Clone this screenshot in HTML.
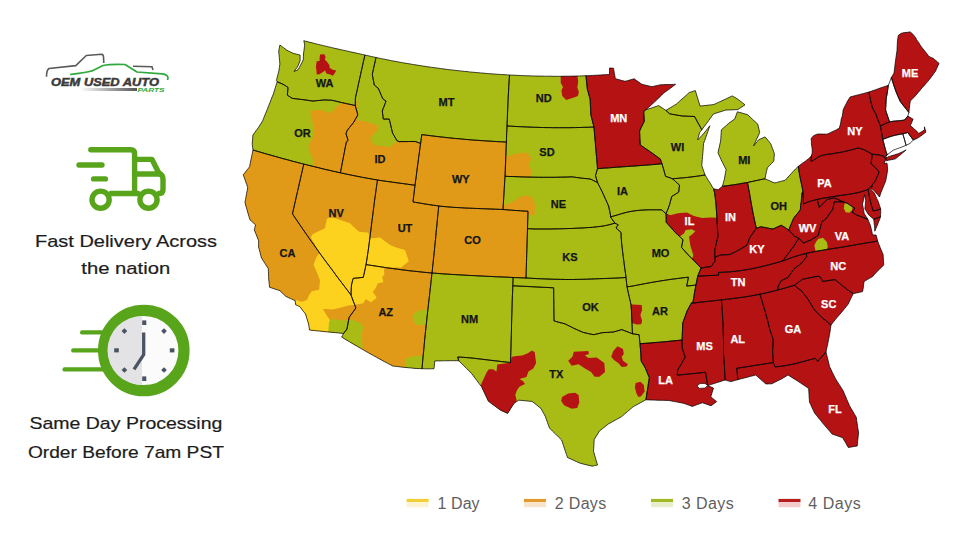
<!DOCTYPE html>
<html><head><meta charset="utf-8">
<style>
html,body{margin:0;padding:0;background:#fff;}
body{width:960px;height:540px;overflow:hidden;position:relative;font-family:"Liberation Sans",sans-serif;}
svg.map{position:absolute;left:0;top:0;}
.lbl{font-family:"Liberation Sans",sans-serif;font-weight:bold;font-size:11px;text-anchor:middle;}
</style></head><body>
<svg class="map" width="960" height="540" viewBox="0 0 960 540">
<defs><clipPath id="land"><path d="M303.8,40.7 304.3,43.0 304.7,45.3 304.3,47.8 304.0,50.4 303.6,52.9 303.4,56.3 303.3,59.8 301.9,62.5 300.5,65.2 299.3,67.5 298.0,69.8 296.0,70.6 294.0,71.4 295.7,69.2 297.4,67.1 298.8,63.9 300.1,60.7 300.1,57.9 300.1,55.1 298.2,54.6 296.3,54.1 294.5,53.6 292.6,53.1 290.6,52.1 288.6,51.1 286.7,50.1 285.0,48.8 283.3,47.5 281.6,46.2 279.9,45.0 279.3,48.1 278.7,51.3 279.0,54.5 279.3,57.6 279.6,60.8 279.9,64.0 279.4,67.4 278.9,70.8 278.3,73.2 277.6,75.7 277.0,78.2 276.4,80.6 277.2,81.7 279.1,82.6 281.1,83.4 283.0,84.3 284.7,85.3 286.4,86.4 288.0,87.4 287.8,90.0 287.6,92.6 287.4,95.2 289.0,96.2 290.5,97.3 292.1,98.3 294.2,98.6 296.4,98.8 298.5,99.1 300.7,99.4 302.8,99.6 305.0,99.9 307.0,100.2 309.0,100.5 311.1,100.8 313.1,101.1 315.3,100.8 317.6,100.6 319.8,100.4 322.0,100.2 324.2,99.9 326.1,100.0 327.9,100.1 329.8,100.2 331.6,100.2 333.8,100.7 335.9,101.2 338.0,101.7 340.2,102.2 342.3,102.7 344.5,103.2 346.6,103.7 348.8,104.1 351.0,104.6 353.1,105.1 355.3,105.5 355.3,103.1 355.4,100.6 355.4,98.2 356.1,94.8 356.9,91.5 357.6,88.1 358.3,84.8 359.0,81.5 359.8,78.1 360.5,74.8 361.2,71.5 362.0,68.2 362.7,64.9 363.4,61.6 364.2,58.3 364.9,55.0 362.7,54.5 360.6,54.0 358.4,53.6 356.3,53.1 354.1,52.6 352.0,52.2 349.8,51.7 347.7,51.2 345.6,50.7 343.5,50.3 341.4,49.8 339.2,49.3 337.1,48.8 335.0,48.4 332.9,47.9 330.8,47.4 328.7,46.9 326.7,46.4 324.6,45.9 322.5,45.4 320.4,44.9 318.3,44.4 316.2,43.9 314.2,43.4 312.1,42.8 310.0,42.3 308.0,41.8 305.9,41.3Z M277.2,81.7 276.2,84.8 275.3,87.8 274.3,90.9 273.4,93.9 272.2,96.8 271.1,99.6 270.0,102.5 268.8,105.4 267.7,108.2 266.7,110.8 265.6,113.3 264.6,115.8 263.6,118.4 262.6,120.9 260.7,123.9 258.8,126.9 256.9,129.6 254.9,132.3 252.9,135.1 252.7,138.2 252.4,141.3 252.2,144.4 252.6,147.2 253.0,150.0 255.3,150.7 257.6,151.4 259.8,152.0 262.1,152.7 264.4,153.4 266.7,154.0 269.0,154.7 271.3,155.3 273.6,156.0 275.9,156.6 278.2,157.3 280.5,157.9 282.8,158.6 285.2,159.2 287.5,159.8 289.8,160.4 292.1,161.1 294.5,161.7 296.8,162.3 299.1,162.9 301.5,163.5 303.8,164.1 306.2,164.7 308.6,165.3 311.1,165.9 313.5,166.5 315.9,167.1 318.4,167.7 320.8,168.3 323.3,168.9 325.7,169.5 328.1,170.0 330.6,170.6 333.0,171.2 335.5,171.7 337.9,172.3 340.4,172.8 341.0,169.4 341.7,166.1 342.3,162.7 343.0,159.3 343.6,156.0 344.3,152.6 344.9,149.2 345.6,145.8 346.3,142.4 348.0,140.2 347.0,136.9 346.0,133.6 346.6,131.9 347.3,130.3 349.5,127.5 351.7,124.8 353.9,122.0 355.2,119.6 356.5,117.3 357.8,114.9 357.0,111.8 356.1,108.7 355.3,105.5 353.1,105.1 351.0,104.6 348.8,104.1 346.6,103.7 344.5,103.2 342.3,102.7 340.2,102.2 338.0,101.7 335.9,101.2 333.8,100.7 331.6,100.2 329.8,100.2 327.9,100.1 326.1,100.0 324.2,99.9 322.0,100.2 319.8,100.4 317.6,100.6 315.3,100.8 313.1,101.1 311.1,100.8 309.0,100.5 307.0,100.2 305.0,99.9 302.8,99.6 300.7,99.4 298.5,99.1 296.4,98.8 294.2,98.6 292.1,98.3 290.5,97.3 289.0,96.2 287.4,95.2 287.6,92.6 287.8,90.0 288.0,87.4 286.4,86.4 284.7,85.3 283.0,84.3 281.1,83.4 279.1,82.6Z M309.5,330.0 309.1,327.1 308.6,324.2 307.6,320.8 306.5,317.3 305.5,313.9 303.5,311.5 301.6,309.0 299.7,306.5 297.7,305.7 295.7,304.8 295.4,302.7 295.1,300.6 292.8,299.6 290.5,298.6 288.2,297.5 285.9,296.4 283.9,294.5 281.9,292.6 279.9,290.7 277.3,289.8 274.7,289.0 272.1,288.1 269.5,287.2 269.3,284.6 269.0,281.9 268.7,279.2 268.6,276.5 268.5,273.9 268.4,271.2 268.3,268.6 266.6,266.0 264.9,263.3 263.2,260.7 261.5,258.1 260.7,255.3 260.0,252.4 259.3,249.6 258.5,246.8 258.6,243.7 258.6,240.7 257.2,237.1 255.7,233.4 254.3,229.8 254.9,227.4 255.6,224.9 253.7,223.2 251.8,221.5 250.0,219.8 248.9,216.3 247.9,212.9 246.9,209.4 245.9,206.0 245.0,202.5 245.5,199.5 246.1,196.5 246.6,193.4 247.2,190.4 247.7,187.4 246.6,184.2 245.5,181.1 244.4,177.9 243.3,174.8 245.4,172.1 247.5,169.4 249.6,166.7 250.2,163.4 250.9,160.0 251.6,156.7 252.3,153.3 253.0,150.0 255.3,150.7 257.6,151.4 259.8,152.0 262.1,152.7 264.4,153.4 266.7,154.0 269.0,154.7 271.3,155.3 273.6,156.0 275.9,156.6 278.2,157.3 280.5,157.9 282.8,158.6 285.2,159.2 287.5,159.8 289.8,160.4 292.1,161.1 294.5,161.7 296.8,162.3 299.1,162.9 301.5,163.5 303.8,164.1 303.0,167.4 302.3,170.7 301.5,174.1 300.7,177.4 300.0,180.7 299.2,184.0 298.5,187.3 297.7,190.6 297.0,193.9 296.2,197.2 295.5,200.5 294.7,203.8 294.0,207.1 293.2,210.4 292.5,213.8 294.5,216.9 296.6,220.0 298.7,223.1 300.8,226.2 302.9,229.2 305.0,232.3 307.2,235.4 309.3,238.5 311.5,241.6 313.7,244.6 315.9,247.7 318.0,250.7 320.2,253.8 322.4,256.8 324.6,259.8 326.8,262.8 329.1,265.8 331.3,268.8 333.5,271.7 335.6,274.7 337.8,277.6 340.0,280.5 342.2,283.4 344.4,286.3 346.6,289.2 348.8,292.1 351.0,295.0 352.2,298.2 353.4,301.5 354.7,304.7 355.9,308.0 353.7,311.1 351.4,314.2 349.2,317.2 348.6,320.2 348.0,323.2 347.5,326.2 346.9,329.1 345.3,331.3 343.6,333.4 340.9,333.2 338.3,332.9 335.7,332.7 333.1,332.4 330.4,332.2 327.8,331.9 325.2,331.7 322.6,331.4 320.0,331.1 317.4,330.9 314.7,330.6 312.1,330.3Z M303.8,164.1 306.2,164.7 308.6,165.3 311.1,165.9 313.5,166.5 315.9,167.1 318.4,167.7 320.8,168.3 323.3,168.9 325.7,169.5 328.1,170.0 330.6,170.6 333.0,171.2 335.5,171.7 337.9,172.3 340.4,172.8 342.9,173.3 345.3,173.9 347.8,174.4 350.3,174.9 352.7,175.4 355.2,175.9 357.7,176.4 360.2,176.9 362.6,177.4 365.1,177.8 367.6,178.3 370.1,178.7 372.5,179.2 375.0,179.6 377.5,180.0 377.0,183.4 376.5,186.7 376.0,190.1 375.6,193.5 375.1,196.8 374.6,200.2 374.2,203.6 373.8,207.0 373.3,210.4 372.9,213.8 372.5,217.2 372.0,220.6 371.6,224.0 371.2,227.4 370.8,230.8 370.3,234.2 369.9,237.6 369.5,241.0 369.0,244.4 368.6,247.8 368.1,251.2 367.6,254.5 367.1,257.9 366.6,261.2 366.0,264.5 365.4,267.7 364.7,270.9 364.0,274.1 363.3,277.3 360.8,277.6 358.2,277.9 355.7,278.1 353.2,278.4 352.6,280.6 352.0,282.8 351.5,285.0 351.3,287.5 351.2,290.0 351.1,292.5 351.0,295.0 348.8,292.1 346.6,289.2 344.4,286.3 342.2,283.4 340.0,280.5 337.8,277.6 335.6,274.7 333.5,271.7 331.3,268.8 329.1,265.8 326.8,262.8 324.6,259.8 322.4,256.8 320.2,253.8 318.0,250.7 315.9,247.7 313.7,244.6 311.5,241.6 309.3,238.5 307.2,235.4 305.0,232.3 302.9,229.2 300.8,226.2 298.7,223.1 296.6,220.0 294.5,216.9 292.5,213.8 293.2,210.4 294.0,207.1 294.7,203.8 295.5,200.5 296.2,197.2 297.0,193.9 297.7,190.6 298.5,187.3 299.2,184.0 300.0,180.7 300.7,177.4 301.5,174.1 302.3,170.7 303.0,167.4Z M364.9,55.0 367.1,55.5 369.3,56.0 371.5,56.5 373.8,57.0 376.0,57.5 375.4,60.3 374.8,63.1 374.1,65.9 373.5,68.7 372.9,71.6 372.3,74.4 372.9,77.9 373.6,81.4 374.2,84.9 375.6,86.1 376.9,87.2 378.3,88.3 379.8,91.8 381.3,95.3 382.8,98.8 384.4,100.0 386.0,101.1 385.1,103.6 384.2,106.0 383.2,108.5 382.3,110.9 382.6,113.6 383.0,116.3 383.3,119.0 385.3,119.1 387.3,119.1 389.3,119.2 390.1,122.6 390.9,126.0 391.7,129.4 392.5,132.8 393.9,135.4 395.4,137.9 396.8,140.5 398.0,141.1 399.1,141.7 401.6,141.6 404.1,141.6 406.3,141.6 408.6,141.5 410.8,141.5 413.0,141.5 415.3,141.5 417.0,142.1 418.8,142.8 420.6,143.4 420.1,146.6 419.7,149.9 419.3,153.1 418.8,156.3 418.4,159.6 418.0,162.8 417.5,166.0 417.1,169.2 416.7,172.5 416.3,175.7 415.9,178.9 415.4,182.1 415.0,185.3 412.5,184.9 410.0,184.6 407.5,184.2 405.0,183.9 402.5,183.5 400.0,183.2 397.5,182.9 395.0,182.5 392.5,182.2 390.0,181.8 387.5,181.5 385.0,181.1 382.5,180.8 380.0,180.4 377.5,180.0 375.0,179.6 372.5,179.2 370.1,178.7 367.6,178.3 365.1,177.8 362.6,177.4 360.2,176.9 357.7,176.4 355.2,175.9 352.7,175.4 350.3,174.9 347.8,174.4 345.3,173.9 342.9,173.3 340.4,172.8 341.0,169.4 341.7,166.1 342.3,162.7 343.0,159.3 343.6,156.0 344.3,152.6 344.9,149.2 345.6,145.8 346.3,142.4 348.0,140.2 347.0,136.9 346.0,133.6 346.6,131.9 347.3,130.3 349.5,127.5 351.7,124.8 353.9,122.0 355.2,119.6 356.5,117.3 357.8,114.9 357.0,111.8 356.1,108.7 355.3,105.5 355.3,103.1 355.4,100.6 355.4,98.2 356.1,94.8 356.9,91.5 357.6,88.1 358.3,84.8 359.0,81.5 359.8,78.1 360.5,74.8 361.2,71.5 362.0,68.2 362.7,64.9 363.4,61.6 364.2,58.3Z M376.0,57.5 378.2,58.0 380.4,58.4 382.7,58.9 384.9,59.3 387.1,59.8 389.3,60.2 391.5,60.7 393.8,61.1 396.0,61.5 398.2,61.9 400.4,62.3 402.6,62.7 404.9,63.1 407.1,63.5 409.3,63.8 411.5,64.2 413.7,64.6 416.0,64.9 418.2,65.3 420.4,65.6 422.6,66.0 424.9,66.3 427.1,66.7 429.3,67.0 431.5,67.3 433.8,67.6 436.0,67.9 438.2,68.2 440.4,68.5 442.7,68.8 444.9,69.1 447.1,69.4 449.3,69.7 451.6,69.9 453.8,70.2 456.0,70.4 458.3,70.7 460.5,70.9 462.7,71.2 464.9,71.4 467.2,71.6 469.4,71.9 471.6,72.1 473.9,72.3 476.1,72.5 478.3,72.7 480.5,72.9 482.8,73.1 485.0,73.3 487.2,73.5 489.5,73.7 491.7,73.8 493.9,74.0 496.1,74.2 498.4,74.3 500.6,74.5 502.8,74.6 505.0,74.7 507.3,74.9 509.5,75.0 509.3,78.2 509.1,81.3 508.9,84.5 508.7,87.7 508.6,90.9 508.4,94.0 508.2,97.2 508.1,100.4 507.9,103.6 507.8,106.8 507.7,109.9 507.5,113.1 507.4,116.3 507.3,119.6 507.1,122.8 507.0,126.0 506.9,129.2 506.7,132.4 506.6,135.6 506.5,138.8 506.4,142.1 504.0,141.9 501.6,141.8 499.2,141.7 496.8,141.6 494.4,141.4 492.0,141.3 489.6,141.1 487.2,141.0 484.8,140.8 482.4,140.7 480.0,140.5 477.6,140.3 475.1,140.2 472.7,140.0 470.3,139.8 467.9,139.6 465.5,139.4 463.0,139.2 460.6,138.9 458.2,138.7 455.7,138.5 453.3,138.3 450.9,138.0 448.5,137.8 446.0,137.5 443.6,137.2 441.2,137.0 438.8,136.7 436.3,136.4 433.9,136.1 431.5,135.8 429.1,135.5 426.6,135.2 424.2,134.9 421.8,134.6 421.4,137.5 421.0,140.5 420.6,143.4 418.8,142.8 417.0,142.1 415.3,141.5 413.0,141.5 410.8,141.5 408.6,141.5 406.3,141.6 404.1,141.6 401.6,141.6 399.1,141.7 398.0,141.1 396.8,140.5 395.4,137.9 393.9,135.4 392.5,132.8 391.7,129.4 390.9,126.0 390.1,122.6 389.3,119.2 387.3,119.1 385.3,119.1 383.3,119.0 383.0,116.3 382.6,113.6 382.3,110.9 383.2,108.5 384.2,106.0 385.1,103.6 386.0,101.1 384.4,100.0 382.8,98.8 381.3,95.3 379.8,91.8 378.3,88.3 376.9,87.2 375.6,86.1 374.2,84.9 373.6,81.4 372.9,77.9 372.3,74.4 372.9,71.6 373.5,68.7 374.1,65.9 374.8,63.1 375.4,60.3Z M420.6,143.4 421.0,140.5 421.4,137.5 421.8,134.6 424.2,134.9 426.6,135.2 429.1,135.5 431.5,135.8 433.9,136.1 436.3,136.4 438.8,136.7 441.2,137.0 443.6,137.2 446.0,137.5 448.5,137.8 450.9,138.0 453.3,138.3 455.7,138.5 458.2,138.7 460.6,138.9 463.0,139.2 465.5,139.4 467.9,139.6 470.3,139.8 472.7,140.0 475.1,140.2 477.6,140.3 480.0,140.5 482.4,140.7 484.8,140.8 487.2,141.0 489.6,141.1 492.0,141.3 494.4,141.4 496.8,141.6 499.2,141.7 501.6,141.8 504.0,141.9 506.4,142.1 506.2,145.5 506.1,148.9 506.0,152.4 505.8,155.8 505.7,159.2 505.6,162.7 505.4,166.1 505.3,169.5 505.2,172.9 505.0,176.2 504.8,179.6 504.6,182.9 504.4,186.2 504.2,189.5 504.0,192.9 503.8,196.2 503.6,199.5 503.4,202.8 503.2,206.1 503.0,209.5 500.5,209.4 497.9,209.3 495.4,209.2 492.9,209.1 490.3,209.0 487.8,208.9 485.2,208.8 482.6,208.7 480.1,208.6 477.5,208.5 474.9,208.4 472.3,208.3 469.8,208.2 467.2,208.1 464.6,208.0 462.0,207.8 459.4,207.7 456.9,207.5 454.3,207.4 451.7,207.2 449.1,207.0 446.5,206.8 443.9,206.5 441.3,206.3 438.8,206.0 436.2,205.6 433.6,205.3 431.0,204.9 428.4,204.5 425.8,204.1 423.3,203.7 420.7,203.2 418.1,202.8 415.6,202.4 413.0,202.0 413.4,198.6 413.8,195.3 414.2,192.0 414.6,188.6 415.0,185.3 415.4,182.1 415.9,178.9 416.3,175.7 416.7,172.5 417.1,169.2 417.5,166.0 418.0,162.8 418.4,159.6 418.8,156.3 419.3,153.1 419.7,149.9 420.1,146.6Z M377.5,180.0 380.0,180.4 382.5,180.8 385.0,181.1 387.5,181.5 390.0,181.8 392.5,182.2 395.0,182.5 397.5,182.9 400.0,183.2 402.5,183.5 405.0,183.9 407.5,184.2 410.0,184.6 412.5,184.9 415.0,185.3 414.6,188.6 414.2,192.0 413.8,195.3 413.4,198.6 413.0,202.0 415.6,202.4 418.1,202.8 420.7,203.2 423.3,203.7 425.8,204.1 428.4,204.5 431.0,204.9 433.6,205.3 436.2,205.6 438.8,206.0 438.4,209.4 438.1,212.7 437.7,216.1 437.4,219.4 437.1,222.8 436.8,226.1 436.4,229.5 436.1,232.8 435.8,236.2 435.5,239.5 435.1,242.9 434.8,246.3 434.5,249.6 434.1,253.0 433.8,256.3 433.4,259.7 433.1,263.0 432.7,266.3 432.4,269.7 432.0,273.0 429.3,272.8 426.7,272.5 424.0,272.3 421.4,272.0 418.7,271.7 416.1,271.4 413.5,271.2 410.8,270.9 408.2,270.6 405.5,270.2 402.9,269.9 400.3,269.6 397.6,269.2 395.0,268.9 392.4,268.5 389.8,268.2 387.1,267.8 384.5,267.4 381.9,267.0 379.2,266.6 376.6,266.2 374.0,265.8 371.3,265.4 368.7,265.0 366.0,264.5 366.6,261.2 367.1,257.9 367.6,254.5 368.1,251.2 368.6,247.8 369.0,244.4 369.5,241.0 369.9,237.6 370.3,234.2 370.8,230.8 371.2,227.4 371.6,224.0 372.0,220.6 372.5,217.2 372.9,213.8 373.3,210.4 373.8,207.0 374.2,203.6 374.6,200.2 375.1,196.8 375.6,193.5 376.0,190.1 376.5,186.7 377.0,183.4Z M438.8,206.0 441.3,206.3 443.9,206.5 446.5,206.8 449.1,207.0 451.7,207.2 454.3,207.4 456.9,207.5 459.4,207.7 462.0,207.8 464.6,208.0 467.2,208.1 469.8,208.2 472.3,208.3 474.9,208.4 477.5,208.5 480.1,208.6 482.6,208.7 485.2,208.8 487.8,208.9 490.3,209.0 492.9,209.1 495.4,209.2 497.9,209.3 500.5,209.4 503.0,209.5 505.5,209.7 508.0,209.9 510.5,210.1 513.0,210.3 515.5,210.5 518.0,210.6 520.5,210.8 523.0,211.0 525.5,211.1 528.0,211.3 527.9,214.8 527.8,218.3 527.7,221.8 527.6,225.3 527.5,228.7 527.4,232.1 527.3,235.5 527.2,238.8 527.1,242.1 527.0,245.4 526.9,248.6 526.8,251.9 526.7,255.1 526.6,258.4 526.5,261.6 526.4,264.9 526.3,268.2 526.2,271.4 526.1,274.7 526.0,278.0 523.4,277.9 520.8,277.8 518.2,277.7 515.7,277.6 513.1,277.5 510.5,277.4 507.8,277.2 505.2,277.1 502.6,277.0 500.0,276.9 497.3,276.8 494.7,276.7 492.1,276.5 489.5,276.4 486.9,276.3 484.2,276.2 481.6,276.0 479.0,275.9 476.4,275.8 473.8,275.6 471.1,275.5 468.5,275.4 465.9,275.2 463.3,275.1 460.7,274.9 458.1,274.8 455.4,274.6 452.8,274.5 450.2,274.3 447.6,274.1 445.0,274.0 442.4,273.8 439.8,273.6 437.2,273.4 434.6,273.2 432.0,273.0 432.4,269.7 432.7,266.3 433.1,263.0 433.4,259.7 433.8,256.3 434.1,253.0 434.5,249.6 434.8,246.3 435.1,242.9 435.5,239.5 435.8,236.2 436.1,232.8 436.4,229.5 436.8,226.1 437.1,222.8 437.4,219.4 437.7,216.1 438.1,212.7 438.4,209.4Z M366.0,264.5 368.7,265.0 371.3,265.4 374.0,265.8 376.6,266.2 379.2,266.6 381.9,267.0 384.5,267.4 387.1,267.8 389.8,268.2 392.4,268.5 395.0,268.9 397.6,269.2 400.3,269.6 402.9,269.9 405.5,270.2 408.2,270.6 410.8,270.9 413.5,271.2 416.1,271.4 418.7,271.7 421.4,272.0 424.0,272.3 426.7,272.5 429.3,272.8 432.0,273.0 431.6,276.2 431.3,279.5 430.9,282.7 430.6,285.9 430.2,289.1 429.8,292.4 429.5,295.6 429.1,298.8 428.7,302.1 428.4,305.3 428.0,308.5 427.6,311.8 427.3,315.0 426.9,318.3 426.6,321.6 426.2,324.9 425.9,328.2 425.5,331.5 425.2,334.8 424.8,338.2 424.5,341.5 424.2,344.9 423.9,348.3 423.6,351.7 423.2,355.1 422.9,358.5 422.6,361.9 422.3,365.3 422.0,368.7 419.3,368.6 416.7,368.5 414.0,368.3 411.4,368.0 408.7,367.8 406.1,367.5 403.4,367.3 400.7,367.0 398.1,366.6 395.4,366.3 392.7,366.0 390.0,364.5 387.3,363.1 384.5,361.7 381.8,360.2 379.1,358.7 376.4,357.2 373.7,355.7 371.0,354.2 368.3,352.7 365.6,351.2 362.9,349.6 360.2,348.1 357.6,346.5 354.9,345.0 352.2,343.4 349.6,341.8 347.0,340.3 344.3,338.7 341.7,337.1 342.6,335.3 343.6,333.4 345.3,331.3 346.9,329.1 347.5,326.2 348.0,323.2 348.6,320.2 349.2,317.2 351.4,314.2 353.7,311.1 355.9,308.0 354.7,304.7 353.4,301.5 352.2,298.2 351.0,295.0 351.1,292.5 351.2,290.0 351.3,287.5 351.5,285.0 352.0,282.8 352.6,280.6 353.2,278.4 355.7,278.1 358.2,277.9 360.8,277.6 363.3,277.3 364.0,274.1 364.7,270.9 365.4,267.7Z M432.0,273.0 434.6,273.2 437.2,273.4 439.8,273.6 442.4,273.8 445.0,274.0 447.6,274.1 450.2,274.3 452.8,274.5 455.4,274.6 458.1,274.8 460.7,274.9 463.3,275.1 465.9,275.2 468.5,275.4 471.1,275.5 473.8,275.6 476.4,275.8 479.0,275.9 481.6,276.0 484.2,276.2 486.9,276.3 489.5,276.4 492.1,276.5 494.7,276.7 497.3,276.8 500.0,276.9 502.6,277.0 505.2,277.1 507.8,277.2 510.5,277.4 513.1,277.5 513.0,280.2 512.9,283.0 512.8,285.8 512.7,289.1 512.6,292.4 512.4,295.7 512.3,299.0 512.2,302.3 512.1,305.6 512.0,309.0 511.9,312.3 511.8,315.6 511.7,318.9 511.6,322.3 511.5,325.6 511.5,329.0 511.4,332.3 511.3,335.7 511.2,339.0 511.1,342.4 511.0,345.7 510.9,349.1 510.8,352.4 510.7,355.8 510.6,359.2 510.5,362.5 507.6,362.2 504.6,361.9 501.7,361.6 498.8,361.2 495.8,360.9 492.9,360.5 489.9,360.2 487.0,359.8 484.0,359.5 481.1,359.1 478.1,358.8 475.2,358.4 472.3,358.1 469.3,357.8 466.4,357.6 463.5,357.3 460.6,357.2 457.7,357.0 458.2,358.9 458.8,360.8 456.1,360.7 453.4,360.7 450.7,360.7 448.0,360.7 445.3,360.8 442.7,360.8 440.0,360.9 437.4,360.9 434.7,361.0 434.5,363.6 434.3,366.2 434.0,368.7 431.6,368.8 429.2,368.8 426.8,368.8 424.4,368.8 422.0,368.7 422.3,365.3 422.6,361.9 422.9,358.5 423.2,355.1 423.6,351.7 423.9,348.3 424.2,344.9 424.5,341.5 424.8,338.2 425.2,334.8 425.5,331.5 425.9,328.2 426.2,324.9 426.6,321.6 426.9,318.3 427.3,315.0 427.6,311.8 428.0,308.5 428.4,305.3 428.7,302.1 429.1,298.8 429.5,295.6 429.8,292.4 430.2,289.1 430.6,285.9 430.9,282.7 431.3,279.5 431.6,276.2Z M458.8,360.8 458.2,358.9 457.7,357.0 460.6,357.2 463.5,357.3 466.4,357.6 469.3,357.8 472.3,358.1 475.2,358.4 478.1,358.8 481.1,359.1 484.0,359.5 487.0,359.8 489.9,360.2 492.9,360.5 495.8,360.9 498.8,361.2 501.7,361.6 504.6,361.9 507.6,362.2 510.5,362.5 510.6,359.2 510.7,355.8 510.8,352.4 510.9,349.1 511.0,345.7 511.1,342.4 511.2,339.0 511.3,335.7 511.4,332.3 511.5,329.0 511.5,325.6 511.6,322.3 511.7,318.9 511.8,315.6 511.9,312.3 512.0,309.0 512.1,305.6 512.2,302.3 512.3,299.0 512.4,295.7 512.6,292.4 512.7,289.1 512.8,285.8 515.5,285.9 518.2,286.1 520.9,286.2 523.7,286.3 526.4,286.4 529.1,286.6 531.8,286.7 534.6,286.9 537.3,287.0 540.0,287.2 542.7,287.3 545.5,287.4 548.2,287.5 550.9,287.7 553.6,287.8 553.7,291.1 553.7,294.4 553.7,297.7 553.8,301.0 553.8,304.3 553.8,307.7 553.9,311.0 553.9,314.3 554.0,317.6 554.0,320.9 556.8,321.7 559.7,322.5 562.5,323.2 565.3,324.0 567.4,325.1 569.5,326.1 571.7,327.2 573.8,328.3 576.1,329.3 578.4,330.4 580.8,331.4 583.1,332.4 585.7,333.0 588.4,333.6 591.1,334.2 593.8,334.7 595.9,334.2 598.0,333.7 600.1,333.2 602.2,332.7 605.0,332.5 607.8,332.4 610.6,332.2 613.5,332.0 616.3,331.2 619.0,330.4 621.8,329.6 624.5,330.7 627.1,331.7 629.8,332.7 632.5,333.8 634.7,334.1 636.9,334.4 639.1,334.8 639.4,337.7 639.7,340.7 640.0,343.7 640.2,346.6 640.5,349.5 640.7,352.4 640.9,355.3 641.0,358.2 641.2,361.1 643.2,364.4 645.1,367.6 646.2,370.1 647.2,372.6 648.2,375.1 649.3,377.5 648.9,380.6 648.4,383.6 648.0,386.6 647.5,389.6 647.1,392.1 646.7,394.7 646.3,397.3 645.8,399.8 643.3,401.2 640.8,402.6 638.3,403.9 635.8,405.3 633.3,406.6 630.4,409.1 627.5,411.6 624.5,414.1 621.6,416.6 619.0,418.1 616.3,419.6 613.6,421.1 611.0,422.5 608.3,424.0 605.3,426.4 602.4,428.7 599.4,431.0 597.7,433.9 595.9,436.7 594.2,439.6 594.0,442.5 593.9,445.4 593.7,448.3 593.5,451.2 594.3,454.0 595.1,456.7 595.9,459.5 596.7,462.3 597.5,465.0 594.8,465.6 592.1,466.2 589.1,465.4 586.0,464.7 582.9,463.9 579.8,463.1 576.7,461.7 573.7,460.3 570.6,458.9 567.5,457.5 566.5,454.6 565.5,451.7 564.5,448.8 563.6,445.8 562.6,442.9 561.6,440.0 558.6,437.1 555.6,434.1 552.6,431.2 549.6,428.2 548.5,425.3 547.4,422.3 546.4,419.4 545.3,416.4 543.8,413.7 542.4,411.1 540.9,408.4 538.0,406.1 535.1,403.7 532.1,401.4 529.4,401.2 526.8,400.9 524.1,400.7 521.4,400.4 518.7,400.2 516.4,401.7 514.1,403.3 512.5,405.8 510.8,408.4 509.2,411.0 507.6,413.5 505.1,412.3 502.6,411.2 500.2,410.0 497.8,408.2 495.5,406.5 493.1,404.8 490.8,403.1 488.4,401.3 486.7,397.7 485.0,394.1 483.3,390.5 481.6,386.8 479.1,383.6 476.7,380.3 474.2,377.0 471.8,373.7 469.1,371.0 466.5,368.4 463.9,365.8 461.3,363.3Z M513.1,277.5 515.7,277.6 518.2,277.7 520.8,277.8 523.4,277.9 526.0,278.0 528.6,278.1 531.3,278.3 533.9,278.4 536.6,278.6 539.2,278.7 541.9,278.8 544.5,278.9 547.1,279.0 549.8,279.1 552.4,279.2 555.1,279.3 557.7,279.3 560.3,279.4 563.0,279.4 565.6,279.5 568.2,279.5 570.8,279.5 573.5,279.5 576.1,279.4 578.7,279.4 581.3,279.3 583.9,279.3 586.5,279.2 589.1,279.1 591.7,279.0 594.3,278.9 596.9,278.8 599.6,278.7 602.2,278.6 604.8,278.5 607.4,278.4 610.1,278.3 612.7,278.2 615.4,278.1 618.0,278.0 620.7,277.8 623.3,277.7 626.0,277.4 626.3,280.7 626.7,283.8 627.0,286.8 627.7,290.0 628.4,293.2 629.1,296.3 629.8,299.3 630.5,302.3 631.1,305.3 631.3,308.5 631.5,311.7 631.6,314.8 631.7,317.9 631.9,321.1 632.0,324.2 632.2,327.4 632.3,330.6 632.5,333.8 629.8,332.7 627.1,331.7 624.5,330.7 621.8,329.6 619.0,330.4 616.3,331.2 613.5,332.0 610.6,332.2 607.8,332.4 605.0,332.5 602.2,332.7 600.1,333.2 598.0,333.7 595.9,334.2 593.8,334.7 591.1,334.2 588.4,333.6 585.7,333.0 583.1,332.4 580.8,331.4 578.4,330.4 576.1,329.3 573.8,328.3 571.7,327.2 569.5,326.1 567.4,325.1 565.3,324.0 562.5,323.2 559.7,322.5 556.8,321.7 554.0,320.9 554.0,317.6 553.9,314.3 553.9,311.0 553.8,307.7 553.8,304.3 553.8,301.0 553.7,297.7 553.7,294.4 553.7,291.1 553.6,287.8 550.9,287.7 548.2,287.5 545.5,287.4 542.7,287.3 540.0,287.2 537.3,287.0 534.6,286.9 531.8,286.7 529.1,286.6 526.4,286.4 523.7,286.3 520.9,286.2 518.2,286.1 515.5,285.9 512.8,285.8 512.9,283.0 513.0,280.2Z M526.0,278.0 526.1,274.7 526.2,271.4 526.3,268.2 526.4,264.9 526.5,261.6 526.6,258.4 526.7,255.1 526.8,251.9 526.9,248.6 527.0,245.4 527.1,242.1 527.2,238.8 527.3,235.5 527.4,232.1 527.5,228.7 530.1,228.8 532.6,228.9 535.2,229.0 537.7,229.0 540.3,229.0 542.9,229.0 545.5,229.0 548.1,229.0 550.7,229.0 553.3,228.9 555.9,228.9 558.5,228.8 561.1,228.8 563.7,228.7 566.3,228.6 568.9,228.5 571.5,228.5 574.2,228.3 576.8,228.2 579.4,228.1 582.1,228.0 584.7,227.8 587.3,227.6 589.9,227.5 592.5,227.3 595.1,227.0 597.7,226.7 600.3,226.4 602.8,226.1 605.3,225.6 607.7,225.1 610.1,224.5 612.5,223.8 614.8,223.1 616.5,223.9 618.2,224.8 617.1,226.3 616.0,227.9 617.5,229.3 619.2,230.8 621.1,232.6 621.1,236.1 621.4,239.9 621.7,243.9 622.2,248.0 622.7,252.2 623.2,256.5 623.8,260.8 624.3,265.0 624.9,269.3 625.5,273.4 626.0,277.4 623.3,277.7 620.7,277.8 618.0,278.0 615.4,278.1 612.7,278.2 610.1,278.3 607.4,278.4 604.8,278.5 602.2,278.6 599.6,278.7 596.9,278.8 594.3,278.9 591.7,279.0 589.1,279.1 586.5,279.2 583.9,279.3 581.3,279.3 578.7,279.4 576.1,279.4 573.5,279.5 570.8,279.5 568.2,279.5 565.6,279.5 563.0,279.4 560.3,279.4 557.7,279.3 555.1,279.3 552.4,279.2 549.8,279.1 547.1,279.0 544.5,278.9 541.9,278.8 539.2,278.7 536.6,278.6 533.9,278.4 531.3,278.3 528.6,278.1Z M505.0,176.2 504.8,179.6 504.6,182.9 504.4,186.2 504.2,189.5 504.0,192.9 503.8,196.2 503.6,199.5 503.4,202.8 503.2,206.1 503.0,209.5 505.5,209.7 508.0,209.9 510.5,210.1 513.0,210.3 515.5,210.5 518.0,210.6 520.5,210.8 523.0,211.0 525.5,211.1 528.0,211.3 527.9,214.8 527.8,218.3 527.7,221.8 527.6,225.3 527.5,228.7 530.1,228.8 532.6,228.9 535.2,229.0 537.7,229.0 540.3,229.0 542.9,229.0 545.5,229.0 548.1,229.0 550.7,229.0 553.3,228.9 555.9,228.9 558.5,228.8 561.1,228.8 563.7,228.7 566.3,228.6 568.9,228.5 571.5,228.5 574.2,228.3 576.8,228.2 579.4,228.1 582.1,228.0 584.7,227.8 587.3,227.6 589.9,227.5 592.5,227.3 595.1,227.0 597.7,226.7 600.3,226.4 602.8,226.1 605.3,225.6 607.7,225.1 610.1,224.5 612.5,223.8 614.8,223.1 613.5,221.2 612.1,219.2 610.4,216.9 610.7,216.5 610.3,214.1 609.8,211.5 609.2,208.9 608.6,206.1 607.0,202.4 605.3,198.7 603.6,194.9 601.9,191.2 600.4,188.2 598.9,185.3 597.6,182.6 595.2,181.4 592.8,180.2 590.6,179.1 588.3,178.8 586.0,178.6 583.7,178.4 581.4,178.1 579.1,177.8 576.8,177.5 574.5,177.2 572.2,176.8 569.8,176.9 567.4,177.0 565.0,177.1 562.6,177.1 560.1,177.2 557.7,177.2 555.3,177.3 552.9,177.3 550.5,177.3 548.1,177.3 545.7,177.3 543.3,177.3 540.9,177.3 538.5,177.3 536.1,177.2 533.7,177.2 531.4,177.1 529.0,177.1 526.6,177.0 524.2,177.0 521.8,176.9 519.4,176.8 517.0,176.7 514.6,176.6 512.2,176.5 509.8,176.5 507.4,176.4Z M507.0,126.0 509.3,126.1 511.6,126.2 513.9,126.4 516.2,126.5 518.5,126.6 520.8,126.7 523.1,126.8 525.3,126.9 527.6,127.0 529.9,127.1 532.2,127.2 534.5,127.3 536.8,127.3 539.0,127.4 541.3,127.5 543.6,127.5 545.9,127.6 548.2,127.6 550.4,127.6 552.7,127.7 555.0,127.7 557.3,127.7 559.6,127.7 561.9,127.7 564.2,127.7 566.4,127.7 568.7,127.7 571.0,127.7 573.3,127.6 575.6,127.6 577.9,127.5 580.2,127.5 582.5,127.4 584.8,127.3 587.1,127.3 589.4,127.2 591.7,127.1 594.0,127.0 594.2,130.3 594.5,133.6 594.8,136.9 595.1,140.3 595.4,143.6 595.6,146.9 595.9,150.1 596.2,153.4 596.5,156.6 596.8,159.7 597.0,162.8 597.3,165.8 597.5,168.7 596.8,171.0 596.2,173.3 595.5,175.5 596.1,177.8 596.8,180.1 597.6,182.6 595.2,181.4 592.8,180.2 590.6,179.1 588.3,178.8 586.0,178.6 583.7,178.4 581.4,178.1 579.1,177.8 576.8,177.5 574.5,177.2 572.2,176.8 569.8,176.9 567.4,177.0 565.0,177.1 562.6,177.1 560.1,177.2 557.7,177.2 555.3,177.3 552.9,177.3 550.5,177.3 548.1,177.3 545.7,177.3 543.3,177.3 540.9,177.3 538.5,177.3 536.1,177.2 533.7,177.2 531.4,177.1 529.0,177.1 526.6,177.0 524.2,177.0 521.8,176.9 519.4,176.8 517.0,176.7 514.6,176.6 512.2,176.5 509.8,176.5 507.4,176.4 505.0,176.2 505.2,172.9 505.3,169.5 505.4,166.1 505.6,162.7 505.7,159.2 505.8,155.8 506.0,152.4 506.1,148.9 506.2,145.5 506.4,142.1 506.5,138.8 506.6,135.6 506.7,132.4 506.9,129.2Z M509.5,75.0 511.7,75.1 513.9,75.2 516.0,75.3 518.2,75.4 520.4,75.5 522.6,75.6 524.8,75.7 526.9,75.8 529.1,75.8 531.3,75.9 533.5,76.0 535.7,76.0 537.9,76.1 540.0,76.1 542.2,76.1 544.4,76.2 546.6,76.2 548.8,76.2 551.0,76.2 553.1,76.3 555.3,76.3 557.5,76.3 559.7,76.3 561.9,76.3 564.1,76.2 566.3,76.2 568.5,76.2 570.6,76.2 572.8,76.1 575.0,76.1 577.2,76.0 579.4,76.0 581.6,75.9 583.8,75.8 586.0,75.7 586.3,79.1 586.6,82.4 587.0,85.7 587.3,89.0 588.0,91.5 588.7,94.0 589.4,96.5 590.1,99.0 590.3,102.1 590.4,105.3 590.6,108.5 590.7,111.7 590.9,114.9 591.6,117.9 592.4,120.9 593.2,124.0 594.0,127.0 591.7,127.1 589.4,127.2 587.1,127.3 584.8,127.3 582.5,127.4 580.2,127.5 577.9,127.5 575.6,127.6 573.3,127.6 571.0,127.7 568.7,127.7 566.4,127.7 564.2,127.7 561.9,127.7 559.6,127.7 557.3,127.7 555.0,127.7 552.7,127.7 550.4,127.6 548.2,127.6 545.9,127.6 543.6,127.5 541.3,127.5 539.0,127.4 536.8,127.3 534.5,127.3 532.2,127.2 529.9,127.1 527.6,127.0 525.3,126.9 523.1,126.8 520.8,126.7 518.5,126.6 516.2,126.5 513.9,126.4 511.6,126.2 509.3,126.1 507.0,126.0 507.1,122.8 507.3,119.6 507.4,116.3 507.5,113.1 507.7,109.9 507.8,106.8 507.9,103.6 508.1,100.4 508.2,97.2 508.4,94.0 508.6,90.9 508.7,87.7 508.9,84.5 509.1,81.3 509.3,78.2Z M586.0,75.7 588.1,75.7 590.3,75.6 592.4,75.4 594.5,75.3 596.7,75.2 598.8,75.1 600.9,75.0 603.1,74.8 605.2,74.7 607.4,74.5 609.5,74.4 609.5,71.2 609.5,68.0 611.5,68.1 613.5,68.2 613.9,70.8 614.4,73.4 614.9,76.1 615.3,78.7 617.3,79.2 619.2,79.7 621.1,80.3 623.1,80.8 625.0,81.3 627.3,80.7 629.6,80.1 631.9,79.4 634.2,78.8 636.1,80.2 638.1,81.6 640.0,83.0 641.9,84.3 643.9,84.8 645.9,85.3 647.9,85.7 649.9,86.2 652.0,86.7 654.1,86.2 656.3,85.7 658.5,85.2 660.7,84.7 662.8,84.7 665.0,84.6 667.1,84.6 669.2,84.5 671.3,84.5 673.4,84.4 675.6,84.3 673.3,86.1 671.0,87.8 668.7,89.5 666.3,91.2 664.0,92.8 661.8,95.0 659.5,97.2 657.2,99.4 654.9,101.6 652.7,103.8 650.4,105.8 648.1,107.7 645.9,109.7 643.7,111.5 643.9,114.7 644.1,117.9 644.3,121.2 642.7,124.5 641.1,127.7 639.6,131.0 639.7,133.8 639.8,136.6 639.9,139.4 640.1,142.1 640.3,144.9 642.4,146.4 644.6,147.9 646.8,149.4 649.4,151.2 652.1,153.1 654.1,154.5 656.1,156.0 658.1,157.5 660.2,158.9 661.1,161.3 662.0,163.7 659.7,164.0 657.4,164.2 655.0,164.4 652.7,164.6 650.3,164.8 648.0,165.0 645.6,165.2 643.2,165.4 640.8,165.5 638.5,165.7 636.1,165.9 633.6,166.1 631.2,166.2 628.8,166.4 626.4,166.6 624.0,166.7 621.6,166.9 619.1,167.1 616.7,167.2 614.3,167.4 611.9,167.6 609.5,167.8 607.0,168.0 604.6,168.1 602.3,168.3 599.9,168.5 597.5,168.7 597.3,165.8 597.0,162.8 596.8,159.7 596.5,156.6 596.2,153.4 595.9,150.1 595.6,146.9 595.4,143.6 595.1,140.3 594.8,136.9 594.5,133.6 594.2,130.3 594.0,127.0 593.2,124.0 592.4,120.9 591.6,117.9 590.9,114.9 590.7,111.7 590.6,108.5 590.4,105.3 590.3,102.1 590.1,99.0 589.4,96.5 588.7,94.0 588.0,91.5 587.3,89.0 587.0,85.7 586.6,82.4 586.3,79.1Z M597.5,168.7 599.9,168.5 602.3,168.3 604.6,168.1 607.0,168.0 609.5,167.8 611.9,167.6 614.3,167.4 616.7,167.2 619.1,167.1 621.6,166.9 624.0,166.7 626.4,166.6 628.8,166.4 631.2,166.2 633.6,166.1 636.1,165.9 638.5,165.7 640.8,165.5 643.2,165.4 645.6,165.2 648.0,165.0 650.3,164.8 652.7,164.6 655.0,164.4 657.4,164.2 659.7,164.0 662.0,163.7 662.9,166.9 663.8,170.0 664.7,173.2 665.6,176.3 667.9,177.1 670.2,177.9 672.5,178.8 674.8,180.8 677.1,183.0 679.5,185.1 679.1,188.6 678.7,192.1 677.0,193.2 675.3,194.3 673.5,195.4 671.7,196.5 671.1,199.0 670.4,201.4 669.8,203.9 668.9,206.4 668.0,208.9 667.0,211.3 666.0,213.8 663.9,211.8 661.7,209.9 659.1,209.8 656.5,209.8 653.9,209.8 651.3,209.8 648.6,209.8 646.1,209.9 643.5,210.0 640.9,210.2 638.4,210.4 635.9,210.7 633.4,211.0 631.0,211.4 628.6,211.9 626.3,212.4 624.0,213.0 621.7,213.6 619.5,214.3 617.2,215.0 615.0,215.7 612.7,216.3 610.4,216.9 610.7,216.5 610.3,214.1 609.8,211.5 609.2,208.9 608.6,206.1 607.0,202.4 605.3,198.7 603.6,194.9 601.9,191.2 600.4,188.2 598.9,185.3 597.6,182.6 596.8,180.1 596.1,177.8 595.5,175.5 596.2,173.3 596.8,171.0Z M610.4,216.9 612.7,216.3 615.0,215.7 617.2,215.0 619.5,214.3 621.7,213.6 624.0,213.0 626.3,212.4 628.6,211.9 631.0,211.4 633.4,211.0 635.9,210.7 638.4,210.4 640.9,210.2 643.5,210.0 646.1,209.9 648.6,209.8 651.3,209.8 653.9,209.8 656.5,209.8 659.1,209.8 661.7,209.9 663.9,211.8 666.0,213.8 666.1,216.6 666.2,219.5 666.2,222.3 668.5,224.8 670.7,227.3 672.9,229.8 675.2,232.4 677.8,234.8 680.4,237.3 683.0,239.7 682.5,242.2 682.0,244.8 681.5,247.3 684.0,250.2 686.5,253.0 689.1,255.8 691.7,258.4 694.3,261.0 696.5,263.3 698.7,265.7 701.0,268.0 699.9,270.7 698.8,273.4 697.7,276.3 697.1,279.2 696.5,282.1 695.9,285.0 693.6,285.3 691.3,285.6 689.0,285.8 686.7,286.1 687.3,283.1 687.9,280.1 688.4,277.2 685.7,277.5 682.9,277.8 680.2,278.2 677.5,278.5 674.7,278.9 672.0,279.2 669.3,279.6 666.6,280.0 663.9,280.4 661.2,280.8 658.5,281.3 655.9,281.7 653.2,282.2 650.5,282.6 647.9,283.1 645.3,283.6 642.6,284.1 640.0,284.6 637.4,285.1 634.8,285.6 632.2,286.1 629.6,286.5 627.0,286.8 626.7,283.8 626.3,280.7 626.0,277.4 625.5,273.4 624.9,269.3 624.3,265.0 623.8,260.8 623.2,256.5 622.7,252.2 622.2,248.0 621.7,243.9 621.4,239.9 621.1,236.1 621.1,232.6 619.2,230.8 617.5,229.3 616.0,227.9 617.1,226.3 618.2,224.8 616.5,223.9 614.8,223.1 613.5,221.2 612.1,219.2Z M627.0,286.8 629.6,286.5 632.2,286.1 634.8,285.6 637.4,285.1 640.0,284.6 642.6,284.1 645.3,283.6 647.9,283.1 650.5,282.6 653.2,282.2 655.9,281.7 658.5,281.3 661.2,280.8 663.9,280.4 666.6,280.0 669.3,279.6 672.0,279.2 674.7,278.9 677.5,278.5 680.2,278.2 682.9,277.8 685.7,277.5 688.4,277.2 687.9,280.1 687.3,283.1 686.7,286.1 689.0,285.8 691.3,285.6 693.6,285.3 695.9,285.0 695.3,288.6 694.6,292.2 694.1,295.2 693.6,298.3 693.1,301.3 691.2,303.4 689.1,307.2 687.1,311.0 686.0,314.1 684.9,317.1 683.8,320.2 682.7,323.2 682.6,326.5 682.5,329.9 682.3,333.3 682.2,336.6 682.0,340.0 679.2,340.3 676.4,340.6 673.6,340.8 670.8,341.1 668.0,341.4 665.2,341.7 662.4,341.9 659.6,342.2 656.8,342.4 654.0,342.6 651.2,342.9 648.4,343.1 645.6,343.3 642.8,343.5 640.0,343.7 639.7,340.7 639.4,337.7 639.1,334.8 636.9,334.4 634.7,334.1 632.5,333.8 632.3,330.6 632.2,327.4 632.0,324.2 631.9,321.1 631.7,317.9 631.6,314.8 631.5,311.7 631.3,308.5 631.1,305.3 630.5,302.3 629.8,299.3 629.1,296.3 628.4,293.2 627.7,290.0Z M640.0,343.7 642.8,343.5 645.6,343.3 648.4,343.1 651.2,342.9 654.0,342.6 656.8,342.4 659.6,342.2 662.4,341.9 665.2,341.7 668.0,341.4 670.8,341.1 673.6,340.8 676.4,340.6 679.2,340.3 682.0,340.0 682.1,342.9 682.2,345.8 682.3,348.7 683.3,351.5 684.2,354.3 685.2,357.1 683.3,360.3 681.5,363.6 679.6,366.8 677.7,369.9 677.5,372.5 677.2,375.1 680.1,374.9 682.9,374.6 685.7,374.3 688.5,374.0 691.4,373.7 694.2,373.5 697.0,373.2 699.8,372.9 702.6,372.6 705.5,372.3 705.9,374.9 706.4,377.6 706.8,380.2 707.2,382.9 707.7,385.5 710.6,386.8 713.5,388.1 712.6,391.0 711.7,393.9 710.8,396.7 712.7,398.4 714.7,400.0 716.6,401.7 714.7,403.0 712.9,404.4 711.0,405.7 708.1,404.7 705.2,403.7 702.3,402.7 699.8,403.7 697.3,404.6 694.8,405.5 692.2,406.4 689.3,405.3 686.3,404.3 683.4,403.2 680.4,402.7 677.5,402.1 674.5,401.6 671.6,401.0 668.6,400.5 665.8,400.4 662.9,400.3 660.1,400.3 657.2,400.2 654.4,400.1 651.5,400.0 648.7,399.9 645.8,399.8 646.3,397.3 646.7,394.7 647.1,392.1 647.5,389.6 648.0,386.6 648.4,383.6 648.9,380.6 649.3,377.5 648.2,375.1 647.2,372.6 646.2,370.1 645.1,367.6 643.2,364.4 641.2,361.1 641.0,358.2 640.9,355.3 640.7,352.4 640.5,349.5 640.2,346.6Z M691.2,303.4 693.9,303.0 696.6,302.7 699.3,302.3 702.1,302.0 704.8,301.7 707.6,301.4 710.3,301.1 713.1,300.8 715.8,300.5 718.6,300.2 721.4,299.9 721.7,303.3 721.9,306.6 722.2,310.0 722.4,313.5 722.6,316.9 722.8,320.3 723.0,323.8 723.1,327.2 723.2,330.6 723.3,334.1 723.4,337.5 723.5,341.0 723.5,344.4 723.5,347.8 723.5,351.2 723.5,354.6 723.8,357.8 724.0,361.1 724.3,364.3 724.5,367.4 724.6,370.6 724.8,373.8 724.9,376.9 725.0,380.0 722.1,380.9 719.2,381.9 716.3,382.8 713.5,383.7 710.6,384.6 707.7,385.5 707.2,382.9 706.8,380.2 706.4,377.6 705.9,374.9 705.5,372.3 702.6,372.6 699.8,372.9 697.0,373.2 694.2,373.5 691.4,373.7 688.5,374.0 685.7,374.3 682.9,374.6 680.1,374.9 677.2,375.1 677.5,372.5 677.7,369.9 679.6,366.8 681.5,363.6 683.3,360.3 685.2,357.1 684.2,354.3 683.3,351.5 682.3,348.7 682.2,345.8 682.1,342.9 682.0,340.0 682.2,336.6 682.3,333.3 682.5,329.9 682.6,326.5 682.7,323.2 683.8,320.2 684.9,317.1 686.0,314.1 687.1,311.0 689.1,307.2Z M721.4,299.9 724.4,299.6 727.3,299.2 730.3,298.9 733.3,298.5 736.3,298.1 739.2,297.7 742.2,297.3 745.2,296.9 748.1,296.4 751.1,295.9 754.0,295.4 756.9,294.8 759.8,294.2 760.9,297.4 761.9,300.5 762.8,303.7 763.8,307.0 764.8,310.2 765.7,313.5 766.6,316.7 767.5,320.0 768.3,323.3 769.1,326.7 770.0,330.0 771.0,333.1 772.1,336.2 773.1,339.3 773.0,342.5 772.9,345.7 772.7,348.9 772.6,352.1 772.8,354.7 773.0,357.4 773.2,359.9 773.3,362.5 770.4,363.0 767.5,363.5 764.7,363.9 761.8,364.4 759.0,364.8 756.2,365.2 753.5,365.7 750.7,366.1 747.9,366.6 745.1,367.0 742.3,367.4 739.5,367.9 736.7,368.3 737.0,371.2 737.3,374.0 737.6,376.9 737.8,379.7 735.5,380.3 733.1,381.0 730.7,381.6 728.8,381.1 726.9,380.5 725.0,380.0 724.9,376.9 724.8,373.8 724.6,370.6 724.5,367.4 724.3,364.3 724.0,361.1 723.8,357.8 723.5,354.6 723.5,351.2 723.5,347.8 723.5,344.4 723.5,341.0 723.4,337.5 723.3,334.1 723.2,330.6 723.1,327.2 723.0,323.8 722.8,320.3 722.6,316.9 722.4,313.5 722.2,310.0 721.9,306.6 721.7,303.3Z M759.8,294.2 762.5,293.7 765.2,293.1 767.8,292.5 770.4,291.9 773.0,291.2 775.6,290.6 778.1,289.9 780.5,289.3 782.8,288.6 785.2,288.0 787.5,287.3 789.7,286.6 792.0,286.0 794.2,285.3 796.6,287.2 799.1,289.1 801.5,290.9 803.7,293.7 805.9,296.5 808.1,299.3 809.7,302.0 811.3,304.7 812.9,307.4 814.6,310.0 816.5,312.0 818.4,313.9 820.3,315.8 822.3,317.8 825.2,320.1 828.1,322.5 831.0,325.1 830.5,328.4 830.0,331.9 829.4,335.5 828.6,339.5 827.8,343.6 826.9,347.7 826.0,351.8 823.3,355.0 820.5,358.2 817.7,361.4 816.5,359.8 815.2,358.3 812.4,359.0 809.5,359.8 806.7,360.6 803.8,361.4 801.0,362.2 798.1,362.9 795.2,363.7 792.3,364.3 789.4,364.9 786.5,365.4 783.6,365.9 780.8,366.3 777.9,366.6 775.1,367.0 774.2,364.7 773.3,362.5 773.2,359.9 773.0,357.4 772.8,354.7 772.6,352.1 772.7,348.9 772.9,345.7 773.0,342.5 773.1,339.3 772.1,336.2 771.0,333.1 770.0,330.0 769.1,326.7 768.3,323.3 767.5,320.0 766.6,316.7 765.7,313.5 764.8,310.2 763.8,307.0 762.8,303.7 761.9,300.5 760.9,297.4Z M773.3,362.5 774.2,364.7 775.1,367.0 777.9,366.6 780.8,366.3 783.6,365.9 786.5,365.4 789.4,364.9 792.3,364.3 795.2,363.7 798.1,362.9 801.0,362.2 803.8,361.4 806.7,360.6 809.5,359.8 812.4,359.0 815.2,358.3 816.5,359.8 817.7,361.4 820.5,358.2 823.3,355.0 826.0,351.8 826.7,354.8 827.4,357.8 828.2,360.8 828.9,363.8 829.6,366.7 831.1,369.7 832.5,372.7 834.0,375.7 835.5,378.7 837.4,381.8 839.4,384.9 841.4,388.0 843.3,391.1 844.5,394.1 845.8,397.0 847.0,399.9 848.3,402.8 849.5,405.7 851.2,408.6 852.9,411.5 854.6,414.4 856.3,417.3 856.7,420.5 857.2,423.6 857.6,426.7 858.1,429.8 858.6,432.8 858.3,435.6 858.0,438.2 857.7,440.8 857.5,443.4 857.2,446.0 854.2,446.5 851.3,447.0 848.3,447.5 846.9,445.1 845.5,442.6 844.1,440.2 842.7,437.7 839.2,436.5 835.7,435.3 832.1,434.1 829.6,431.1 827.0,428.1 824.4,425.1 822.4,422.7 820.5,420.3 818.5,417.9 816.6,415.5 814.6,413.1 813.3,410.3 812.0,407.6 810.8,404.8 809.5,402.0 809.3,399.3 809.1,396.7 809.0,394.0 808.8,391.3 808.7,388.5 805.9,386.6 803.1,384.7 800.3,382.8 797.6,381.0 794.3,379.0 791.1,377.0 788.0,374.9 785.8,376.4 783.6,377.7 781.4,379.0 778.1,380.6 774.9,382.2 771.8,383.8 769.8,383.8 767.9,383.9 766.0,384.0 763.4,381.8 760.8,379.5 758.3,377.3 755.8,375.0 753.2,375.7 750.7,376.3 748.1,377.0 745.6,377.7 743.0,378.3 740.4,379.0 737.8,379.7 737.6,376.9 737.3,374.0 737.0,371.2 736.7,368.3 739.5,367.9 742.3,367.4 745.1,367.0 747.9,366.6 750.7,366.1 753.5,365.7 756.2,365.2 759.0,364.8 761.8,364.4 764.7,363.9 767.5,363.5 770.4,363.0Z M831.0,325.1 828.1,322.5 825.2,320.1 822.3,317.8 820.3,315.8 818.4,313.9 816.5,312.0 814.6,310.0 812.9,307.4 811.3,304.7 809.7,302.0 808.1,299.3 805.9,296.5 803.7,293.7 801.5,290.9 799.1,289.1 796.6,287.2 794.2,285.3 796.3,283.8 798.3,282.3 800.3,280.9 802.3,279.4 804.6,278.9 806.9,278.4 809.2,277.9 811.5,277.5 813.8,277.0 816.0,276.6 818.3,276.3 820.2,276.8 821.5,279.1 822.8,281.5 824.9,281.1 826.9,280.8 828.9,280.5 831.0,280.2 833.0,279.9 835.1,279.6 837.9,282.0 840.8,284.4 843.7,286.7 846.7,289.1 849.9,291.4 853.3,293.6 851.8,296.5 850.5,299.2 849.2,301.9 847.9,304.5 846.2,306.6 844.6,308.6 842.9,310.7 841.2,312.7 839.2,315.0 837.2,317.3 835.1,319.8 833.1,322.3Z M794.2,285.3 792.0,286.0 789.7,286.6 787.5,287.3 785.2,288.0 782.8,288.6 780.5,289.3 778.1,289.9 778.1,288.2 778.1,286.5 779.7,283.5 781.3,280.5 783.5,279.6 785.6,278.6 787.8,277.7 790.0,274.7 792.1,271.7 794.2,268.6 795.9,267.4 797.6,266.2 799.2,265.0 800.9,263.8 802.9,261.4 804.8,259.0 806.7,256.7 806.3,253.4 808.5,252.9 810.7,252.4 812.9,252.0 815.1,251.5 817.3,251.1 819.5,250.7 821.8,250.4 824.1,250.0 826.3,249.6 828.7,249.3 831.0,248.9 833.3,248.5 835.7,248.1 838.1,247.8 840.5,247.4 843.0,247.0 845.4,246.6 847.9,246.2 850.3,245.7 852.8,245.3 855.3,244.9 857.8,244.4 860.3,244.0 862.8,243.6 865.4,243.1 867.9,242.7 870.4,242.3 872.8,241.9 875.2,241.5 877.6,241.1 878.9,244.3 880.2,247.6 881.6,251.0 883.1,254.4 883.3,258.0 883.5,261.5 883.7,264.9 881.3,267.4 878.9,269.8 876.6,272.1 874.4,274.4 872.5,276.7 870.7,277.6 869.0,278.6 867.3,279.6 865.7,280.6 864.0,281.6 863.6,284.9 863.2,288.2 862.6,291.6 859.6,292.3 856.4,293.0 853.3,293.6 849.9,291.4 846.7,289.1 843.7,286.7 840.8,284.4 837.9,282.0 835.1,279.6 833.0,279.9 831.0,280.2 828.9,280.5 826.9,280.8 824.9,281.1 822.8,281.5 821.5,279.1 820.2,276.8 818.3,276.3 816.0,276.6 813.8,277.0 811.5,277.5 809.2,277.9 806.9,278.4 804.6,278.9 802.3,279.4 800.3,280.9 798.3,282.3 796.3,283.8Z M691.2,303.4 693.1,301.3 693.6,298.3 694.1,295.2 694.6,292.2 695.3,288.6 695.9,285.0 696.5,282.1 697.1,279.2 697.7,276.3 700.3,276.1 702.9,275.9 705.5,275.8 708.1,275.6 710.8,275.5 713.4,275.4 716.0,275.3 718.7,275.2 718.4,272.4 721.4,272.3 724.4,272.2 727.4,272.0 730.3,271.8 733.3,271.5 736.3,271.2 739.3,270.8 742.3,270.4 745.3,269.9 748.3,269.4 751.2,268.9 754.2,268.3 757.2,267.6 760.1,267.0 763.0,266.3 765.9,265.6 768.7,264.8 771.6,264.1 774.4,263.3 777.1,262.6 779.8,261.8 782.5,261.0 785.0,260.1 787.5,259.2 790.0,258.3 792.4,257.4 794.7,256.6 797.1,255.9 799.4,255.2 801.7,254.5 804.0,253.9 806.3,253.4 806.7,256.7 804.8,259.0 802.9,261.4 800.9,263.8 799.2,265.0 797.6,266.2 795.9,267.4 794.2,268.6 792.1,271.7 790.0,274.7 787.8,277.7 785.6,278.6 783.5,279.6 781.3,280.5 779.7,283.5 778.1,286.5 778.1,288.2 778.1,289.9 775.6,290.6 773.0,291.2 770.4,291.9 767.8,292.5 765.2,293.1 762.5,293.7 759.8,294.2 756.9,294.8 754.0,295.4 751.1,295.9 748.1,296.4 745.2,296.9 742.2,297.3 739.2,297.7 736.3,298.1 733.3,298.5 730.3,298.9 727.3,299.2 724.4,299.6 721.4,299.9 718.6,300.2 715.8,300.5 713.1,300.8 710.3,301.1 707.6,301.4 704.8,301.7 702.1,302.0 699.3,302.3 696.6,302.7 693.9,303.0Z M806.3,253.4 804.0,253.9 801.7,254.5 799.4,255.2 797.1,255.9 794.7,256.6 792.4,257.4 790.0,258.3 787.5,259.2 785.0,260.1 782.5,261.0 784.4,258.6 786.3,256.2 788.2,253.7 790.0,251.3 791.7,248.9 793.5,246.6 794.9,244.4 796.2,242.2 797.6,240.1 798.9,238.1 801.2,240.6 803.5,243.1 805.4,242.3 807.2,241.5 809.1,240.7 811.0,240.0 812.7,238.8 814.5,237.7 816.3,236.6 818.1,235.5 819.0,232.1 820.0,228.7 820.9,225.3 821.9,221.8 823.3,220.7 824.8,219.6 826.3,218.5 827.9,216.2 829.4,213.9 831.1,211.6 832.8,209.3 833.3,206.8 833.8,204.3 834.3,201.7 836.6,201.8 838.9,201.8 841.2,201.9 843.5,201.9 845.3,202.5 847.0,203.1 849.6,204.8 852.1,206.5 854.7,208.2 853.5,210.3 852.3,212.4 854.4,213.7 856.5,215.0 859.4,216.1 862.3,217.2 865.1,218.3 867.9,219.3 868.8,221.6 869.7,223.8 870.6,226.1 871.2,228.8 871.9,231.6 872.4,234.8 874.3,234.9 876.1,235.1 876.9,238.1 877.6,241.1 875.2,241.5 872.8,241.9 870.4,242.3 867.9,242.7 865.4,243.1 862.8,243.6 860.3,244.0 857.8,244.4 855.3,244.9 852.8,245.3 850.3,245.7 847.9,246.2 845.4,246.6 843.0,247.0 840.5,247.4 838.1,247.8 835.7,248.1 833.3,248.5 831.0,248.9 828.7,249.3 826.3,249.6 824.1,250.0 821.8,250.4 819.5,250.7 817.3,251.1 815.1,251.5 812.9,252.0 810.7,252.4 808.5,252.9Z M880.5,216.8 878.3,217.6 876.0,218.4 873.7,219.2 874.0,221.5 874.2,223.8 874.5,226.1 874.7,228.5 874.8,231.2 876.1,228.1 877.3,225.3 878.4,222.5 879.5,219.7Z M843.5,201.9 841.2,201.9 838.9,201.8 836.6,201.8 834.3,201.7 833.8,204.3 833.3,206.8 832.8,209.3 831.1,211.6 829.4,213.9 827.9,216.2 826.3,218.5 824.8,219.6 823.3,220.7 821.9,221.8 820.9,225.3 820.0,228.7 819.0,232.1 818.1,235.5 816.3,236.6 814.5,237.7 812.7,238.8 811.0,240.0 809.1,240.7 807.2,241.5 805.4,242.3 803.5,243.1 801.2,240.6 798.9,238.1 796.7,237.2 794.4,236.4 792.6,234.2 790.7,232.1 788.7,230.1 789.6,228.0 790.3,226.1 791.1,224.3 791.8,222.5 792.6,220.7 793.3,218.9 794.3,217.4 795.4,215.7 797.1,214.0 798.7,212.0 800.4,209.5 800.6,205.4 801.3,201.7 801.4,199.5 801.6,197.4 801.8,195.2 802.0,192.9 802.9,191.9 803.1,194.5 803.2,197.0 803.3,199.3 803.4,201.6 803.7,204.0 805.8,202.9 808.0,202.0 810.3,201.2 812.6,200.6 815.0,200.0 817.4,199.4 817.9,202.1 818.6,204.8 819.4,207.5 821.3,205.4 823.2,203.4 825.2,201.4 827.2,199.5 829.5,198.9 831.8,198.4 834.1,197.9 837.2,199.2 840.4,200.6Z M697.7,276.3 698.8,273.4 699.9,270.7 701.0,268.0 703.5,267.6 706.1,267.2 708.6,266.9 711.2,266.5 713.1,263.7 715.1,261.0 715.0,259.0 714.9,257.1 716.9,256.4 718.9,255.7 720.9,254.9 723.9,254.8 726.9,254.7 729.9,254.5 732.2,253.4 734.6,252.2 737.0,251.0 739.4,249.7 741.9,248.3 744.3,246.8 746.8,245.2 747.9,242.6 748.9,239.9 750.0,237.1 752.2,234.2 754.3,231.2 756.4,228.3 758.6,227.5 760.7,226.7 763.8,227.3 766.9,227.9 769.9,228.5 773.0,229.0 775.2,228.0 777.3,227.0 779.3,226.1 781.4,225.3 783.8,226.8 786.3,228.4 788.7,230.1 790.7,232.1 792.6,234.2 794.4,236.4 796.7,237.2 798.9,238.1 797.6,240.1 796.2,242.2 794.9,244.4 793.5,246.6 791.7,248.9 790.0,251.3 788.2,253.7 786.3,256.2 784.4,258.6 782.5,261.0 779.8,261.8 777.1,262.6 774.4,263.3 771.6,264.1 768.7,264.8 765.9,265.6 763.0,266.3 760.1,267.0 757.2,267.6 754.2,268.3 751.2,268.9 748.3,269.4 745.3,269.9 742.3,270.4 739.3,270.8 736.3,271.2 733.3,271.5 730.3,271.8 727.4,272.0 724.4,272.2 721.4,272.3 718.4,272.4 718.7,275.2 716.0,275.3 713.4,275.4 710.8,275.5 708.1,275.6 705.5,275.8 702.9,275.9 700.3,276.1Z M747.5,182.5 750.0,181.9 752.6,181.4 755.1,180.8 757.6,180.3 760.1,179.7 762.6,179.2 765.0,178.8 767.4,179.8 769.7,180.8 772.0,181.9 774.3,182.9 776.5,182.5 778.7,181.9 780.8,181.4 783.0,180.8 785.2,180.2 787.1,178.1 789.1,175.9 791.2,173.6 793.3,171.3 795.7,168.8 798.4,166.3 798.8,170.1 799.4,173.9 800.1,177.7 800.9,181.4 801.7,185.1 802.4,188.6 802.9,191.9 802.0,192.9 801.8,195.2 801.6,197.4 801.4,199.5 801.3,201.7 800.6,205.4 800.4,209.5 798.7,212.0 797.1,214.0 795.4,215.7 794.3,217.4 793.3,218.9 792.6,220.7 791.8,222.5 791.1,224.3 790.3,226.1 789.6,228.0 788.7,230.1 786.3,228.4 783.8,226.8 781.4,225.3 779.3,226.1 777.3,227.0 775.2,228.0 773.0,229.0 769.9,228.5 766.9,227.9 763.8,227.3 760.7,226.7 758.6,227.5 756.4,228.3 755.7,225.5 755.1,222.6 754.4,219.7 753.8,216.7 753.1,213.5 752.5,210.3 751.9,207.0 751.3,203.6 750.7,200.2 750.1,196.7 749.5,193.1 748.8,189.6 748.2,186.0Z M747.5,182.5 745.0,182.9 742.4,183.3 739.9,183.8 737.4,184.2 734.8,184.6 732.3,185.0 729.8,185.3 727.3,185.7 724.9,186.0 722.4,186.3 721.0,187.4 719.6,188.6 718.1,189.8 715.9,189.3 713.6,188.8 714.5,192.6 715.1,196.6 715.6,200.6 716.0,204.7 716.3,208.8 716.6,212.9 716.8,216.9 717.0,221.0 717.3,224.9 717.5,228.8 717.7,232.4 718.0,235.9 717.3,239.1 716.6,242.0 716.0,244.8 715.4,247.5 714.7,250.1 714.8,252.4 714.8,254.7 714.9,257.1 716.9,256.4 718.9,255.7 720.9,254.9 723.9,254.8 726.9,254.7 729.9,254.5 732.2,253.4 734.6,252.2 737.0,251.0 739.4,249.7 741.9,248.3 744.3,246.8 746.8,245.2 747.9,242.6 748.9,239.9 750.0,237.1 752.2,234.2 754.3,231.2 756.4,228.3 755.7,225.5 755.1,222.6 754.4,219.7 753.8,216.7 753.1,213.5 752.5,210.3 751.9,207.0 751.3,203.6 750.7,200.2 750.1,196.7 749.5,193.1 748.8,189.6 748.2,186.0Z M714.9,257.1 714.8,254.7 714.8,252.4 714.7,250.1 715.4,247.5 716.0,244.8 716.6,242.0 717.3,239.1 718.0,235.9 717.7,232.4 717.5,228.8 717.3,224.9 717.0,221.0 716.8,216.9 716.6,212.9 716.3,208.8 716.0,204.7 715.6,200.6 715.1,196.6 714.5,192.6 713.6,188.8 711.9,186.1 710.2,183.2 708.4,180.5 706.7,177.7 705.1,175.0 702.8,175.3 700.6,175.7 698.4,176.0 696.2,176.3 694.0,176.6 691.9,176.9 689.8,177.1 687.6,177.4 685.5,177.6 683.4,177.8 681.2,178.0 679.1,178.2 676.9,178.4 674.7,178.6 672.5,178.8 674.8,180.8 677.1,183.0 679.5,185.1 679.1,188.6 678.7,192.1 677.0,193.2 675.3,194.3 673.5,195.4 671.7,196.5 671.1,199.0 670.4,201.4 669.8,203.9 668.9,206.4 668.0,208.9 667.0,211.3 666.0,213.8 666.1,216.6 666.2,219.5 666.2,222.3 668.5,224.8 670.7,227.3 672.9,229.8 675.2,232.4 677.8,234.8 680.4,237.3 683.0,239.7 682.5,242.2 682.0,244.8 681.5,247.3 684.0,250.2 686.5,253.0 689.1,255.8 691.7,258.4 694.3,261.0 696.5,263.3 698.7,265.7 701.0,268.0 703.5,267.6 706.1,267.2 708.6,266.9 711.2,266.5 713.1,263.7 715.1,261.0 715.0,259.0Z M705.1,175.0 703.9,171.8 702.8,168.6 701.8,165.4 702.0,162.5 702.3,159.6 702.5,156.7 702.8,153.8 703.1,150.3 703.3,146.8 703.6,143.3 704.7,140.5 705.7,137.7 706.7,134.8 707.8,131.8 708.8,128.8 709.9,125.8 707.7,128.5 705.6,131.2 703.4,133.8 701.5,135.9 699.6,138.0 697.6,140.0 698.3,137.6 698.9,135.2 699.5,132.8 700.7,131.3 701.8,129.8 700.4,127.2 698.9,124.5 697.4,121.8 696.0,119.2 694.6,116.5 692.1,116.4 689.6,116.3 687.1,116.2 684.7,116.1 682.2,116.0 680.1,115.6 678.0,115.3 675.9,114.9 673.9,114.6 671.8,114.2 669.7,113.8 667.8,112.1 665.9,110.4 663.5,108.8 661.1,107.2 658.7,105.6 656.6,106.3 654.4,107.0 652.3,107.7 650.2,108.4 648.0,109.1 645.9,109.7 643.7,111.5 643.9,114.7 644.1,117.9 644.3,121.2 642.7,124.5 641.1,127.7 639.6,131.0 639.7,133.8 639.8,136.6 639.9,139.4 640.1,142.1 640.3,144.9 642.4,146.4 644.6,147.9 646.8,149.4 649.4,151.2 652.1,153.1 654.1,154.5 656.1,156.0 658.1,157.5 660.2,158.9 661.1,161.3 662.0,163.7 662.9,166.9 663.8,170.0 664.7,173.2 665.6,176.3 667.9,177.1 670.2,177.9 672.5,178.8 674.7,178.6 676.9,178.4 679.1,178.2 681.2,178.0 683.4,177.8 685.5,177.6 687.6,177.4 689.8,177.1 691.9,176.9 694.0,176.6 696.2,176.3 698.4,176.0 700.6,175.7 702.8,175.3Z M665.9,110.4 668.0,109.1 670.2,107.8 672.3,106.5 674.5,105.2 676.6,103.9 678.7,102.0 680.8,100.1 683.0,98.2 685.1,96.3 687.2,94.4 689.3,92.5 691.3,91.9 693.3,91.2 695.3,90.6 696.3,93.7 697.2,96.8 698.2,99.9 699.1,103.0 700.1,106.1 702.4,105.8 704.7,105.6 707.0,105.3 709.3,105.0 711.6,104.8 713.9,104.5 716.2,103.4 718.5,102.4 720.8,101.3 723.1,100.2 725.4,99.2 727.7,98.1 730.0,97.0 732.3,95.9 734.1,97.0 736.0,98.1 737.8,99.2 740.2,101.1 742.6,102.9 745.0,104.8 743.2,106.0 741.4,107.2 739.6,108.4 737.8,109.6 735.4,109.7 733.1,109.8 730.7,109.9 728.4,110.0 726.0,110.0 723.5,110.8 721.0,111.6 718.4,112.4 715.9,113.2 713.4,114.0 711.1,117.2 708.8,120.4 706.5,123.5 704.1,126.7 701.8,129.8 700.4,127.2 698.9,124.5 697.4,121.8 696.0,119.2 694.6,116.5 692.1,116.4 689.6,116.3 687.1,116.2 684.7,116.1 682.2,116.0 680.1,115.6 678.0,115.3 675.9,114.9 673.9,114.6 671.8,114.2 669.7,113.8 667.8,112.1Z M722.4,186.3 723.4,182.7 724.4,179.2 724.9,176.0 725.5,172.7 726.1,169.5 724.3,166.1 722.6,162.8 721.0,159.5 719.5,156.2 718.0,152.9 718.6,149.9 719.3,147.0 719.9,144.1 720.6,141.1 720.8,138.3 721.0,135.4 721.2,132.6 721.4,129.8 723.9,127.6 726.3,125.5 728.7,123.3 730.8,121.8 732.9,120.3 734.9,118.8 736.1,115.3 737.4,111.8 740.0,112.5 742.5,113.2 745.1,114.0 747.7,114.7 750.2,117.1 752.7,119.5 755.3,121.8 757.8,124.2 758.4,127.0 759.1,129.8 759.7,132.6 758.2,135.9 756.6,139.2 755.1,142.5 753.6,145.9 755.3,143.8 757.0,141.8 758.7,139.7 760.9,138.8 763.0,137.8 765.1,136.9 767.0,139.1 768.8,141.4 770.7,143.7 771.6,146.2 772.6,148.7 773.5,151.2 774.4,153.7 774.1,157.4 773.8,161.1 771.6,163.4 769.5,165.6 767.4,167.8 766.5,171.4 765.7,175.1 765.0,178.8 762.6,179.2 760.1,179.7 757.6,180.3 755.1,180.8 752.6,181.4 750.0,181.9 747.5,182.5 745.0,182.9 742.4,183.3 739.9,183.8 737.4,184.2 734.8,184.6 732.3,185.0 729.8,185.3 727.3,185.7 724.9,186.0Z M798.4,166.3 801.8,163.7 805.4,161.2 808.7,158.6 811.4,156.0 811.3,158.7 811.1,161.4 813.2,160.3 814.9,159.3 816.3,158.4 817.5,157.6 818.7,156.8 819.9,156.2 821.2,155.7 822.7,155.3 824.3,154.9 826.0,154.6 827.8,154.3 829.8,154.1 831.9,153.8 834.2,153.4 836.5,153.0 839.0,152.6 841.6,152.1 844.2,151.6 846.9,151.0 849.6,150.3 852.4,149.6 855.2,148.8 857.9,148.0 860.4,148.6 862.8,149.1 866.0,150.8 869.2,152.5 872.2,154.1 871.9,157.1 871.5,160.2 871.0,163.6 873.3,165.6 875.5,167.7 877.4,169.8 879.1,172.1 877.8,175.1 876.5,178.2 875.1,181.3 873.6,183.2 872.1,185.0 870.0,187.3 867.9,189.3 865.5,190.4 862.9,191.3 860.3,192.0 857.7,192.7 855.1,193.2 852.4,193.7 849.7,194.2 847.0,194.6 844.3,195.0 841.6,195.3 838.9,195.7 836.2,196.1 833.5,196.5 830.8,196.9 828.1,197.4 825.4,197.8 822.7,198.3 820.0,198.9 817.4,199.4 815.0,200.0 812.6,200.6 810.3,201.2 808.0,202.0 805.8,202.9 803.7,204.0 803.4,201.6 803.3,199.3 803.2,197.0 803.1,194.5 802.9,191.9 802.4,188.6 801.7,185.1 800.9,181.4 800.1,177.7 799.4,173.9 798.8,170.1Z M872.2,154.1 869.2,152.5 866.0,150.8 862.8,149.1 860.4,148.6 857.9,148.0 855.2,148.8 852.4,149.6 849.6,150.3 846.9,151.0 844.2,151.6 841.6,152.1 839.0,152.6 836.5,153.0 834.2,153.4 831.9,153.8 829.8,154.1 827.8,154.3 826.0,154.6 824.3,154.9 822.7,155.3 821.2,155.7 819.9,156.2 818.7,156.8 817.5,157.6 816.3,158.4 814.9,159.3 813.2,160.3 811.1,161.4 811.3,158.7 811.4,156.0 812.2,152.7 812.2,149.5 811.8,146.5 811.4,143.7 811.4,141.1 811.2,139.5 811.3,138.0 812.2,137.2 813.0,136.3 814.0,135.6 815.1,135.0 816.3,134.5 817.6,134.1 819.2,134.0 820.9,134.0 822.7,134.1 824.7,134.1 827.0,134.2 829.8,132.9 833.0,131.4 836.2,129.9 839.3,128.1 840.1,125.3 840.8,122.3 841.2,119.3 842.3,116.1 842.8,113.1 843.1,110.1 844.1,107.8 845.2,105.6 846.3,103.5 847.4,101.3 848.7,99.2 850.2,96.9 852.6,96.3 855.3,95.6 858.0,94.9 860.8,94.2 863.6,93.5 866.3,92.7 868.9,92.0 869.5,95.0 870.0,97.8 870.6,100.5 871.2,103.1 871.9,105.6 872.5,108.1 873.6,110.0 874.7,111.9 875.8,113.7 876.6,116.0 877.4,118.4 878.4,120.8 879.4,123.3 880.4,126.0 881.0,129.3 881.6,132.7 882.2,136.0 882.7,139.4 883.7,142.7 884.5,146.0 885.3,149.1 886.2,152.1 887.3,154.9 885.9,155.8 886.2,156.9 886.5,158.0 886.1,158.6 885.7,159.4 884.8,157.7 883.8,156.1 881.2,155.5 878.4,154.9 875.4,154.5Z M886.3,160.8 888.1,160.3 889.7,160.0 891.5,159.7 893.4,159.3 895.5,158.8 897.1,157.5 898.8,156.1 900.6,154.7 902.4,153.1 904.2,151.6 906.1,150.0 904.1,150.9 902.2,151.9 900.2,152.8 898.3,153.7 896.2,154.3 894.2,155.0 892.1,155.6 890.2,156.2 888.3,156.7 887.3,157.4 886.5,158.0 885.7,158.7Z M872.2,154.1 875.4,154.5 878.4,154.9 881.2,155.5 883.8,156.1 884.8,157.7 885.7,159.4 885.0,161.3 884.1,163.5 885.6,163.3 887.0,163.2 887.4,166.3 887.6,169.6 887.1,173.5 886.4,177.4 885.6,181.3 884.0,185.1 882.4,189.0 880.8,192.9 879.5,197.0 877.4,194.4 875.5,192.2 873.6,190.3 871.5,188.4 872.1,185.0 873.6,183.2 875.1,181.3 876.5,178.2 877.8,175.1 879.1,172.1 877.4,169.8 875.5,167.7 873.3,165.6 871.0,163.6 871.5,160.2 871.9,157.1Z M867.9,189.3 870.0,187.3 872.1,185.0 871.1,189.7 872.8,191.3 874.4,193.0 875.5,195.5 876.7,198.4 878.3,201.7 879.5,205.4 880.7,209.0 878.8,209.6 877.0,210.1 875.1,210.6 873.2,211.0 872.2,207.9 871.2,204.6 870.4,201.4 869.7,198.3 869.1,195.3 868.6,192.4Z M817.4,199.4 820.0,198.9 822.7,198.3 825.4,197.8 828.1,197.4 830.8,196.9 833.5,196.5 836.2,196.1 838.9,195.7 841.6,195.3 844.3,195.0 847.0,194.6 849.7,194.2 852.4,193.7 855.1,193.2 857.7,192.7 860.3,192.0 862.9,191.3 865.5,190.4 867.9,189.3 868.6,192.4 869.1,195.3 869.7,198.3 870.4,201.4 871.2,204.6 872.2,207.9 873.2,211.0 875.1,210.6 877.0,210.1 878.8,209.6 880.7,209.0 880.7,211.9 880.6,214.4 880.5,216.8 878.3,217.6 876.0,218.4 873.7,219.2 871.1,217.0 868.5,214.7 867.3,212.7 866.1,210.8 864.9,208.8 865.2,206.1 865.4,203.4 865.7,200.6 865.2,197.7 864.7,194.8 863.9,198.0 863.2,201.2 862.5,204.2 863.0,206.7 863.4,209.1 863.8,211.5 864.3,213.8 866.1,216.6 867.9,219.3 865.1,218.3 862.3,217.2 859.4,216.1 856.5,215.0 854.4,213.7 852.3,212.4 853.5,210.3 854.7,208.2 852.1,206.5 849.6,204.8 847.0,203.1 845.3,202.5 843.5,201.9 840.4,200.6 837.2,199.2 834.1,197.9 831.8,198.4 829.5,198.9 827.2,199.5 825.2,201.4 823.2,203.4 821.3,205.4 819.4,207.5 818.6,204.8 817.9,202.1Z M882.7,139.4 884.9,138.6 887.0,137.8 889.1,137.0 891.3,136.3 893.5,135.7 895.8,135.1 898.1,134.7 900.4,134.2 902.8,133.8 903.7,136.9 904.6,139.8 905.3,142.6 906.1,145.3 903.9,146.2 901.8,147.0 899.7,147.8 897.5,148.6 895.4,149.4 893.2,150.2 891.2,151.8 889.3,153.2 887.5,154.6 885.9,155.8 887.3,154.9 886.2,152.1 885.3,149.1 884.5,146.0 883.7,142.7Z M913.3,140.1 911.6,137.7 909.7,135.2 907.8,132.5 906.1,133.0 904.4,133.4 902.8,133.8 903.7,136.9 904.6,139.8 905.3,142.6 906.1,145.3 908.1,144.4 910.0,143.4 911.7,141.8Z M880.4,126.0 882.3,125.1 884.1,124.2 885.9,123.3 887.7,122.6 889.6,121.9 892.0,121.4 894.4,121.1 896.9,120.9 899.4,120.7 901.9,120.4 904.3,120.1 906.1,118.1 907.8,116.1 910.4,117.6 913.1,119.2 912.2,121.3 911.3,123.5 910.3,125.6 913.7,128.5 916.8,131.2 918.7,133.5 920.7,132.3 922.6,131.1 924.6,129.9 924.4,126.8 925.2,129.5 925.9,132.1 924.1,133.5 922.3,134.9 920.4,136.3 918.5,137.6 916.8,138.5 915.1,139.3 913.3,140.1 911.6,137.7 909.7,135.2 907.8,132.5 906.1,133.0 904.4,133.4 902.8,133.8 900.4,134.2 898.1,134.7 895.8,135.1 893.5,135.7 891.3,136.3 889.1,137.0 887.0,137.8 884.9,138.6 882.7,139.4 882.2,136.0 881.6,132.7 881.0,129.3Z M868.9,92.0 871.1,91.3 873.1,90.6 875.1,89.9 877.1,89.2 879.0,88.5 880.9,87.8 882.8,87.2 884.6,86.5 886.5,85.9 888.4,85.2 887.9,88.6 887.4,91.9 886.9,94.9 886.3,97.8 886.1,100.4 886.0,102.8 885.9,105.3 885.7,107.7 885.6,110.1 886.3,112.3 887.1,114.5 887.8,116.8 888.7,119.2 889.6,121.9 887.7,122.6 885.9,123.3 884.1,124.2 882.3,125.1 880.4,126.0 879.4,123.3 878.4,120.8 877.4,118.4 876.6,116.0 875.8,113.7 874.7,111.9 873.6,110.0 872.5,108.1 871.9,105.6 871.2,103.1 870.6,100.5 870.0,97.8 869.5,95.0Z M888.4,85.2 889.4,82.8 890.4,80.2 891.4,77.4 892.5,81.3 893.6,84.8 894.7,87.9 895.7,90.8 896.8,93.6 897.9,96.2 899.1,98.9 900.3,101.5 902.2,104.0 904.3,106.7 906.6,109.6 908.9,112.6 908.3,114.3 907.8,116.1 906.1,118.1 904.3,120.1 901.9,120.4 899.4,120.7 896.9,120.9 894.4,121.1 892.0,121.4 889.6,121.9 888.7,119.2 887.8,116.8 887.1,114.5 886.3,112.3 885.6,110.1 885.7,107.7 885.9,105.3 886.0,102.8 886.1,100.4 886.3,97.8 886.9,94.9 887.4,91.9 887.9,88.6Z M891.4,77.4 892.7,75.3 894.0,73.1 894.7,67.6 895.4,61.8 896.2,56.0 897.0,50.4 897.2,46.1 897.4,42.0 897.8,38.3 898.4,35.2 901.3,33.3 904.5,32.6 907.6,32.3 910.2,31.9 911.6,33.1 912.8,34.2 913.8,35.3 914.7,36.5 915.6,37.5 916.5,39.4 917.5,41.1 918.9,42.8 920.0,44.9 921.5,47.0 923.3,49.2 925.1,51.4 926.9,53.7 928.4,56.0 930.9,57.4 933.1,58.3 934.6,59.5 936.0,60.7 937.5,62.0 939.1,63.5 937.9,65.8 936.7,68.4 935.5,71.2 934.0,73.2 932.6,75.2 931.1,77.2 929.6,79.3 927.7,81.5 925.8,83.7 923.9,85.9 921.9,87.9 920.0,90.4 918.0,92.7 916.1,95.0 914.1,97.2 912.8,98.5 911.5,99.8 910.3,101.1 909.7,104.9 909.3,108.7 908.9,112.6 906.6,109.6 904.3,106.7 902.2,104.0 900.3,101.5 899.1,98.9 897.9,96.2 896.8,93.6 895.7,90.8 894.7,87.9 893.6,84.8 892.5,81.3Z"/></clipPath><clipPath id="c0"><path d="M627.0,286.8 629.6,286.5 632.2,286.1 634.8,285.6 637.4,285.1 640.0,284.6 642.6,284.1 645.3,283.6 647.9,283.1 650.5,282.6 653.2,282.2 655.9,281.7 658.5,281.3 661.2,280.8 663.9,280.4 666.6,280.0 669.3,279.6 672.0,279.2 674.7,278.9 677.5,278.5 680.2,278.2 682.9,277.8 685.7,277.5 688.4,277.2 687.9,280.1 687.3,283.1 686.7,286.1 689.0,285.8 691.3,285.6 693.6,285.3 695.9,285.0 695.3,288.6 694.6,292.2 694.1,295.2 693.6,298.3 693.1,301.3 691.2,303.4 689.1,307.2 687.1,311.0 686.0,314.1 684.9,317.1 683.8,320.2 682.7,323.2 682.6,326.5 682.5,329.9 682.3,333.3 682.2,336.6 682.0,340.0 679.2,340.3 676.4,340.6 673.6,340.8 670.8,341.1 668.0,341.4 665.2,341.7 662.4,341.9 659.6,342.2 656.8,342.4 654.0,342.6 651.2,342.9 648.4,343.1 645.6,343.3 642.8,343.5 640.0,343.7 639.7,340.7 639.4,337.7 639.1,334.8 636.9,334.4 634.7,334.1 632.5,333.8 632.3,330.6 632.2,327.4 632.0,324.2 631.9,321.1 631.7,317.9 631.6,314.8 631.5,311.7 631.3,308.5 631.1,305.3 630.5,302.3 629.8,299.3 629.1,296.3 628.4,293.2 627.7,290.0Z"/></clipPath><clipPath id="c1"><path d="M366.0,264.5 368.7,265.0 371.3,265.4 374.0,265.8 376.6,266.2 379.2,266.6 381.9,267.0 384.5,267.4 387.1,267.8 389.8,268.2 392.4,268.5 395.0,268.9 397.6,269.2 400.3,269.6 402.9,269.9 405.5,270.2 408.2,270.6 410.8,270.9 413.5,271.2 416.1,271.4 418.7,271.7 421.4,272.0 424.0,272.3 426.7,272.5 429.3,272.8 432.0,273.0 431.6,276.2 431.3,279.5 430.9,282.7 430.6,285.9 430.2,289.1 429.8,292.4 429.5,295.6 429.1,298.8 428.7,302.1 428.4,305.3 428.0,308.5 427.6,311.8 427.3,315.0 426.9,318.3 426.6,321.6 426.2,324.9 425.9,328.2 425.5,331.5 425.2,334.8 424.8,338.2 424.5,341.5 424.2,344.9 423.9,348.3 423.6,351.7 423.2,355.1 422.9,358.5 422.6,361.9 422.3,365.3 422.0,368.7 419.3,368.6 416.7,368.5 414.0,368.3 411.4,368.0 408.7,367.8 406.1,367.5 403.4,367.3 400.7,367.0 398.1,366.6 395.4,366.3 392.7,366.0 390.0,364.5 387.3,363.1 384.5,361.7 381.8,360.2 379.1,358.7 376.4,357.2 373.7,355.7 371.0,354.2 368.3,352.7 365.6,351.2 362.9,349.6 360.2,348.1 357.6,346.5 354.9,345.0 352.2,343.4 349.6,341.8 347.0,340.3 344.3,338.7 341.7,337.1 342.6,335.3 343.6,333.4 345.3,331.3 346.9,329.1 347.5,326.2 348.0,323.2 348.6,320.2 349.2,317.2 351.4,314.2 353.7,311.1 355.9,308.0 354.7,304.7 353.4,301.5 352.2,298.2 351.0,295.0 351.1,292.5 351.2,290.0 351.3,287.5 351.5,285.0 352.0,282.8 352.6,280.6 353.2,278.4 355.7,278.1 358.2,277.9 360.8,277.6 363.3,277.3 364.0,274.1 364.7,270.9 365.4,267.7Z"/></clipPath><clipPath id="c2"><path d="M714.9,257.1 714.8,254.7 714.8,252.4 714.7,250.1 715.4,247.5 716.0,244.8 716.6,242.0 717.3,239.1 718.0,235.9 717.7,232.4 717.5,228.8 717.3,224.9 717.0,221.0 716.8,216.9 716.6,212.9 716.3,208.8 716.0,204.7 715.6,200.6 715.1,196.6 714.5,192.6 713.6,188.8 711.9,186.1 710.2,183.2 708.4,180.5 706.7,177.7 705.1,175.0 702.8,175.3 700.6,175.7 698.4,176.0 696.2,176.3 694.0,176.6 691.9,176.9 689.8,177.1 687.6,177.4 685.5,177.6 683.4,177.8 681.2,178.0 679.1,178.2 676.9,178.4 674.7,178.6 672.5,178.8 674.8,180.8 677.1,183.0 679.5,185.1 679.1,188.6 678.7,192.1 677.0,193.2 675.3,194.3 673.5,195.4 671.7,196.5 671.1,199.0 670.4,201.4 669.8,203.9 668.9,206.4 668.0,208.9 667.0,211.3 666.0,213.8 666.1,216.6 666.2,219.5 666.2,222.3 668.5,224.8 670.7,227.3 672.9,229.8 675.2,232.4 677.8,234.8 680.4,237.3 683.0,239.7 682.5,242.2 682.0,244.8 681.5,247.3 684.0,250.2 686.5,253.0 689.1,255.8 691.7,258.4 694.3,261.0 696.5,263.3 698.7,265.7 701.0,268.0 703.5,267.6 706.1,267.2 708.6,266.9 711.2,266.5 713.1,263.7 715.1,261.0 715.0,259.0Z"/></clipPath><clipPath id="c3"><path d="M505.0,176.2 504.8,179.6 504.6,182.9 504.4,186.2 504.2,189.5 504.0,192.9 503.8,196.2 503.6,199.5 503.4,202.8 503.2,206.1 503.0,209.5 505.5,209.7 508.0,209.9 510.5,210.1 513.0,210.3 515.5,210.5 518.0,210.6 520.5,210.8 523.0,211.0 525.5,211.1 528.0,211.3 527.9,214.8 527.8,218.3 527.7,221.8 527.6,225.3 527.5,228.7 530.1,228.8 532.6,228.9 535.2,229.0 537.7,229.0 540.3,229.0 542.9,229.0 545.5,229.0 548.1,229.0 550.7,229.0 553.3,228.9 555.9,228.9 558.5,228.8 561.1,228.8 563.7,228.7 566.3,228.6 568.9,228.5 571.5,228.5 574.2,228.3 576.8,228.2 579.4,228.1 582.1,228.0 584.7,227.8 587.3,227.6 589.9,227.5 592.5,227.3 595.1,227.0 597.7,226.7 600.3,226.4 602.8,226.1 605.3,225.6 607.7,225.1 610.1,224.5 612.5,223.8 614.8,223.1 613.5,221.2 612.1,219.2 610.4,216.9 610.7,216.5 610.3,214.1 609.8,211.5 609.2,208.9 608.6,206.1 607.0,202.4 605.3,198.7 603.6,194.9 601.9,191.2 600.4,188.2 598.9,185.3 597.6,182.6 595.2,181.4 592.8,180.2 590.6,179.1 588.3,178.8 586.0,178.6 583.7,178.4 581.4,178.1 579.1,177.8 576.8,177.5 574.5,177.2 572.2,176.8 569.8,176.9 567.4,177.0 565.0,177.1 562.6,177.1 560.1,177.2 557.7,177.2 555.3,177.3 552.9,177.3 550.5,177.3 548.1,177.3 545.7,177.3 543.3,177.3 540.9,177.3 538.5,177.3 536.1,177.2 533.7,177.2 531.4,177.1 529.0,177.1 526.6,177.0 524.2,177.0 521.8,176.9 519.4,176.8 517.0,176.7 514.6,176.6 512.2,176.5 509.8,176.5 507.4,176.4Z"/></clipPath><clipPath id="c4"><path d="M277.2,81.7 276.2,84.8 275.3,87.8 274.3,90.9 273.4,93.9 272.2,96.8 271.1,99.6 270.0,102.5 268.8,105.4 267.7,108.2 266.7,110.8 265.6,113.3 264.6,115.8 263.6,118.4 262.6,120.9 260.7,123.9 258.8,126.9 256.9,129.6 254.9,132.3 252.9,135.1 252.7,138.2 252.4,141.3 252.2,144.4 252.6,147.2 253.0,150.0 255.3,150.7 257.6,151.4 259.8,152.0 262.1,152.7 264.4,153.4 266.7,154.0 269.0,154.7 271.3,155.3 273.6,156.0 275.9,156.6 278.2,157.3 280.5,157.9 282.8,158.6 285.2,159.2 287.5,159.8 289.8,160.4 292.1,161.1 294.5,161.7 296.8,162.3 299.1,162.9 301.5,163.5 303.8,164.1 306.2,164.7 308.6,165.3 311.1,165.9 313.5,166.5 315.9,167.1 318.4,167.7 320.8,168.3 323.3,168.9 325.7,169.5 328.1,170.0 330.6,170.6 333.0,171.2 335.5,171.7 337.9,172.3 340.4,172.8 341.0,169.4 341.7,166.1 342.3,162.7 343.0,159.3 343.6,156.0 344.3,152.6 344.9,149.2 345.6,145.8 346.3,142.4 348.0,140.2 347.0,136.9 346.0,133.6 346.6,131.9 347.3,130.3 349.5,127.5 351.7,124.8 353.9,122.0 355.2,119.6 356.5,117.3 357.8,114.9 357.0,111.8 356.1,108.7 355.3,105.5 353.1,105.1 351.0,104.6 348.8,104.1 346.6,103.7 344.5,103.2 342.3,102.7 340.2,102.2 338.0,101.7 335.9,101.2 333.8,100.7 331.6,100.2 329.8,100.2 327.9,100.1 326.1,100.0 324.2,99.9 322.0,100.2 319.8,100.4 317.6,100.6 315.3,100.8 313.1,101.1 311.1,100.8 309.0,100.5 307.0,100.2 305.0,99.9 302.8,99.6 300.7,99.4 298.5,99.1 296.4,98.8 294.2,98.6 292.1,98.3 290.5,97.3 289.0,96.2 287.4,95.2 287.6,92.6 287.8,90.0 288.0,87.4 286.4,86.4 284.7,85.3 283.0,84.3 281.1,83.4 279.1,82.6Z M364.9,55.0 367.1,55.5 369.3,56.0 371.5,56.5 373.8,57.0 376.0,57.5 375.4,60.3 374.8,63.1 374.1,65.9 373.5,68.7 372.9,71.6 372.3,74.4 372.9,77.9 373.6,81.4 374.2,84.9 375.6,86.1 376.9,87.2 378.3,88.3 379.8,91.8 381.3,95.3 382.8,98.8 384.4,100.0 386.0,101.1 385.1,103.6 384.2,106.0 383.2,108.5 382.3,110.9 382.6,113.6 383.0,116.3 383.3,119.0 385.3,119.1 387.3,119.1 389.3,119.2 390.1,122.6 390.9,126.0 391.7,129.4 392.5,132.8 393.9,135.4 395.4,137.9 396.8,140.5 398.0,141.1 399.1,141.7 401.6,141.6 404.1,141.6 406.3,141.6 408.6,141.5 410.8,141.5 413.0,141.5 415.3,141.5 417.0,142.1 418.8,142.8 420.6,143.4 420.1,146.6 419.7,149.9 419.3,153.1 418.8,156.3 418.4,159.6 418.0,162.8 417.5,166.0 417.1,169.2 416.7,172.5 416.3,175.7 415.9,178.9 415.4,182.1 415.0,185.3 412.5,184.9 410.0,184.6 407.5,184.2 405.0,183.9 402.5,183.5 400.0,183.2 397.5,182.9 395.0,182.5 392.5,182.2 390.0,181.8 387.5,181.5 385.0,181.1 382.5,180.8 380.0,180.4 377.5,180.0 375.0,179.6 372.5,179.2 370.1,178.7 367.6,178.3 365.1,177.8 362.6,177.4 360.2,176.9 357.7,176.4 355.2,175.9 352.7,175.4 350.3,174.9 347.8,174.4 345.3,173.9 342.9,173.3 340.4,172.8 341.0,169.4 341.7,166.1 342.3,162.7 343.0,159.3 343.6,156.0 344.3,152.6 344.9,149.2 345.6,145.8 346.3,142.4 348.0,140.2 347.0,136.9 346.0,133.6 346.6,131.9 347.3,130.3 349.5,127.5 351.7,124.8 353.9,122.0 355.2,119.6 356.5,117.3 357.8,114.9 357.0,111.8 356.1,108.7 355.3,105.5 355.3,103.1 355.4,100.6 355.4,98.2 356.1,94.8 356.9,91.5 357.6,88.1 358.3,84.8 359.0,81.5 359.8,78.1 360.5,74.8 361.2,71.5 362.0,68.2 362.7,64.9 363.4,61.6 364.2,58.3Z"/></clipPath><clipPath id="c5"><path d="M507.0,126.0 509.3,126.1 511.6,126.2 513.9,126.4 516.2,126.5 518.5,126.6 520.8,126.7 523.1,126.8 525.3,126.9 527.6,127.0 529.9,127.1 532.2,127.2 534.5,127.3 536.8,127.3 539.0,127.4 541.3,127.5 543.6,127.5 545.9,127.6 548.2,127.6 550.4,127.6 552.7,127.7 555.0,127.7 557.3,127.7 559.6,127.7 561.9,127.7 564.2,127.7 566.4,127.7 568.7,127.7 571.0,127.7 573.3,127.6 575.6,127.6 577.9,127.5 580.2,127.5 582.5,127.4 584.8,127.3 587.1,127.3 589.4,127.2 591.7,127.1 594.0,127.0 594.2,130.3 594.5,133.6 594.8,136.9 595.1,140.3 595.4,143.6 595.6,146.9 595.9,150.1 596.2,153.4 596.5,156.6 596.8,159.7 597.0,162.8 597.3,165.8 597.5,168.7 596.8,171.0 596.2,173.3 595.5,175.5 596.1,177.8 596.8,180.1 597.6,182.6 595.2,181.4 592.8,180.2 590.6,179.1 588.3,178.8 586.0,178.6 583.7,178.4 581.4,178.1 579.1,177.8 576.8,177.5 574.5,177.2 572.2,176.8 569.8,176.9 567.4,177.0 565.0,177.1 562.6,177.1 560.1,177.2 557.7,177.2 555.3,177.3 552.9,177.3 550.5,177.3 548.1,177.3 545.7,177.3 543.3,177.3 540.9,177.3 538.5,177.3 536.1,177.2 533.7,177.2 531.4,177.1 529.0,177.1 526.6,177.0 524.2,177.0 521.8,176.9 519.4,176.8 517.0,176.7 514.6,176.6 512.2,176.5 509.8,176.5 507.4,176.4 505.0,176.2 505.2,172.9 505.3,169.5 505.4,166.1 505.6,162.7 505.7,159.2 505.8,155.8 506.0,152.4 506.1,148.9 506.2,145.5 506.4,142.1 506.5,138.8 506.6,135.6 506.7,132.4 506.9,129.2Z"/></clipPath><clipPath id="c6"><path d="M458.8,360.8 458.2,358.9 457.7,357.0 460.6,357.2 463.5,357.3 466.4,357.6 469.3,357.8 472.3,358.1 475.2,358.4 478.1,358.8 481.1,359.1 484.0,359.5 487.0,359.8 489.9,360.2 492.9,360.5 495.8,360.9 498.8,361.2 501.7,361.6 504.6,361.9 507.6,362.2 510.5,362.5 510.6,359.2 510.7,355.8 510.8,352.4 510.9,349.1 511.0,345.7 511.1,342.4 511.2,339.0 511.3,335.7 511.4,332.3 511.5,329.0 511.5,325.6 511.6,322.3 511.7,318.9 511.8,315.6 511.9,312.3 512.0,309.0 512.1,305.6 512.2,302.3 512.3,299.0 512.4,295.7 512.6,292.4 512.7,289.1 512.8,285.8 515.5,285.9 518.2,286.1 520.9,286.2 523.7,286.3 526.4,286.4 529.1,286.6 531.8,286.7 534.6,286.9 537.3,287.0 540.0,287.2 542.7,287.3 545.5,287.4 548.2,287.5 550.9,287.7 553.6,287.8 553.7,291.1 553.7,294.4 553.7,297.7 553.8,301.0 553.8,304.3 553.8,307.7 553.9,311.0 553.9,314.3 554.0,317.6 554.0,320.9 556.8,321.7 559.7,322.5 562.5,323.2 565.3,324.0 567.4,325.1 569.5,326.1 571.7,327.2 573.8,328.3 576.1,329.3 578.4,330.4 580.8,331.4 583.1,332.4 585.7,333.0 588.4,333.6 591.1,334.2 593.8,334.7 595.9,334.2 598.0,333.7 600.1,333.2 602.2,332.7 605.0,332.5 607.8,332.4 610.6,332.2 613.5,332.0 616.3,331.2 619.0,330.4 621.8,329.6 624.5,330.7 627.1,331.7 629.8,332.7 632.5,333.8 634.7,334.1 636.9,334.4 639.1,334.8 639.4,337.7 639.7,340.7 640.0,343.7 640.2,346.6 640.5,349.5 640.7,352.4 640.9,355.3 641.0,358.2 641.2,361.1 643.2,364.4 645.1,367.6 646.2,370.1 647.2,372.6 648.2,375.1 649.3,377.5 648.9,380.6 648.4,383.6 648.0,386.6 647.5,389.6 647.1,392.1 646.7,394.7 646.3,397.3 645.8,399.8 643.3,401.2 640.8,402.6 638.3,403.9 635.8,405.3 633.3,406.6 630.4,409.1 627.5,411.6 624.5,414.1 621.6,416.6 619.0,418.1 616.3,419.6 613.6,421.1 611.0,422.5 608.3,424.0 605.3,426.4 602.4,428.7 599.4,431.0 597.7,433.9 595.9,436.7 594.2,439.6 594.0,442.5 593.9,445.4 593.7,448.3 593.5,451.2 594.3,454.0 595.1,456.7 595.9,459.5 596.7,462.3 597.5,465.0 594.8,465.6 592.1,466.2 589.1,465.4 586.0,464.7 582.9,463.9 579.8,463.1 576.7,461.7 573.7,460.3 570.6,458.9 567.5,457.5 566.5,454.6 565.5,451.7 564.5,448.8 563.6,445.8 562.6,442.9 561.6,440.0 558.6,437.1 555.6,434.1 552.6,431.2 549.6,428.2 548.5,425.3 547.4,422.3 546.4,419.4 545.3,416.4 543.8,413.7 542.4,411.1 540.9,408.4 538.0,406.1 535.1,403.7 532.1,401.4 529.4,401.2 526.8,400.9 524.1,400.7 521.4,400.4 518.7,400.2 516.4,401.7 514.1,403.3 512.5,405.8 510.8,408.4 509.2,411.0 507.6,413.5 505.1,412.3 502.6,411.2 500.2,410.0 497.8,408.2 495.5,406.5 493.1,404.8 490.8,403.1 488.4,401.3 486.7,397.7 485.0,394.1 483.3,390.5 481.6,386.8 479.1,383.6 476.7,380.3 474.2,377.0 471.8,373.7 469.1,371.0 466.5,368.4 463.9,365.8 461.3,363.3Z"/></clipPath><clipPath id="c7"><path d="M806.3,253.4 804.0,253.9 801.7,254.5 799.4,255.2 797.1,255.9 794.7,256.6 792.4,257.4 790.0,258.3 787.5,259.2 785.0,260.1 782.5,261.0 784.4,258.6 786.3,256.2 788.2,253.7 790.0,251.3 791.7,248.9 793.5,246.6 794.9,244.4 796.2,242.2 797.6,240.1 798.9,238.1 801.2,240.6 803.5,243.1 805.4,242.3 807.2,241.5 809.1,240.7 811.0,240.0 812.7,238.8 814.5,237.7 816.3,236.6 818.1,235.5 819.0,232.1 820.0,228.7 820.9,225.3 821.9,221.8 823.3,220.7 824.8,219.6 826.3,218.5 827.9,216.2 829.4,213.9 831.1,211.6 832.8,209.3 833.3,206.8 833.8,204.3 834.3,201.7 836.6,201.8 838.9,201.8 841.2,201.9 843.5,201.9 845.3,202.5 847.0,203.1 849.6,204.8 852.1,206.5 854.7,208.2 853.5,210.3 852.3,212.4 854.4,213.7 856.5,215.0 859.4,216.1 862.3,217.2 865.1,218.3 867.9,219.3 868.8,221.6 869.7,223.8 870.6,226.1 871.2,228.8 871.9,231.6 872.4,234.8 874.3,234.9 876.1,235.1 876.9,238.1 877.6,241.1 875.2,241.5 872.8,241.9 870.4,242.3 867.9,242.7 865.4,243.1 862.8,243.6 860.3,244.0 857.8,244.4 855.3,244.9 852.8,245.3 850.3,245.7 847.9,246.2 845.4,246.6 843.0,247.0 840.5,247.4 838.1,247.8 835.7,248.1 833.3,248.5 831.0,248.9 828.7,249.3 826.3,249.6 824.1,250.0 821.8,250.4 819.5,250.7 817.3,251.1 815.1,251.5 812.9,252.0 810.7,252.4 808.5,252.9Z"/></clipPath><clipPath id="c8"><path d="M806.3,253.4 804.0,253.9 801.7,254.5 799.4,255.2 797.1,255.9 794.7,256.6 792.4,257.4 790.0,258.3 787.5,259.2 785.0,260.1 782.5,261.0 784.4,258.6 786.3,256.2 788.2,253.7 790.0,251.3 791.7,248.9 793.5,246.6 794.9,244.4 796.2,242.2 797.6,240.1 798.9,238.1 801.2,240.6 803.5,243.1 805.4,242.3 807.2,241.5 809.1,240.7 811.0,240.0 812.7,238.8 814.5,237.7 816.3,236.6 818.1,235.5 819.0,232.1 820.0,228.7 820.9,225.3 821.9,221.8 823.3,220.7 824.8,219.6 826.3,218.5 827.9,216.2 829.4,213.9 831.1,211.6 832.8,209.3 833.3,206.8 833.8,204.3 834.3,201.7 836.6,201.8 838.9,201.8 841.2,201.9 843.5,201.9 845.3,202.5 847.0,203.1 849.6,204.8 852.1,206.5 854.7,208.2 853.5,210.3 852.3,212.4 854.4,213.7 856.5,215.0 859.4,216.1 862.3,217.2 865.1,218.3 867.9,219.3 868.8,221.6 869.7,223.8 870.6,226.1 871.2,228.8 871.9,231.6 872.4,234.8 874.3,234.9 876.1,235.1 876.9,238.1 877.6,241.1 875.2,241.5 872.8,241.9 870.4,242.3 867.9,242.7 865.4,243.1 862.8,243.6 860.3,244.0 857.8,244.4 855.3,244.9 852.8,245.3 850.3,245.7 847.9,246.2 845.4,246.6 843.0,247.0 840.5,247.4 838.1,247.8 835.7,248.1 833.3,248.5 831.0,248.9 828.7,249.3 826.3,249.6 824.1,250.0 821.8,250.4 819.5,250.7 817.3,251.1 815.1,251.5 812.9,252.0 810.7,252.4 808.5,252.9Z M843.5,201.9 841.2,201.9 838.9,201.8 836.6,201.8 834.3,201.7 833.8,204.3 833.3,206.8 832.8,209.3 831.1,211.6 829.4,213.9 827.9,216.2 826.3,218.5 824.8,219.6 823.3,220.7 821.9,221.8 820.9,225.3 820.0,228.7 819.0,232.1 818.1,235.5 816.3,236.6 814.5,237.7 812.7,238.8 811.0,240.0 809.1,240.7 807.2,241.5 805.4,242.3 803.5,243.1 801.2,240.6 798.9,238.1 796.7,237.2 794.4,236.4 792.6,234.2 790.7,232.1 788.7,230.1 789.6,228.0 790.3,226.1 791.1,224.3 791.8,222.5 792.6,220.7 793.3,218.9 794.3,217.4 795.4,215.7 797.1,214.0 798.7,212.0 800.4,209.5 800.6,205.4 801.3,201.7 801.4,199.5 801.6,197.4 801.8,195.2 802.0,192.9 802.9,191.9 803.1,194.5 803.2,197.0 803.3,199.3 803.4,201.6 803.7,204.0 805.8,202.9 808.0,202.0 810.3,201.2 812.6,200.6 815.0,200.0 817.4,199.4 817.9,202.1 818.6,204.8 819.4,207.5 821.3,205.4 823.2,203.4 825.2,201.4 827.2,199.5 829.5,198.9 831.8,198.4 834.1,197.9 837.2,199.2 840.4,200.6Z"/></clipPath></defs>
<g><path fill="#a9bc15" d="M303.8,40.7 304.3,43.0 304.7,45.3 304.3,47.8 304.0,50.4 303.6,52.9 303.4,56.3 303.3,59.8 301.9,62.5 300.5,65.2 299.3,67.5 298.0,69.8 296.0,70.6 294.0,71.4 295.7,69.2 297.4,67.1 298.8,63.9 300.1,60.7 300.1,57.9 300.1,55.1 298.2,54.6 296.3,54.1 294.5,53.6 292.6,53.1 290.6,52.1 288.6,51.1 286.7,50.1 285.0,48.8 283.3,47.5 281.6,46.2 279.9,45.0 279.3,48.1 278.7,51.3 279.0,54.5 279.3,57.6 279.6,60.8 279.9,64.0 279.4,67.4 278.9,70.8 278.3,73.2 277.6,75.7 277.0,78.2 276.4,80.6 277.2,81.7 279.1,82.6 281.1,83.4 283.0,84.3 284.7,85.3 286.4,86.4 288.0,87.4 287.8,90.0 287.6,92.6 287.4,95.2 289.0,96.2 290.5,97.3 292.1,98.3 294.2,98.6 296.4,98.8 298.5,99.1 300.7,99.4 302.8,99.6 305.0,99.9 307.0,100.2 309.0,100.5 311.1,100.8 313.1,101.1 315.3,100.8 317.6,100.6 319.8,100.4 322.0,100.2 324.2,99.9 326.1,100.0 327.9,100.1 329.8,100.2 331.6,100.2 333.8,100.7 335.9,101.2 338.0,101.7 340.2,102.2 342.3,102.7 344.5,103.2 346.6,103.7 348.8,104.1 351.0,104.6 353.1,105.1 355.3,105.5 355.3,103.1 355.4,100.6 355.4,98.2 356.1,94.8 356.9,91.5 357.6,88.1 358.3,84.8 359.0,81.5 359.8,78.1 360.5,74.8 361.2,71.5 362.0,68.2 362.7,64.9 363.4,61.6 364.2,58.3 364.9,55.0 362.7,54.5 360.6,54.0 358.4,53.6 356.3,53.1 354.1,52.6 352.0,52.2 349.8,51.7 347.7,51.2 345.6,50.7 343.5,50.3 341.4,49.8 339.2,49.3 337.1,48.8 335.0,48.4 332.9,47.9 330.8,47.4 328.7,46.9 326.7,46.4 324.6,45.9 322.5,45.4 320.4,44.9 318.3,44.4 316.2,43.9 314.2,43.4 312.1,42.8 310.0,42.3 308.0,41.8 305.9,41.3Z"/>
<path fill="#a9bc15" d="M277.2,81.7 276.2,84.8 275.3,87.8 274.3,90.9 273.4,93.9 272.2,96.8 271.1,99.6 270.0,102.5 268.8,105.4 267.7,108.2 266.7,110.8 265.6,113.3 264.6,115.8 263.6,118.4 262.6,120.9 260.7,123.9 258.8,126.9 256.9,129.6 254.9,132.3 252.9,135.1 252.7,138.2 252.4,141.3 252.2,144.4 252.6,147.2 253.0,150.0 255.3,150.7 257.6,151.4 259.8,152.0 262.1,152.7 264.4,153.4 266.7,154.0 269.0,154.7 271.3,155.3 273.6,156.0 275.9,156.6 278.2,157.3 280.5,157.9 282.8,158.6 285.2,159.2 287.5,159.8 289.8,160.4 292.1,161.1 294.5,161.7 296.8,162.3 299.1,162.9 301.5,163.5 303.8,164.1 306.2,164.7 308.6,165.3 311.1,165.9 313.5,166.5 315.9,167.1 318.4,167.7 320.8,168.3 323.3,168.9 325.7,169.5 328.1,170.0 330.6,170.6 333.0,171.2 335.5,171.7 337.9,172.3 340.4,172.8 341.0,169.4 341.7,166.1 342.3,162.7 343.0,159.3 343.6,156.0 344.3,152.6 344.9,149.2 345.6,145.8 346.3,142.4 348.0,140.2 347.0,136.9 346.0,133.6 346.6,131.9 347.3,130.3 349.5,127.5 351.7,124.8 353.9,122.0 355.2,119.6 356.5,117.3 357.8,114.9 357.0,111.8 356.1,108.7 355.3,105.5 353.1,105.1 351.0,104.6 348.8,104.1 346.6,103.7 344.5,103.2 342.3,102.7 340.2,102.2 338.0,101.7 335.9,101.2 333.8,100.7 331.6,100.2 329.8,100.2 327.9,100.1 326.1,100.0 324.2,99.9 322.0,100.2 319.8,100.4 317.6,100.6 315.3,100.8 313.1,101.1 311.1,100.8 309.0,100.5 307.0,100.2 305.0,99.9 302.8,99.6 300.7,99.4 298.5,99.1 296.4,98.8 294.2,98.6 292.1,98.3 290.5,97.3 289.0,96.2 287.4,95.2 287.6,92.6 287.8,90.0 288.0,87.4 286.4,86.4 284.7,85.3 283.0,84.3 281.1,83.4 279.1,82.6Z"/>
<path fill="#e19a17" d="M309.5,330.0 309.1,327.1 308.6,324.2 307.6,320.8 306.5,317.3 305.5,313.9 303.5,311.5 301.6,309.0 299.7,306.5 297.7,305.7 295.7,304.8 295.4,302.7 295.1,300.6 292.8,299.6 290.5,298.6 288.2,297.5 285.9,296.4 283.9,294.5 281.9,292.6 279.9,290.7 277.3,289.8 274.7,289.0 272.1,288.1 269.5,287.2 269.3,284.6 269.0,281.9 268.7,279.2 268.6,276.5 268.5,273.9 268.4,271.2 268.3,268.6 266.6,266.0 264.9,263.3 263.2,260.7 261.5,258.1 260.7,255.3 260.0,252.4 259.3,249.6 258.5,246.8 258.6,243.7 258.6,240.7 257.2,237.1 255.7,233.4 254.3,229.8 254.9,227.4 255.6,224.9 253.7,223.2 251.8,221.5 250.0,219.8 248.9,216.3 247.9,212.9 246.9,209.4 245.9,206.0 245.0,202.5 245.5,199.5 246.1,196.5 246.6,193.4 247.2,190.4 247.7,187.4 246.6,184.2 245.5,181.1 244.4,177.9 243.3,174.8 245.4,172.1 247.5,169.4 249.6,166.7 250.2,163.4 250.9,160.0 251.6,156.7 252.3,153.3 253.0,150.0 255.3,150.7 257.6,151.4 259.8,152.0 262.1,152.7 264.4,153.4 266.7,154.0 269.0,154.7 271.3,155.3 273.6,156.0 275.9,156.6 278.2,157.3 280.5,157.9 282.8,158.6 285.2,159.2 287.5,159.8 289.8,160.4 292.1,161.1 294.5,161.7 296.8,162.3 299.1,162.9 301.5,163.5 303.8,164.1 303.0,167.4 302.3,170.7 301.5,174.1 300.7,177.4 300.0,180.7 299.2,184.0 298.5,187.3 297.7,190.6 297.0,193.9 296.2,197.2 295.5,200.5 294.7,203.8 294.0,207.1 293.2,210.4 292.5,213.8 294.5,216.9 296.6,220.0 298.7,223.1 300.8,226.2 302.9,229.2 305.0,232.3 307.2,235.4 309.3,238.5 311.5,241.6 313.7,244.6 315.9,247.7 318.0,250.7 320.2,253.8 322.4,256.8 324.6,259.8 326.8,262.8 329.1,265.8 331.3,268.8 333.5,271.7 335.6,274.7 337.8,277.6 340.0,280.5 342.2,283.4 344.4,286.3 346.6,289.2 348.8,292.1 351.0,295.0 352.2,298.2 353.4,301.5 354.7,304.7 355.9,308.0 353.7,311.1 351.4,314.2 349.2,317.2 348.6,320.2 348.0,323.2 347.5,326.2 346.9,329.1 345.3,331.3 343.6,333.4 340.9,333.2 338.3,332.9 335.7,332.7 333.1,332.4 330.4,332.2 327.8,331.9 325.2,331.7 322.6,331.4 320.0,331.1 317.4,330.9 314.7,330.6 312.1,330.3Z"/>
<path fill="#e19a17" d="M303.8,164.1 306.2,164.7 308.6,165.3 311.1,165.9 313.5,166.5 315.9,167.1 318.4,167.7 320.8,168.3 323.3,168.9 325.7,169.5 328.1,170.0 330.6,170.6 333.0,171.2 335.5,171.7 337.9,172.3 340.4,172.8 342.9,173.3 345.3,173.9 347.8,174.4 350.3,174.9 352.7,175.4 355.2,175.9 357.7,176.4 360.2,176.9 362.6,177.4 365.1,177.8 367.6,178.3 370.1,178.7 372.5,179.2 375.0,179.6 377.5,180.0 377.0,183.4 376.5,186.7 376.0,190.1 375.6,193.5 375.1,196.8 374.6,200.2 374.2,203.6 373.8,207.0 373.3,210.4 372.9,213.8 372.5,217.2 372.0,220.6 371.6,224.0 371.2,227.4 370.8,230.8 370.3,234.2 369.9,237.6 369.5,241.0 369.0,244.4 368.6,247.8 368.1,251.2 367.6,254.5 367.1,257.9 366.6,261.2 366.0,264.5 365.4,267.7 364.7,270.9 364.0,274.1 363.3,277.3 360.8,277.6 358.2,277.9 355.7,278.1 353.2,278.4 352.6,280.6 352.0,282.8 351.5,285.0 351.3,287.5 351.2,290.0 351.1,292.5 351.0,295.0 348.8,292.1 346.6,289.2 344.4,286.3 342.2,283.4 340.0,280.5 337.8,277.6 335.6,274.7 333.5,271.7 331.3,268.8 329.1,265.8 326.8,262.8 324.6,259.8 322.4,256.8 320.2,253.8 318.0,250.7 315.9,247.7 313.7,244.6 311.5,241.6 309.3,238.5 307.2,235.4 305.0,232.3 302.9,229.2 300.8,226.2 298.7,223.1 296.6,220.0 294.5,216.9 292.5,213.8 293.2,210.4 294.0,207.1 294.7,203.8 295.5,200.5 296.2,197.2 297.0,193.9 297.7,190.6 298.5,187.3 299.2,184.0 300.0,180.7 300.7,177.4 301.5,174.1 302.3,170.7 303.0,167.4Z"/>
<path fill="#a9bc15" d="M364.9,55.0 367.1,55.5 369.3,56.0 371.5,56.5 373.8,57.0 376.0,57.5 375.4,60.3 374.8,63.1 374.1,65.9 373.5,68.7 372.9,71.6 372.3,74.4 372.9,77.9 373.6,81.4 374.2,84.9 375.6,86.1 376.9,87.2 378.3,88.3 379.8,91.8 381.3,95.3 382.8,98.8 384.4,100.0 386.0,101.1 385.1,103.6 384.2,106.0 383.2,108.5 382.3,110.9 382.6,113.6 383.0,116.3 383.3,119.0 385.3,119.1 387.3,119.1 389.3,119.2 390.1,122.6 390.9,126.0 391.7,129.4 392.5,132.8 393.9,135.4 395.4,137.9 396.8,140.5 398.0,141.1 399.1,141.7 401.6,141.6 404.1,141.6 406.3,141.6 408.6,141.5 410.8,141.5 413.0,141.5 415.3,141.5 417.0,142.1 418.8,142.8 420.6,143.4 420.1,146.6 419.7,149.9 419.3,153.1 418.8,156.3 418.4,159.6 418.0,162.8 417.5,166.0 417.1,169.2 416.7,172.5 416.3,175.7 415.9,178.9 415.4,182.1 415.0,185.3 412.5,184.9 410.0,184.6 407.5,184.2 405.0,183.9 402.5,183.5 400.0,183.2 397.5,182.9 395.0,182.5 392.5,182.2 390.0,181.8 387.5,181.5 385.0,181.1 382.5,180.8 380.0,180.4 377.5,180.0 375.0,179.6 372.5,179.2 370.1,178.7 367.6,178.3 365.1,177.8 362.6,177.4 360.2,176.9 357.7,176.4 355.2,175.9 352.7,175.4 350.3,174.9 347.8,174.4 345.3,173.9 342.9,173.3 340.4,172.8 341.0,169.4 341.7,166.1 342.3,162.7 343.0,159.3 343.6,156.0 344.3,152.6 344.9,149.2 345.6,145.8 346.3,142.4 348.0,140.2 347.0,136.9 346.0,133.6 346.6,131.9 347.3,130.3 349.5,127.5 351.7,124.8 353.9,122.0 355.2,119.6 356.5,117.3 357.8,114.9 357.0,111.8 356.1,108.7 355.3,105.5 355.3,103.1 355.4,100.6 355.4,98.2 356.1,94.8 356.9,91.5 357.6,88.1 358.3,84.8 359.0,81.5 359.8,78.1 360.5,74.8 361.2,71.5 362.0,68.2 362.7,64.9 363.4,61.6 364.2,58.3Z"/>
<path fill="#a9bc15" d="M376.0,57.5 378.2,58.0 380.4,58.4 382.7,58.9 384.9,59.3 387.1,59.8 389.3,60.2 391.5,60.7 393.8,61.1 396.0,61.5 398.2,61.9 400.4,62.3 402.6,62.7 404.9,63.1 407.1,63.5 409.3,63.8 411.5,64.2 413.7,64.6 416.0,64.9 418.2,65.3 420.4,65.6 422.6,66.0 424.9,66.3 427.1,66.7 429.3,67.0 431.5,67.3 433.8,67.6 436.0,67.9 438.2,68.2 440.4,68.5 442.7,68.8 444.9,69.1 447.1,69.4 449.3,69.7 451.6,69.9 453.8,70.2 456.0,70.4 458.3,70.7 460.5,70.9 462.7,71.2 464.9,71.4 467.2,71.6 469.4,71.9 471.6,72.1 473.9,72.3 476.1,72.5 478.3,72.7 480.5,72.9 482.8,73.1 485.0,73.3 487.2,73.5 489.5,73.7 491.7,73.8 493.9,74.0 496.1,74.2 498.4,74.3 500.6,74.5 502.8,74.6 505.0,74.7 507.3,74.9 509.5,75.0 509.3,78.2 509.1,81.3 508.9,84.5 508.7,87.7 508.6,90.9 508.4,94.0 508.2,97.2 508.1,100.4 507.9,103.6 507.8,106.8 507.7,109.9 507.5,113.1 507.4,116.3 507.3,119.6 507.1,122.8 507.0,126.0 506.9,129.2 506.7,132.4 506.6,135.6 506.5,138.8 506.4,142.1 504.0,141.9 501.6,141.8 499.2,141.7 496.8,141.6 494.4,141.4 492.0,141.3 489.6,141.1 487.2,141.0 484.8,140.8 482.4,140.7 480.0,140.5 477.6,140.3 475.1,140.2 472.7,140.0 470.3,139.8 467.9,139.6 465.5,139.4 463.0,139.2 460.6,138.9 458.2,138.7 455.7,138.5 453.3,138.3 450.9,138.0 448.5,137.8 446.0,137.5 443.6,137.2 441.2,137.0 438.8,136.7 436.3,136.4 433.9,136.1 431.5,135.8 429.1,135.5 426.6,135.2 424.2,134.9 421.8,134.6 421.4,137.5 421.0,140.5 420.6,143.4 418.8,142.8 417.0,142.1 415.3,141.5 413.0,141.5 410.8,141.5 408.6,141.5 406.3,141.6 404.1,141.6 401.6,141.6 399.1,141.7 398.0,141.1 396.8,140.5 395.4,137.9 393.9,135.4 392.5,132.8 391.7,129.4 390.9,126.0 390.1,122.6 389.3,119.2 387.3,119.1 385.3,119.1 383.3,119.0 383.0,116.3 382.6,113.6 382.3,110.9 383.2,108.5 384.2,106.0 385.1,103.6 386.0,101.1 384.4,100.0 382.8,98.8 381.3,95.3 379.8,91.8 378.3,88.3 376.9,87.2 375.6,86.1 374.2,84.9 373.6,81.4 372.9,77.9 372.3,74.4 372.9,71.6 373.5,68.7 374.1,65.9 374.8,63.1 375.4,60.3Z"/>
<path fill="#e19a17" d="M420.6,143.4 421.0,140.5 421.4,137.5 421.8,134.6 424.2,134.9 426.6,135.2 429.1,135.5 431.5,135.8 433.9,136.1 436.3,136.4 438.8,136.7 441.2,137.0 443.6,137.2 446.0,137.5 448.5,137.8 450.9,138.0 453.3,138.3 455.7,138.5 458.2,138.7 460.6,138.9 463.0,139.2 465.5,139.4 467.9,139.6 470.3,139.8 472.7,140.0 475.1,140.2 477.6,140.3 480.0,140.5 482.4,140.7 484.8,140.8 487.2,141.0 489.6,141.1 492.0,141.3 494.4,141.4 496.8,141.6 499.2,141.7 501.6,141.8 504.0,141.9 506.4,142.1 506.2,145.5 506.1,148.9 506.0,152.4 505.8,155.8 505.7,159.2 505.6,162.7 505.4,166.1 505.3,169.5 505.2,172.9 505.0,176.2 504.8,179.6 504.6,182.9 504.4,186.2 504.2,189.5 504.0,192.9 503.8,196.2 503.6,199.5 503.4,202.8 503.2,206.1 503.0,209.5 500.5,209.4 497.9,209.3 495.4,209.2 492.9,209.1 490.3,209.0 487.8,208.9 485.2,208.8 482.6,208.7 480.1,208.6 477.5,208.5 474.9,208.4 472.3,208.3 469.8,208.2 467.2,208.1 464.6,208.0 462.0,207.8 459.4,207.7 456.9,207.5 454.3,207.4 451.7,207.2 449.1,207.0 446.5,206.8 443.9,206.5 441.3,206.3 438.8,206.0 436.2,205.6 433.6,205.3 431.0,204.9 428.4,204.5 425.8,204.1 423.3,203.7 420.7,203.2 418.1,202.8 415.6,202.4 413.0,202.0 413.4,198.6 413.8,195.3 414.2,192.0 414.6,188.6 415.0,185.3 415.4,182.1 415.9,178.9 416.3,175.7 416.7,172.5 417.1,169.2 417.5,166.0 418.0,162.8 418.4,159.6 418.8,156.3 419.3,153.1 419.7,149.9 420.1,146.6Z"/>
<path fill="#e19a17" d="M377.5,180.0 380.0,180.4 382.5,180.8 385.0,181.1 387.5,181.5 390.0,181.8 392.5,182.2 395.0,182.5 397.5,182.9 400.0,183.2 402.5,183.5 405.0,183.9 407.5,184.2 410.0,184.6 412.5,184.9 415.0,185.3 414.6,188.6 414.2,192.0 413.8,195.3 413.4,198.6 413.0,202.0 415.6,202.4 418.1,202.8 420.7,203.2 423.3,203.7 425.8,204.1 428.4,204.5 431.0,204.9 433.6,205.3 436.2,205.6 438.8,206.0 438.4,209.4 438.1,212.7 437.7,216.1 437.4,219.4 437.1,222.8 436.8,226.1 436.4,229.5 436.1,232.8 435.8,236.2 435.5,239.5 435.1,242.9 434.8,246.3 434.5,249.6 434.1,253.0 433.8,256.3 433.4,259.7 433.1,263.0 432.7,266.3 432.4,269.7 432.0,273.0 429.3,272.8 426.7,272.5 424.0,272.3 421.4,272.0 418.7,271.7 416.1,271.4 413.5,271.2 410.8,270.9 408.2,270.6 405.5,270.2 402.9,269.9 400.3,269.6 397.6,269.2 395.0,268.9 392.4,268.5 389.8,268.2 387.1,267.8 384.5,267.4 381.9,267.0 379.2,266.6 376.6,266.2 374.0,265.8 371.3,265.4 368.7,265.0 366.0,264.5 366.6,261.2 367.1,257.9 367.6,254.5 368.1,251.2 368.6,247.8 369.0,244.4 369.5,241.0 369.9,237.6 370.3,234.2 370.8,230.8 371.2,227.4 371.6,224.0 372.0,220.6 372.5,217.2 372.9,213.8 373.3,210.4 373.8,207.0 374.2,203.6 374.6,200.2 375.1,196.8 375.6,193.5 376.0,190.1 376.5,186.7 377.0,183.4Z"/>
<path fill="#e19a17" d="M438.8,206.0 441.3,206.3 443.9,206.5 446.5,206.8 449.1,207.0 451.7,207.2 454.3,207.4 456.9,207.5 459.4,207.7 462.0,207.8 464.6,208.0 467.2,208.1 469.8,208.2 472.3,208.3 474.9,208.4 477.5,208.5 480.1,208.6 482.6,208.7 485.2,208.8 487.8,208.9 490.3,209.0 492.9,209.1 495.4,209.2 497.9,209.3 500.5,209.4 503.0,209.5 505.5,209.7 508.0,209.9 510.5,210.1 513.0,210.3 515.5,210.5 518.0,210.6 520.5,210.8 523.0,211.0 525.5,211.1 528.0,211.3 527.9,214.8 527.8,218.3 527.7,221.8 527.6,225.3 527.5,228.7 527.4,232.1 527.3,235.5 527.2,238.8 527.1,242.1 527.0,245.4 526.9,248.6 526.8,251.9 526.7,255.1 526.6,258.4 526.5,261.6 526.4,264.9 526.3,268.2 526.2,271.4 526.1,274.7 526.0,278.0 523.4,277.9 520.8,277.8 518.2,277.7 515.7,277.6 513.1,277.5 510.5,277.4 507.8,277.2 505.2,277.1 502.6,277.0 500.0,276.9 497.3,276.8 494.7,276.7 492.1,276.5 489.5,276.4 486.9,276.3 484.2,276.2 481.6,276.0 479.0,275.9 476.4,275.8 473.8,275.6 471.1,275.5 468.5,275.4 465.9,275.2 463.3,275.1 460.7,274.9 458.1,274.8 455.4,274.6 452.8,274.5 450.2,274.3 447.6,274.1 445.0,274.0 442.4,273.8 439.8,273.6 437.2,273.4 434.6,273.2 432.0,273.0 432.4,269.7 432.7,266.3 433.1,263.0 433.4,259.7 433.8,256.3 434.1,253.0 434.5,249.6 434.8,246.3 435.1,242.9 435.5,239.5 435.8,236.2 436.1,232.8 436.4,229.5 436.8,226.1 437.1,222.8 437.4,219.4 437.7,216.1 438.1,212.7 438.4,209.4Z"/>
<path fill="#e19a17" d="M366.0,264.5 368.7,265.0 371.3,265.4 374.0,265.8 376.6,266.2 379.2,266.6 381.9,267.0 384.5,267.4 387.1,267.8 389.8,268.2 392.4,268.5 395.0,268.9 397.6,269.2 400.3,269.6 402.9,269.9 405.5,270.2 408.2,270.6 410.8,270.9 413.5,271.2 416.1,271.4 418.7,271.7 421.4,272.0 424.0,272.3 426.7,272.5 429.3,272.8 432.0,273.0 431.6,276.2 431.3,279.5 430.9,282.7 430.6,285.9 430.2,289.1 429.8,292.4 429.5,295.6 429.1,298.8 428.7,302.1 428.4,305.3 428.0,308.5 427.6,311.8 427.3,315.0 426.9,318.3 426.6,321.6 426.2,324.9 425.9,328.2 425.5,331.5 425.2,334.8 424.8,338.2 424.5,341.5 424.2,344.9 423.9,348.3 423.6,351.7 423.2,355.1 422.9,358.5 422.6,361.9 422.3,365.3 422.0,368.7 419.3,368.6 416.7,368.5 414.0,368.3 411.4,368.0 408.7,367.8 406.1,367.5 403.4,367.3 400.7,367.0 398.1,366.6 395.4,366.3 392.7,366.0 390.0,364.5 387.3,363.1 384.5,361.7 381.8,360.2 379.1,358.7 376.4,357.2 373.7,355.7 371.0,354.2 368.3,352.7 365.6,351.2 362.9,349.6 360.2,348.1 357.6,346.5 354.9,345.0 352.2,343.4 349.6,341.8 347.0,340.3 344.3,338.7 341.7,337.1 342.6,335.3 343.6,333.4 345.3,331.3 346.9,329.1 347.5,326.2 348.0,323.2 348.6,320.2 349.2,317.2 351.4,314.2 353.7,311.1 355.9,308.0 354.7,304.7 353.4,301.5 352.2,298.2 351.0,295.0 351.1,292.5 351.2,290.0 351.3,287.5 351.5,285.0 352.0,282.8 352.6,280.6 353.2,278.4 355.7,278.1 358.2,277.9 360.8,277.6 363.3,277.3 364.0,274.1 364.7,270.9 365.4,267.7Z"/>
<path fill="#a9bc15" d="M432.0,273.0 434.6,273.2 437.2,273.4 439.8,273.6 442.4,273.8 445.0,274.0 447.6,274.1 450.2,274.3 452.8,274.5 455.4,274.6 458.1,274.8 460.7,274.9 463.3,275.1 465.9,275.2 468.5,275.4 471.1,275.5 473.8,275.6 476.4,275.8 479.0,275.9 481.6,276.0 484.2,276.2 486.9,276.3 489.5,276.4 492.1,276.5 494.7,276.7 497.3,276.8 500.0,276.9 502.6,277.0 505.2,277.1 507.8,277.2 510.5,277.4 513.1,277.5 513.0,280.2 512.9,283.0 512.8,285.8 512.7,289.1 512.6,292.4 512.4,295.7 512.3,299.0 512.2,302.3 512.1,305.6 512.0,309.0 511.9,312.3 511.8,315.6 511.7,318.9 511.6,322.3 511.5,325.6 511.5,329.0 511.4,332.3 511.3,335.7 511.2,339.0 511.1,342.4 511.0,345.7 510.9,349.1 510.8,352.4 510.7,355.8 510.6,359.2 510.5,362.5 507.6,362.2 504.6,361.9 501.7,361.6 498.8,361.2 495.8,360.9 492.9,360.5 489.9,360.2 487.0,359.8 484.0,359.5 481.1,359.1 478.1,358.8 475.2,358.4 472.3,358.1 469.3,357.8 466.4,357.6 463.5,357.3 460.6,357.2 457.7,357.0 458.2,358.9 458.8,360.8 456.1,360.7 453.4,360.7 450.7,360.7 448.0,360.7 445.3,360.8 442.7,360.8 440.0,360.9 437.4,360.9 434.7,361.0 434.5,363.6 434.3,366.2 434.0,368.7 431.6,368.8 429.2,368.8 426.8,368.8 424.4,368.8 422.0,368.7 422.3,365.3 422.6,361.9 422.9,358.5 423.2,355.1 423.6,351.7 423.9,348.3 424.2,344.9 424.5,341.5 424.8,338.2 425.2,334.8 425.5,331.5 425.9,328.2 426.2,324.9 426.6,321.6 426.9,318.3 427.3,315.0 427.6,311.8 428.0,308.5 428.4,305.3 428.7,302.1 429.1,298.8 429.5,295.6 429.8,292.4 430.2,289.1 430.6,285.9 430.9,282.7 431.3,279.5 431.6,276.2Z"/>
<path fill="#a9bc15" d="M458.8,360.8 458.2,358.9 457.7,357.0 460.6,357.2 463.5,357.3 466.4,357.6 469.3,357.8 472.3,358.1 475.2,358.4 478.1,358.8 481.1,359.1 484.0,359.5 487.0,359.8 489.9,360.2 492.9,360.5 495.8,360.9 498.8,361.2 501.7,361.6 504.6,361.9 507.6,362.2 510.5,362.5 510.6,359.2 510.7,355.8 510.8,352.4 510.9,349.1 511.0,345.7 511.1,342.4 511.2,339.0 511.3,335.7 511.4,332.3 511.5,329.0 511.5,325.6 511.6,322.3 511.7,318.9 511.8,315.6 511.9,312.3 512.0,309.0 512.1,305.6 512.2,302.3 512.3,299.0 512.4,295.7 512.6,292.4 512.7,289.1 512.8,285.8 515.5,285.9 518.2,286.1 520.9,286.2 523.7,286.3 526.4,286.4 529.1,286.6 531.8,286.7 534.6,286.9 537.3,287.0 540.0,287.2 542.7,287.3 545.5,287.4 548.2,287.5 550.9,287.7 553.6,287.8 553.7,291.1 553.7,294.4 553.7,297.7 553.8,301.0 553.8,304.3 553.8,307.7 553.9,311.0 553.9,314.3 554.0,317.6 554.0,320.9 556.8,321.7 559.7,322.5 562.5,323.2 565.3,324.0 567.4,325.1 569.5,326.1 571.7,327.2 573.8,328.3 576.1,329.3 578.4,330.4 580.8,331.4 583.1,332.4 585.7,333.0 588.4,333.6 591.1,334.2 593.8,334.7 595.9,334.2 598.0,333.7 600.1,333.2 602.2,332.7 605.0,332.5 607.8,332.4 610.6,332.2 613.5,332.0 616.3,331.2 619.0,330.4 621.8,329.6 624.5,330.7 627.1,331.7 629.8,332.7 632.5,333.8 634.7,334.1 636.9,334.4 639.1,334.8 639.4,337.7 639.7,340.7 640.0,343.7 640.2,346.6 640.5,349.5 640.7,352.4 640.9,355.3 641.0,358.2 641.2,361.1 643.2,364.4 645.1,367.6 646.2,370.1 647.2,372.6 648.2,375.1 649.3,377.5 648.9,380.6 648.4,383.6 648.0,386.6 647.5,389.6 647.1,392.1 646.7,394.7 646.3,397.3 645.8,399.8 643.3,401.2 640.8,402.6 638.3,403.9 635.8,405.3 633.3,406.6 630.4,409.1 627.5,411.6 624.5,414.1 621.6,416.6 619.0,418.1 616.3,419.6 613.6,421.1 611.0,422.5 608.3,424.0 605.3,426.4 602.4,428.7 599.4,431.0 597.7,433.9 595.9,436.7 594.2,439.6 594.0,442.5 593.9,445.4 593.7,448.3 593.5,451.2 594.3,454.0 595.1,456.7 595.9,459.5 596.7,462.3 597.5,465.0 594.8,465.6 592.1,466.2 589.1,465.4 586.0,464.7 582.9,463.9 579.8,463.1 576.7,461.7 573.7,460.3 570.6,458.9 567.5,457.5 566.5,454.6 565.5,451.7 564.5,448.8 563.6,445.8 562.6,442.9 561.6,440.0 558.6,437.1 555.6,434.1 552.6,431.2 549.6,428.2 548.5,425.3 547.4,422.3 546.4,419.4 545.3,416.4 543.8,413.7 542.4,411.1 540.9,408.4 538.0,406.1 535.1,403.7 532.1,401.4 529.4,401.2 526.8,400.9 524.1,400.7 521.4,400.4 518.7,400.2 516.4,401.7 514.1,403.3 512.5,405.8 510.8,408.4 509.2,411.0 507.6,413.5 505.1,412.3 502.6,411.2 500.2,410.0 497.8,408.2 495.5,406.5 493.1,404.8 490.8,403.1 488.4,401.3 486.7,397.7 485.0,394.1 483.3,390.5 481.6,386.8 479.1,383.6 476.7,380.3 474.2,377.0 471.8,373.7 469.1,371.0 466.5,368.4 463.9,365.8 461.3,363.3Z"/>
<path fill="#a9bc15" d="M513.1,277.5 515.7,277.6 518.2,277.7 520.8,277.8 523.4,277.9 526.0,278.0 528.6,278.1 531.3,278.3 533.9,278.4 536.6,278.6 539.2,278.7 541.9,278.8 544.5,278.9 547.1,279.0 549.8,279.1 552.4,279.2 555.1,279.3 557.7,279.3 560.3,279.4 563.0,279.4 565.6,279.5 568.2,279.5 570.8,279.5 573.5,279.5 576.1,279.4 578.7,279.4 581.3,279.3 583.9,279.3 586.5,279.2 589.1,279.1 591.7,279.0 594.3,278.9 596.9,278.8 599.6,278.7 602.2,278.6 604.8,278.5 607.4,278.4 610.1,278.3 612.7,278.2 615.4,278.1 618.0,278.0 620.7,277.8 623.3,277.7 626.0,277.4 626.3,280.7 626.7,283.8 627.0,286.8 627.7,290.0 628.4,293.2 629.1,296.3 629.8,299.3 630.5,302.3 631.1,305.3 631.3,308.5 631.5,311.7 631.6,314.8 631.7,317.9 631.9,321.1 632.0,324.2 632.2,327.4 632.3,330.6 632.5,333.8 629.8,332.7 627.1,331.7 624.5,330.7 621.8,329.6 619.0,330.4 616.3,331.2 613.5,332.0 610.6,332.2 607.8,332.4 605.0,332.5 602.2,332.7 600.1,333.2 598.0,333.7 595.9,334.2 593.8,334.7 591.1,334.2 588.4,333.6 585.7,333.0 583.1,332.4 580.8,331.4 578.4,330.4 576.1,329.3 573.8,328.3 571.7,327.2 569.5,326.1 567.4,325.1 565.3,324.0 562.5,323.2 559.7,322.5 556.8,321.7 554.0,320.9 554.0,317.6 553.9,314.3 553.9,311.0 553.8,307.7 553.8,304.3 553.8,301.0 553.7,297.7 553.7,294.4 553.7,291.1 553.6,287.8 550.9,287.7 548.2,287.5 545.5,287.4 542.7,287.3 540.0,287.2 537.3,287.0 534.6,286.9 531.8,286.7 529.1,286.6 526.4,286.4 523.7,286.3 520.9,286.2 518.2,286.1 515.5,285.9 512.8,285.8 512.9,283.0 513.0,280.2Z"/>
<path fill="#a9bc15" d="M526.0,278.0 526.1,274.7 526.2,271.4 526.3,268.2 526.4,264.9 526.5,261.6 526.6,258.4 526.7,255.1 526.8,251.9 526.9,248.6 527.0,245.4 527.1,242.1 527.2,238.8 527.3,235.5 527.4,232.1 527.5,228.7 530.1,228.8 532.6,228.9 535.2,229.0 537.7,229.0 540.3,229.0 542.9,229.0 545.5,229.0 548.1,229.0 550.7,229.0 553.3,228.9 555.9,228.9 558.5,228.8 561.1,228.8 563.7,228.7 566.3,228.6 568.9,228.5 571.5,228.5 574.2,228.3 576.8,228.2 579.4,228.1 582.1,228.0 584.7,227.8 587.3,227.6 589.9,227.5 592.5,227.3 595.1,227.0 597.7,226.7 600.3,226.4 602.8,226.1 605.3,225.6 607.7,225.1 610.1,224.5 612.5,223.8 614.8,223.1 616.5,223.9 618.2,224.8 617.1,226.3 616.0,227.9 617.5,229.3 619.2,230.8 621.1,232.6 621.1,236.1 621.4,239.9 621.7,243.9 622.2,248.0 622.7,252.2 623.2,256.5 623.8,260.8 624.3,265.0 624.9,269.3 625.5,273.4 626.0,277.4 623.3,277.7 620.7,277.8 618.0,278.0 615.4,278.1 612.7,278.2 610.1,278.3 607.4,278.4 604.8,278.5 602.2,278.6 599.6,278.7 596.9,278.8 594.3,278.9 591.7,279.0 589.1,279.1 586.5,279.2 583.9,279.3 581.3,279.3 578.7,279.4 576.1,279.4 573.5,279.5 570.8,279.5 568.2,279.5 565.6,279.5 563.0,279.4 560.3,279.4 557.7,279.3 555.1,279.3 552.4,279.2 549.8,279.1 547.1,279.0 544.5,278.9 541.9,278.8 539.2,278.7 536.6,278.6 533.9,278.4 531.3,278.3 528.6,278.1Z"/>
<path fill="#a9bc15" d="M505.0,176.2 504.8,179.6 504.6,182.9 504.4,186.2 504.2,189.5 504.0,192.9 503.8,196.2 503.6,199.5 503.4,202.8 503.2,206.1 503.0,209.5 505.5,209.7 508.0,209.9 510.5,210.1 513.0,210.3 515.5,210.5 518.0,210.6 520.5,210.8 523.0,211.0 525.5,211.1 528.0,211.3 527.9,214.8 527.8,218.3 527.7,221.8 527.6,225.3 527.5,228.7 530.1,228.8 532.6,228.9 535.2,229.0 537.7,229.0 540.3,229.0 542.9,229.0 545.5,229.0 548.1,229.0 550.7,229.0 553.3,228.9 555.9,228.9 558.5,228.8 561.1,228.8 563.7,228.7 566.3,228.6 568.9,228.5 571.5,228.5 574.2,228.3 576.8,228.2 579.4,228.1 582.1,228.0 584.7,227.8 587.3,227.6 589.9,227.5 592.5,227.3 595.1,227.0 597.7,226.7 600.3,226.4 602.8,226.1 605.3,225.6 607.7,225.1 610.1,224.5 612.5,223.8 614.8,223.1 613.5,221.2 612.1,219.2 610.4,216.9 610.7,216.5 610.3,214.1 609.8,211.5 609.2,208.9 608.6,206.1 607.0,202.4 605.3,198.7 603.6,194.9 601.9,191.2 600.4,188.2 598.9,185.3 597.6,182.6 595.2,181.4 592.8,180.2 590.6,179.1 588.3,178.8 586.0,178.6 583.7,178.4 581.4,178.1 579.1,177.8 576.8,177.5 574.5,177.2 572.2,176.8 569.8,176.9 567.4,177.0 565.0,177.1 562.6,177.1 560.1,177.2 557.7,177.2 555.3,177.3 552.9,177.3 550.5,177.3 548.1,177.3 545.7,177.3 543.3,177.3 540.9,177.3 538.5,177.3 536.1,177.2 533.7,177.2 531.4,177.1 529.0,177.1 526.6,177.0 524.2,177.0 521.8,176.9 519.4,176.8 517.0,176.7 514.6,176.6 512.2,176.5 509.8,176.5 507.4,176.4Z"/>
<path fill="#a9bc15" d="M507.0,126.0 509.3,126.1 511.6,126.2 513.9,126.4 516.2,126.5 518.5,126.6 520.8,126.7 523.1,126.8 525.3,126.9 527.6,127.0 529.9,127.1 532.2,127.2 534.5,127.3 536.8,127.3 539.0,127.4 541.3,127.5 543.6,127.5 545.9,127.6 548.2,127.6 550.4,127.6 552.7,127.7 555.0,127.7 557.3,127.7 559.6,127.7 561.9,127.7 564.2,127.7 566.4,127.7 568.7,127.7 571.0,127.7 573.3,127.6 575.6,127.6 577.9,127.5 580.2,127.5 582.5,127.4 584.8,127.3 587.1,127.3 589.4,127.2 591.7,127.1 594.0,127.0 594.2,130.3 594.5,133.6 594.8,136.9 595.1,140.3 595.4,143.6 595.6,146.9 595.9,150.1 596.2,153.4 596.5,156.6 596.8,159.7 597.0,162.8 597.3,165.8 597.5,168.7 596.8,171.0 596.2,173.3 595.5,175.5 596.1,177.8 596.8,180.1 597.6,182.6 595.2,181.4 592.8,180.2 590.6,179.1 588.3,178.8 586.0,178.6 583.7,178.4 581.4,178.1 579.1,177.8 576.8,177.5 574.5,177.2 572.2,176.8 569.8,176.9 567.4,177.0 565.0,177.1 562.6,177.1 560.1,177.2 557.7,177.2 555.3,177.3 552.9,177.3 550.5,177.3 548.1,177.3 545.7,177.3 543.3,177.3 540.9,177.3 538.5,177.3 536.1,177.2 533.7,177.2 531.4,177.1 529.0,177.1 526.6,177.0 524.2,177.0 521.8,176.9 519.4,176.8 517.0,176.7 514.6,176.6 512.2,176.5 509.8,176.5 507.4,176.4 505.0,176.2 505.2,172.9 505.3,169.5 505.4,166.1 505.6,162.7 505.7,159.2 505.8,155.8 506.0,152.4 506.1,148.9 506.2,145.5 506.4,142.1 506.5,138.8 506.6,135.6 506.7,132.4 506.9,129.2Z"/>
<path fill="#a9bc15" d="M509.5,75.0 511.7,75.1 513.9,75.2 516.0,75.3 518.2,75.4 520.4,75.5 522.6,75.6 524.8,75.7 526.9,75.8 529.1,75.8 531.3,75.9 533.5,76.0 535.7,76.0 537.9,76.1 540.0,76.1 542.2,76.1 544.4,76.2 546.6,76.2 548.8,76.2 551.0,76.2 553.1,76.3 555.3,76.3 557.5,76.3 559.7,76.3 561.9,76.3 564.1,76.2 566.3,76.2 568.5,76.2 570.6,76.2 572.8,76.1 575.0,76.1 577.2,76.0 579.4,76.0 581.6,75.9 583.8,75.8 586.0,75.7 586.3,79.1 586.6,82.4 587.0,85.7 587.3,89.0 588.0,91.5 588.7,94.0 589.4,96.5 590.1,99.0 590.3,102.1 590.4,105.3 590.6,108.5 590.7,111.7 590.9,114.9 591.6,117.9 592.4,120.9 593.2,124.0 594.0,127.0 591.7,127.1 589.4,127.2 587.1,127.3 584.8,127.3 582.5,127.4 580.2,127.5 577.9,127.5 575.6,127.6 573.3,127.6 571.0,127.7 568.7,127.7 566.4,127.7 564.2,127.7 561.9,127.7 559.6,127.7 557.3,127.7 555.0,127.7 552.7,127.7 550.4,127.6 548.2,127.6 545.9,127.6 543.6,127.5 541.3,127.5 539.0,127.4 536.8,127.3 534.5,127.3 532.2,127.2 529.9,127.1 527.6,127.0 525.3,126.9 523.1,126.8 520.8,126.7 518.5,126.6 516.2,126.5 513.9,126.4 511.6,126.2 509.3,126.1 507.0,126.0 507.1,122.8 507.3,119.6 507.4,116.3 507.5,113.1 507.7,109.9 507.8,106.8 507.9,103.6 508.1,100.4 508.2,97.2 508.4,94.0 508.6,90.9 508.7,87.7 508.9,84.5 509.1,81.3 509.3,78.2Z"/>
<path fill="#b51214" d="M586.0,75.7 588.1,75.7 590.3,75.6 592.4,75.4 594.5,75.3 596.7,75.2 598.8,75.1 600.9,75.0 603.1,74.8 605.2,74.7 607.4,74.5 609.5,74.4 609.5,71.2 609.5,68.0 611.5,68.1 613.5,68.2 613.9,70.8 614.4,73.4 614.9,76.1 615.3,78.7 617.3,79.2 619.2,79.7 621.1,80.3 623.1,80.8 625.0,81.3 627.3,80.7 629.6,80.1 631.9,79.4 634.2,78.8 636.1,80.2 638.1,81.6 640.0,83.0 641.9,84.3 643.9,84.8 645.9,85.3 647.9,85.7 649.9,86.2 652.0,86.7 654.1,86.2 656.3,85.7 658.5,85.2 660.7,84.7 662.8,84.7 665.0,84.6 667.1,84.6 669.2,84.5 671.3,84.5 673.4,84.4 675.6,84.3 673.3,86.1 671.0,87.8 668.7,89.5 666.3,91.2 664.0,92.8 661.8,95.0 659.5,97.2 657.2,99.4 654.9,101.6 652.7,103.8 650.4,105.8 648.1,107.7 645.9,109.7 643.7,111.5 643.9,114.7 644.1,117.9 644.3,121.2 642.7,124.5 641.1,127.7 639.6,131.0 639.7,133.8 639.8,136.6 639.9,139.4 640.1,142.1 640.3,144.9 642.4,146.4 644.6,147.9 646.8,149.4 649.4,151.2 652.1,153.1 654.1,154.5 656.1,156.0 658.1,157.5 660.2,158.9 661.1,161.3 662.0,163.7 659.7,164.0 657.4,164.2 655.0,164.4 652.7,164.6 650.3,164.8 648.0,165.0 645.6,165.2 643.2,165.4 640.8,165.5 638.5,165.7 636.1,165.9 633.6,166.1 631.2,166.2 628.8,166.4 626.4,166.6 624.0,166.7 621.6,166.9 619.1,167.1 616.7,167.2 614.3,167.4 611.9,167.6 609.5,167.8 607.0,168.0 604.6,168.1 602.3,168.3 599.9,168.5 597.5,168.7 597.3,165.8 597.0,162.8 596.8,159.7 596.5,156.6 596.2,153.4 595.9,150.1 595.6,146.9 595.4,143.6 595.1,140.3 594.8,136.9 594.5,133.6 594.2,130.3 594.0,127.0 593.2,124.0 592.4,120.9 591.6,117.9 590.9,114.9 590.7,111.7 590.6,108.5 590.4,105.3 590.3,102.1 590.1,99.0 589.4,96.5 588.7,94.0 588.0,91.5 587.3,89.0 587.0,85.7 586.6,82.4 586.3,79.1Z"/>
<path fill="#a9bc15" d="M597.5,168.7 599.9,168.5 602.3,168.3 604.6,168.1 607.0,168.0 609.5,167.8 611.9,167.6 614.3,167.4 616.7,167.2 619.1,167.1 621.6,166.9 624.0,166.7 626.4,166.6 628.8,166.4 631.2,166.2 633.6,166.1 636.1,165.9 638.5,165.7 640.8,165.5 643.2,165.4 645.6,165.2 648.0,165.0 650.3,164.8 652.7,164.6 655.0,164.4 657.4,164.2 659.7,164.0 662.0,163.7 662.9,166.9 663.8,170.0 664.7,173.2 665.6,176.3 667.9,177.1 670.2,177.9 672.5,178.8 674.8,180.8 677.1,183.0 679.5,185.1 679.1,188.6 678.7,192.1 677.0,193.2 675.3,194.3 673.5,195.4 671.7,196.5 671.1,199.0 670.4,201.4 669.8,203.9 668.9,206.4 668.0,208.9 667.0,211.3 666.0,213.8 663.9,211.8 661.7,209.9 659.1,209.8 656.5,209.8 653.9,209.8 651.3,209.8 648.6,209.8 646.1,209.9 643.5,210.0 640.9,210.2 638.4,210.4 635.9,210.7 633.4,211.0 631.0,211.4 628.6,211.9 626.3,212.4 624.0,213.0 621.7,213.6 619.5,214.3 617.2,215.0 615.0,215.7 612.7,216.3 610.4,216.9 610.7,216.5 610.3,214.1 609.8,211.5 609.2,208.9 608.6,206.1 607.0,202.4 605.3,198.7 603.6,194.9 601.9,191.2 600.4,188.2 598.9,185.3 597.6,182.6 596.8,180.1 596.1,177.8 595.5,175.5 596.2,173.3 596.8,171.0Z"/>
<path fill="#a9bc15" d="M610.4,216.9 612.7,216.3 615.0,215.7 617.2,215.0 619.5,214.3 621.7,213.6 624.0,213.0 626.3,212.4 628.6,211.9 631.0,211.4 633.4,211.0 635.9,210.7 638.4,210.4 640.9,210.2 643.5,210.0 646.1,209.9 648.6,209.8 651.3,209.8 653.9,209.8 656.5,209.8 659.1,209.8 661.7,209.9 663.9,211.8 666.0,213.8 666.1,216.6 666.2,219.5 666.2,222.3 668.5,224.8 670.7,227.3 672.9,229.8 675.2,232.4 677.8,234.8 680.4,237.3 683.0,239.7 682.5,242.2 682.0,244.8 681.5,247.3 684.0,250.2 686.5,253.0 689.1,255.8 691.7,258.4 694.3,261.0 696.5,263.3 698.7,265.7 701.0,268.0 699.9,270.7 698.8,273.4 697.7,276.3 697.1,279.2 696.5,282.1 695.9,285.0 693.6,285.3 691.3,285.6 689.0,285.8 686.7,286.1 687.3,283.1 687.9,280.1 688.4,277.2 685.7,277.5 682.9,277.8 680.2,278.2 677.5,278.5 674.7,278.9 672.0,279.2 669.3,279.6 666.6,280.0 663.9,280.4 661.2,280.8 658.5,281.3 655.9,281.7 653.2,282.2 650.5,282.6 647.9,283.1 645.3,283.6 642.6,284.1 640.0,284.6 637.4,285.1 634.8,285.6 632.2,286.1 629.6,286.5 627.0,286.8 626.7,283.8 626.3,280.7 626.0,277.4 625.5,273.4 624.9,269.3 624.3,265.0 623.8,260.8 623.2,256.5 622.7,252.2 622.2,248.0 621.7,243.9 621.4,239.9 621.1,236.1 621.1,232.6 619.2,230.8 617.5,229.3 616.0,227.9 617.1,226.3 618.2,224.8 616.5,223.9 614.8,223.1 613.5,221.2 612.1,219.2Z"/>
<path fill="#a9bc15" d="M627.0,286.8 629.6,286.5 632.2,286.1 634.8,285.6 637.4,285.1 640.0,284.6 642.6,284.1 645.3,283.6 647.9,283.1 650.5,282.6 653.2,282.2 655.9,281.7 658.5,281.3 661.2,280.8 663.9,280.4 666.6,280.0 669.3,279.6 672.0,279.2 674.7,278.9 677.5,278.5 680.2,278.2 682.9,277.8 685.7,277.5 688.4,277.2 687.9,280.1 687.3,283.1 686.7,286.1 689.0,285.8 691.3,285.6 693.6,285.3 695.9,285.0 695.3,288.6 694.6,292.2 694.1,295.2 693.6,298.3 693.1,301.3 691.2,303.4 689.1,307.2 687.1,311.0 686.0,314.1 684.9,317.1 683.8,320.2 682.7,323.2 682.6,326.5 682.5,329.9 682.3,333.3 682.2,336.6 682.0,340.0 679.2,340.3 676.4,340.6 673.6,340.8 670.8,341.1 668.0,341.4 665.2,341.7 662.4,341.9 659.6,342.2 656.8,342.4 654.0,342.6 651.2,342.9 648.4,343.1 645.6,343.3 642.8,343.5 640.0,343.7 639.7,340.7 639.4,337.7 639.1,334.8 636.9,334.4 634.7,334.1 632.5,333.8 632.3,330.6 632.2,327.4 632.0,324.2 631.9,321.1 631.7,317.9 631.6,314.8 631.5,311.7 631.3,308.5 631.1,305.3 630.5,302.3 629.8,299.3 629.1,296.3 628.4,293.2 627.7,290.0Z"/>
<path fill="#b51214" d="M640.0,343.7 642.8,343.5 645.6,343.3 648.4,343.1 651.2,342.9 654.0,342.6 656.8,342.4 659.6,342.2 662.4,341.9 665.2,341.7 668.0,341.4 670.8,341.1 673.6,340.8 676.4,340.6 679.2,340.3 682.0,340.0 682.1,342.9 682.2,345.8 682.3,348.7 683.3,351.5 684.2,354.3 685.2,357.1 683.3,360.3 681.5,363.6 679.6,366.8 677.7,369.9 677.5,372.5 677.2,375.1 680.1,374.9 682.9,374.6 685.7,374.3 688.5,374.0 691.4,373.7 694.2,373.5 697.0,373.2 699.8,372.9 702.6,372.6 705.5,372.3 705.9,374.9 706.4,377.6 706.8,380.2 707.2,382.9 707.7,385.5 710.6,386.8 713.5,388.1 712.6,391.0 711.7,393.9 710.8,396.7 712.7,398.4 714.7,400.0 716.6,401.7 714.7,403.0 712.9,404.4 711.0,405.7 708.1,404.7 705.2,403.7 702.3,402.7 699.8,403.7 697.3,404.6 694.8,405.5 692.2,406.4 689.3,405.3 686.3,404.3 683.4,403.2 680.4,402.7 677.5,402.1 674.5,401.6 671.6,401.0 668.6,400.5 665.8,400.4 662.9,400.3 660.1,400.3 657.2,400.2 654.4,400.1 651.5,400.0 648.7,399.9 645.8,399.8 646.3,397.3 646.7,394.7 647.1,392.1 647.5,389.6 648.0,386.6 648.4,383.6 648.9,380.6 649.3,377.5 648.2,375.1 647.2,372.6 646.2,370.1 645.1,367.6 643.2,364.4 641.2,361.1 641.0,358.2 640.9,355.3 640.7,352.4 640.5,349.5 640.2,346.6Z"/>
<path fill="#b51214" d="M691.2,303.4 693.9,303.0 696.6,302.7 699.3,302.3 702.1,302.0 704.8,301.7 707.6,301.4 710.3,301.1 713.1,300.8 715.8,300.5 718.6,300.2 721.4,299.9 721.7,303.3 721.9,306.6 722.2,310.0 722.4,313.5 722.6,316.9 722.8,320.3 723.0,323.8 723.1,327.2 723.2,330.6 723.3,334.1 723.4,337.5 723.5,341.0 723.5,344.4 723.5,347.8 723.5,351.2 723.5,354.6 723.8,357.8 724.0,361.1 724.3,364.3 724.5,367.4 724.6,370.6 724.8,373.8 724.9,376.9 725.0,380.0 722.1,380.9 719.2,381.9 716.3,382.8 713.5,383.7 710.6,384.6 707.7,385.5 707.2,382.9 706.8,380.2 706.4,377.6 705.9,374.9 705.5,372.3 702.6,372.6 699.8,372.9 697.0,373.2 694.2,373.5 691.4,373.7 688.5,374.0 685.7,374.3 682.9,374.6 680.1,374.9 677.2,375.1 677.5,372.5 677.7,369.9 679.6,366.8 681.5,363.6 683.3,360.3 685.2,357.1 684.2,354.3 683.3,351.5 682.3,348.7 682.2,345.8 682.1,342.9 682.0,340.0 682.2,336.6 682.3,333.3 682.5,329.9 682.6,326.5 682.7,323.2 683.8,320.2 684.9,317.1 686.0,314.1 687.1,311.0 689.1,307.2Z"/>
<path fill="#b51214" d="M721.4,299.9 724.4,299.6 727.3,299.2 730.3,298.9 733.3,298.5 736.3,298.1 739.2,297.7 742.2,297.3 745.2,296.9 748.1,296.4 751.1,295.9 754.0,295.4 756.9,294.8 759.8,294.2 760.9,297.4 761.9,300.5 762.8,303.7 763.8,307.0 764.8,310.2 765.7,313.5 766.6,316.7 767.5,320.0 768.3,323.3 769.1,326.7 770.0,330.0 771.0,333.1 772.1,336.2 773.1,339.3 773.0,342.5 772.9,345.7 772.7,348.9 772.6,352.1 772.8,354.7 773.0,357.4 773.2,359.9 773.3,362.5 770.4,363.0 767.5,363.5 764.7,363.9 761.8,364.4 759.0,364.8 756.2,365.2 753.5,365.7 750.7,366.1 747.9,366.6 745.1,367.0 742.3,367.4 739.5,367.9 736.7,368.3 737.0,371.2 737.3,374.0 737.6,376.9 737.8,379.7 735.5,380.3 733.1,381.0 730.7,381.6 728.8,381.1 726.9,380.5 725.0,380.0 724.9,376.9 724.8,373.8 724.6,370.6 724.5,367.4 724.3,364.3 724.0,361.1 723.8,357.8 723.5,354.6 723.5,351.2 723.5,347.8 723.5,344.4 723.5,341.0 723.4,337.5 723.3,334.1 723.2,330.6 723.1,327.2 723.0,323.8 722.8,320.3 722.6,316.9 722.4,313.5 722.2,310.0 721.9,306.6 721.7,303.3Z"/>
<path fill="#b51214" d="M759.8,294.2 762.5,293.7 765.2,293.1 767.8,292.5 770.4,291.9 773.0,291.2 775.6,290.6 778.1,289.9 780.5,289.3 782.8,288.6 785.2,288.0 787.5,287.3 789.7,286.6 792.0,286.0 794.2,285.3 796.6,287.2 799.1,289.1 801.5,290.9 803.7,293.7 805.9,296.5 808.1,299.3 809.7,302.0 811.3,304.7 812.9,307.4 814.6,310.0 816.5,312.0 818.4,313.9 820.3,315.8 822.3,317.8 825.2,320.1 828.1,322.5 831.0,325.1 830.5,328.4 830.0,331.9 829.4,335.5 828.6,339.5 827.8,343.6 826.9,347.7 826.0,351.8 823.3,355.0 820.5,358.2 817.7,361.4 816.5,359.8 815.2,358.3 812.4,359.0 809.5,359.8 806.7,360.6 803.8,361.4 801.0,362.2 798.1,362.9 795.2,363.7 792.3,364.3 789.4,364.9 786.5,365.4 783.6,365.9 780.8,366.3 777.9,366.6 775.1,367.0 774.2,364.7 773.3,362.5 773.2,359.9 773.0,357.4 772.8,354.7 772.6,352.1 772.7,348.9 772.9,345.7 773.0,342.5 773.1,339.3 772.1,336.2 771.0,333.1 770.0,330.0 769.1,326.7 768.3,323.3 767.5,320.0 766.6,316.7 765.7,313.5 764.8,310.2 763.8,307.0 762.8,303.7 761.9,300.5 760.9,297.4Z"/>
<path fill="#b51214" d="M773.3,362.5 774.2,364.7 775.1,367.0 777.9,366.6 780.8,366.3 783.6,365.9 786.5,365.4 789.4,364.9 792.3,364.3 795.2,363.7 798.1,362.9 801.0,362.2 803.8,361.4 806.7,360.6 809.5,359.8 812.4,359.0 815.2,358.3 816.5,359.8 817.7,361.4 820.5,358.2 823.3,355.0 826.0,351.8 826.7,354.8 827.4,357.8 828.2,360.8 828.9,363.8 829.6,366.7 831.1,369.7 832.5,372.7 834.0,375.7 835.5,378.7 837.4,381.8 839.4,384.9 841.4,388.0 843.3,391.1 844.5,394.1 845.8,397.0 847.0,399.9 848.3,402.8 849.5,405.7 851.2,408.6 852.9,411.5 854.6,414.4 856.3,417.3 856.7,420.5 857.2,423.6 857.6,426.7 858.1,429.8 858.6,432.8 858.3,435.6 858.0,438.2 857.7,440.8 857.5,443.4 857.2,446.0 854.2,446.5 851.3,447.0 848.3,447.5 846.9,445.1 845.5,442.6 844.1,440.2 842.7,437.7 839.2,436.5 835.7,435.3 832.1,434.1 829.6,431.1 827.0,428.1 824.4,425.1 822.4,422.7 820.5,420.3 818.5,417.9 816.6,415.5 814.6,413.1 813.3,410.3 812.0,407.6 810.8,404.8 809.5,402.0 809.3,399.3 809.1,396.7 809.0,394.0 808.8,391.3 808.7,388.5 805.9,386.6 803.1,384.7 800.3,382.8 797.6,381.0 794.3,379.0 791.1,377.0 788.0,374.9 785.8,376.4 783.6,377.7 781.4,379.0 778.1,380.6 774.9,382.2 771.8,383.8 769.8,383.8 767.9,383.9 766.0,384.0 763.4,381.8 760.8,379.5 758.3,377.3 755.8,375.0 753.2,375.7 750.7,376.3 748.1,377.0 745.6,377.7 743.0,378.3 740.4,379.0 737.8,379.7 737.6,376.9 737.3,374.0 737.0,371.2 736.7,368.3 739.5,367.9 742.3,367.4 745.1,367.0 747.9,366.6 750.7,366.1 753.5,365.7 756.2,365.2 759.0,364.8 761.8,364.4 764.7,363.9 767.5,363.5 770.4,363.0Z"/>
<path fill="#b51214" d="M831.0,325.1 828.1,322.5 825.2,320.1 822.3,317.8 820.3,315.8 818.4,313.9 816.5,312.0 814.6,310.0 812.9,307.4 811.3,304.7 809.7,302.0 808.1,299.3 805.9,296.5 803.7,293.7 801.5,290.9 799.1,289.1 796.6,287.2 794.2,285.3 796.3,283.8 798.3,282.3 800.3,280.9 802.3,279.4 804.6,278.9 806.9,278.4 809.2,277.9 811.5,277.5 813.8,277.0 816.0,276.6 818.3,276.3 820.2,276.8 821.5,279.1 822.8,281.5 824.9,281.1 826.9,280.8 828.9,280.5 831.0,280.2 833.0,279.9 835.1,279.6 837.9,282.0 840.8,284.4 843.7,286.7 846.7,289.1 849.9,291.4 853.3,293.6 851.8,296.5 850.5,299.2 849.2,301.9 847.9,304.5 846.2,306.6 844.6,308.6 842.9,310.7 841.2,312.7 839.2,315.0 837.2,317.3 835.1,319.8 833.1,322.3Z"/>
<path fill="#b51214" d="M794.2,285.3 792.0,286.0 789.7,286.6 787.5,287.3 785.2,288.0 782.8,288.6 780.5,289.3 778.1,289.9 778.1,288.2 778.1,286.5 779.7,283.5 781.3,280.5 783.5,279.6 785.6,278.6 787.8,277.7 790.0,274.7 792.1,271.7 794.2,268.6 795.9,267.4 797.6,266.2 799.2,265.0 800.9,263.8 802.9,261.4 804.8,259.0 806.7,256.7 806.3,253.4 808.5,252.9 810.7,252.4 812.9,252.0 815.1,251.5 817.3,251.1 819.5,250.7 821.8,250.4 824.1,250.0 826.3,249.6 828.7,249.3 831.0,248.9 833.3,248.5 835.7,248.1 838.1,247.8 840.5,247.4 843.0,247.0 845.4,246.6 847.9,246.2 850.3,245.7 852.8,245.3 855.3,244.9 857.8,244.4 860.3,244.0 862.8,243.6 865.4,243.1 867.9,242.7 870.4,242.3 872.8,241.9 875.2,241.5 877.6,241.1 878.9,244.3 880.2,247.6 881.6,251.0 883.1,254.4 883.3,258.0 883.5,261.5 883.7,264.9 881.3,267.4 878.9,269.8 876.6,272.1 874.4,274.4 872.5,276.7 870.7,277.6 869.0,278.6 867.3,279.6 865.7,280.6 864.0,281.6 863.6,284.9 863.2,288.2 862.6,291.6 859.6,292.3 856.4,293.0 853.3,293.6 849.9,291.4 846.7,289.1 843.7,286.7 840.8,284.4 837.9,282.0 835.1,279.6 833.0,279.9 831.0,280.2 828.9,280.5 826.9,280.8 824.9,281.1 822.8,281.5 821.5,279.1 820.2,276.8 818.3,276.3 816.0,276.6 813.8,277.0 811.5,277.5 809.2,277.9 806.9,278.4 804.6,278.9 802.3,279.4 800.3,280.9 798.3,282.3 796.3,283.8Z"/>
<path fill="#b51214" d="M691.2,303.4 693.1,301.3 693.6,298.3 694.1,295.2 694.6,292.2 695.3,288.6 695.9,285.0 696.5,282.1 697.1,279.2 697.7,276.3 700.3,276.1 702.9,275.9 705.5,275.8 708.1,275.6 710.8,275.5 713.4,275.4 716.0,275.3 718.7,275.2 718.4,272.4 721.4,272.3 724.4,272.2 727.4,272.0 730.3,271.8 733.3,271.5 736.3,271.2 739.3,270.8 742.3,270.4 745.3,269.9 748.3,269.4 751.2,268.9 754.2,268.3 757.2,267.6 760.1,267.0 763.0,266.3 765.9,265.6 768.7,264.8 771.6,264.1 774.4,263.3 777.1,262.6 779.8,261.8 782.5,261.0 785.0,260.1 787.5,259.2 790.0,258.3 792.4,257.4 794.7,256.6 797.1,255.9 799.4,255.2 801.7,254.5 804.0,253.9 806.3,253.4 806.7,256.7 804.8,259.0 802.9,261.4 800.9,263.8 799.2,265.0 797.6,266.2 795.9,267.4 794.2,268.6 792.1,271.7 790.0,274.7 787.8,277.7 785.6,278.6 783.5,279.6 781.3,280.5 779.7,283.5 778.1,286.5 778.1,288.2 778.1,289.9 775.6,290.6 773.0,291.2 770.4,291.9 767.8,292.5 765.2,293.1 762.5,293.7 759.8,294.2 756.9,294.8 754.0,295.4 751.1,295.9 748.1,296.4 745.2,296.9 742.2,297.3 739.2,297.7 736.3,298.1 733.3,298.5 730.3,298.9 727.3,299.2 724.4,299.6 721.4,299.9 718.6,300.2 715.8,300.5 713.1,300.8 710.3,301.1 707.6,301.4 704.8,301.7 702.1,302.0 699.3,302.3 696.6,302.7 693.9,303.0Z"/>
<path fill="#b51214" d="M806.3,253.4 804.0,253.9 801.7,254.5 799.4,255.2 797.1,255.9 794.7,256.6 792.4,257.4 790.0,258.3 787.5,259.2 785.0,260.1 782.5,261.0 784.4,258.6 786.3,256.2 788.2,253.7 790.0,251.3 791.7,248.9 793.5,246.6 794.9,244.4 796.2,242.2 797.6,240.1 798.9,238.1 801.2,240.6 803.5,243.1 805.4,242.3 807.2,241.5 809.1,240.7 811.0,240.0 812.7,238.8 814.5,237.7 816.3,236.6 818.1,235.5 819.0,232.1 820.0,228.7 820.9,225.3 821.9,221.8 823.3,220.7 824.8,219.6 826.3,218.5 827.9,216.2 829.4,213.9 831.1,211.6 832.8,209.3 833.3,206.8 833.8,204.3 834.3,201.7 836.6,201.8 838.9,201.8 841.2,201.9 843.5,201.9 845.3,202.5 847.0,203.1 849.6,204.8 852.1,206.5 854.7,208.2 853.5,210.3 852.3,212.4 854.4,213.7 856.5,215.0 859.4,216.1 862.3,217.2 865.1,218.3 867.9,219.3 868.8,221.6 869.7,223.8 870.6,226.1 871.2,228.8 871.9,231.6 872.4,234.8 874.3,234.9 876.1,235.1 876.9,238.1 877.6,241.1 875.2,241.5 872.8,241.9 870.4,242.3 867.9,242.7 865.4,243.1 862.8,243.6 860.3,244.0 857.8,244.4 855.3,244.9 852.8,245.3 850.3,245.7 847.9,246.2 845.4,246.6 843.0,247.0 840.5,247.4 838.1,247.8 835.7,248.1 833.3,248.5 831.0,248.9 828.7,249.3 826.3,249.6 824.1,250.0 821.8,250.4 819.5,250.7 817.3,251.1 815.1,251.5 812.9,252.0 810.7,252.4 808.5,252.9Z"/>
<path fill="#b51214" d="M880.5,216.8 878.3,217.6 876.0,218.4 873.7,219.2 874.0,221.5 874.2,223.8 874.5,226.1 874.7,228.5 874.8,231.2 876.1,228.1 877.3,225.3 878.4,222.5 879.5,219.7Z"/>
<path fill="#b51214" d="M843.5,201.9 841.2,201.9 838.9,201.8 836.6,201.8 834.3,201.7 833.8,204.3 833.3,206.8 832.8,209.3 831.1,211.6 829.4,213.9 827.9,216.2 826.3,218.5 824.8,219.6 823.3,220.7 821.9,221.8 820.9,225.3 820.0,228.7 819.0,232.1 818.1,235.5 816.3,236.6 814.5,237.7 812.7,238.8 811.0,240.0 809.1,240.7 807.2,241.5 805.4,242.3 803.5,243.1 801.2,240.6 798.9,238.1 796.7,237.2 794.4,236.4 792.6,234.2 790.7,232.1 788.7,230.1 789.6,228.0 790.3,226.1 791.1,224.3 791.8,222.5 792.6,220.7 793.3,218.9 794.3,217.4 795.4,215.7 797.1,214.0 798.7,212.0 800.4,209.5 800.6,205.4 801.3,201.7 801.4,199.5 801.6,197.4 801.8,195.2 802.0,192.9 802.9,191.9 803.1,194.5 803.2,197.0 803.3,199.3 803.4,201.6 803.7,204.0 805.8,202.9 808.0,202.0 810.3,201.2 812.6,200.6 815.0,200.0 817.4,199.4 817.9,202.1 818.6,204.8 819.4,207.5 821.3,205.4 823.2,203.4 825.2,201.4 827.2,199.5 829.5,198.9 831.8,198.4 834.1,197.9 837.2,199.2 840.4,200.6Z"/>
<path fill="#b51214" d="M697.7,276.3 698.8,273.4 699.9,270.7 701.0,268.0 703.5,267.6 706.1,267.2 708.6,266.9 711.2,266.5 713.1,263.7 715.1,261.0 715.0,259.0 714.9,257.1 716.9,256.4 718.9,255.7 720.9,254.9 723.9,254.8 726.9,254.7 729.9,254.5 732.2,253.4 734.6,252.2 737.0,251.0 739.4,249.7 741.9,248.3 744.3,246.8 746.8,245.2 747.9,242.6 748.9,239.9 750.0,237.1 752.2,234.2 754.3,231.2 756.4,228.3 758.6,227.5 760.7,226.7 763.8,227.3 766.9,227.9 769.9,228.5 773.0,229.0 775.2,228.0 777.3,227.0 779.3,226.1 781.4,225.3 783.8,226.8 786.3,228.4 788.7,230.1 790.7,232.1 792.6,234.2 794.4,236.4 796.7,237.2 798.9,238.1 797.6,240.1 796.2,242.2 794.9,244.4 793.5,246.6 791.7,248.9 790.0,251.3 788.2,253.7 786.3,256.2 784.4,258.6 782.5,261.0 779.8,261.8 777.1,262.6 774.4,263.3 771.6,264.1 768.7,264.8 765.9,265.6 763.0,266.3 760.1,267.0 757.2,267.6 754.2,268.3 751.2,268.9 748.3,269.4 745.3,269.9 742.3,270.4 739.3,270.8 736.3,271.2 733.3,271.5 730.3,271.8 727.4,272.0 724.4,272.2 721.4,272.3 718.4,272.4 718.7,275.2 716.0,275.3 713.4,275.4 710.8,275.5 708.1,275.6 705.5,275.8 702.9,275.9 700.3,276.1Z"/>
<path fill="#a9bc15" d="M747.5,182.5 750.0,181.9 752.6,181.4 755.1,180.8 757.6,180.3 760.1,179.7 762.6,179.2 765.0,178.8 767.4,179.8 769.7,180.8 772.0,181.9 774.3,182.9 776.5,182.5 778.7,181.9 780.8,181.4 783.0,180.8 785.2,180.2 787.1,178.1 789.1,175.9 791.2,173.6 793.3,171.3 795.7,168.8 798.4,166.3 798.8,170.1 799.4,173.9 800.1,177.7 800.9,181.4 801.7,185.1 802.4,188.6 802.9,191.9 802.0,192.9 801.8,195.2 801.6,197.4 801.4,199.5 801.3,201.7 800.6,205.4 800.4,209.5 798.7,212.0 797.1,214.0 795.4,215.7 794.3,217.4 793.3,218.9 792.6,220.7 791.8,222.5 791.1,224.3 790.3,226.1 789.6,228.0 788.7,230.1 786.3,228.4 783.8,226.8 781.4,225.3 779.3,226.1 777.3,227.0 775.2,228.0 773.0,229.0 769.9,228.5 766.9,227.9 763.8,227.3 760.7,226.7 758.6,227.5 756.4,228.3 755.7,225.5 755.1,222.6 754.4,219.7 753.8,216.7 753.1,213.5 752.5,210.3 751.9,207.0 751.3,203.6 750.7,200.2 750.1,196.7 749.5,193.1 748.8,189.6 748.2,186.0Z"/>
<path fill="#b51214" d="M747.5,182.5 745.0,182.9 742.4,183.3 739.9,183.8 737.4,184.2 734.8,184.6 732.3,185.0 729.8,185.3 727.3,185.7 724.9,186.0 722.4,186.3 721.0,187.4 719.6,188.6 718.1,189.8 715.9,189.3 713.6,188.8 714.5,192.6 715.1,196.6 715.6,200.6 716.0,204.7 716.3,208.8 716.6,212.9 716.8,216.9 717.0,221.0 717.3,224.9 717.5,228.8 717.7,232.4 718.0,235.9 717.3,239.1 716.6,242.0 716.0,244.8 715.4,247.5 714.7,250.1 714.8,252.4 714.8,254.7 714.9,257.1 716.9,256.4 718.9,255.7 720.9,254.9 723.9,254.8 726.9,254.7 729.9,254.5 732.2,253.4 734.6,252.2 737.0,251.0 739.4,249.7 741.9,248.3 744.3,246.8 746.8,245.2 747.9,242.6 748.9,239.9 750.0,237.1 752.2,234.2 754.3,231.2 756.4,228.3 755.7,225.5 755.1,222.6 754.4,219.7 753.8,216.7 753.1,213.5 752.5,210.3 751.9,207.0 751.3,203.6 750.7,200.2 750.1,196.7 749.5,193.1 748.8,189.6 748.2,186.0Z"/>
<path fill="#a9bc15" d="M714.9,257.1 714.8,254.7 714.8,252.4 714.7,250.1 715.4,247.5 716.0,244.8 716.6,242.0 717.3,239.1 718.0,235.9 717.7,232.4 717.5,228.8 717.3,224.9 717.0,221.0 716.8,216.9 716.6,212.9 716.3,208.8 716.0,204.7 715.6,200.6 715.1,196.6 714.5,192.6 713.6,188.8 711.9,186.1 710.2,183.2 708.4,180.5 706.7,177.7 705.1,175.0 702.8,175.3 700.6,175.7 698.4,176.0 696.2,176.3 694.0,176.6 691.9,176.9 689.8,177.1 687.6,177.4 685.5,177.6 683.4,177.8 681.2,178.0 679.1,178.2 676.9,178.4 674.7,178.6 672.5,178.8 674.8,180.8 677.1,183.0 679.5,185.1 679.1,188.6 678.7,192.1 677.0,193.2 675.3,194.3 673.5,195.4 671.7,196.5 671.1,199.0 670.4,201.4 669.8,203.9 668.9,206.4 668.0,208.9 667.0,211.3 666.0,213.8 666.1,216.6 666.2,219.5 666.2,222.3 668.5,224.8 670.7,227.3 672.9,229.8 675.2,232.4 677.8,234.8 680.4,237.3 683.0,239.7 682.5,242.2 682.0,244.8 681.5,247.3 684.0,250.2 686.5,253.0 689.1,255.8 691.7,258.4 694.3,261.0 696.5,263.3 698.7,265.7 701.0,268.0 703.5,267.6 706.1,267.2 708.6,266.9 711.2,266.5 713.1,263.7 715.1,261.0 715.0,259.0Z"/>
<path fill="#a9bc15" d="M705.1,175.0 703.9,171.8 702.8,168.6 701.8,165.4 702.0,162.5 702.3,159.6 702.5,156.7 702.8,153.8 703.1,150.3 703.3,146.8 703.6,143.3 704.7,140.5 705.7,137.7 706.7,134.8 707.8,131.8 708.8,128.8 709.9,125.8 707.7,128.5 705.6,131.2 703.4,133.8 701.5,135.9 699.6,138.0 697.6,140.0 698.3,137.6 698.9,135.2 699.5,132.8 700.7,131.3 701.8,129.8 700.4,127.2 698.9,124.5 697.4,121.8 696.0,119.2 694.6,116.5 692.1,116.4 689.6,116.3 687.1,116.2 684.7,116.1 682.2,116.0 680.1,115.6 678.0,115.3 675.9,114.9 673.9,114.6 671.8,114.2 669.7,113.8 667.8,112.1 665.9,110.4 663.5,108.8 661.1,107.2 658.7,105.6 656.6,106.3 654.4,107.0 652.3,107.7 650.2,108.4 648.0,109.1 645.9,109.7 643.7,111.5 643.9,114.7 644.1,117.9 644.3,121.2 642.7,124.5 641.1,127.7 639.6,131.0 639.7,133.8 639.8,136.6 639.9,139.4 640.1,142.1 640.3,144.9 642.4,146.4 644.6,147.9 646.8,149.4 649.4,151.2 652.1,153.1 654.1,154.5 656.1,156.0 658.1,157.5 660.2,158.9 661.1,161.3 662.0,163.7 662.9,166.9 663.8,170.0 664.7,173.2 665.6,176.3 667.9,177.1 670.2,177.9 672.5,178.8 674.7,178.6 676.9,178.4 679.1,178.2 681.2,178.0 683.4,177.8 685.5,177.6 687.6,177.4 689.8,177.1 691.9,176.9 694.0,176.6 696.2,176.3 698.4,176.0 700.6,175.7 702.8,175.3Z"/>
<path fill="#a9bc15" d="M665.9,110.4 668.0,109.1 670.2,107.8 672.3,106.5 674.5,105.2 676.6,103.9 678.7,102.0 680.8,100.1 683.0,98.2 685.1,96.3 687.2,94.4 689.3,92.5 691.3,91.9 693.3,91.2 695.3,90.6 696.3,93.7 697.2,96.8 698.2,99.9 699.1,103.0 700.1,106.1 702.4,105.8 704.7,105.6 707.0,105.3 709.3,105.0 711.6,104.8 713.9,104.5 716.2,103.4 718.5,102.4 720.8,101.3 723.1,100.2 725.4,99.2 727.7,98.1 730.0,97.0 732.3,95.9 734.1,97.0 736.0,98.1 737.8,99.2 740.2,101.1 742.6,102.9 745.0,104.8 743.2,106.0 741.4,107.2 739.6,108.4 737.8,109.6 735.4,109.7 733.1,109.8 730.7,109.9 728.4,110.0 726.0,110.0 723.5,110.8 721.0,111.6 718.4,112.4 715.9,113.2 713.4,114.0 711.1,117.2 708.8,120.4 706.5,123.5 704.1,126.7 701.8,129.8 700.4,127.2 698.9,124.5 697.4,121.8 696.0,119.2 694.6,116.5 692.1,116.4 689.6,116.3 687.1,116.2 684.7,116.1 682.2,116.0 680.1,115.6 678.0,115.3 675.9,114.9 673.9,114.6 671.8,114.2 669.7,113.8 667.8,112.1Z"/>
<path fill="#a9bc15" d="M722.4,186.3 723.4,182.7 724.4,179.2 724.9,176.0 725.5,172.7 726.1,169.5 724.3,166.1 722.6,162.8 721.0,159.5 719.5,156.2 718.0,152.9 718.6,149.9 719.3,147.0 719.9,144.1 720.6,141.1 720.8,138.3 721.0,135.4 721.2,132.6 721.4,129.8 723.9,127.6 726.3,125.5 728.7,123.3 730.8,121.8 732.9,120.3 734.9,118.8 736.1,115.3 737.4,111.8 740.0,112.5 742.5,113.2 745.1,114.0 747.7,114.7 750.2,117.1 752.7,119.5 755.3,121.8 757.8,124.2 758.4,127.0 759.1,129.8 759.7,132.6 758.2,135.9 756.6,139.2 755.1,142.5 753.6,145.9 755.3,143.8 757.0,141.8 758.7,139.7 760.9,138.8 763.0,137.8 765.1,136.9 767.0,139.1 768.8,141.4 770.7,143.7 771.6,146.2 772.6,148.7 773.5,151.2 774.4,153.7 774.1,157.4 773.8,161.1 771.6,163.4 769.5,165.6 767.4,167.8 766.5,171.4 765.7,175.1 765.0,178.8 762.6,179.2 760.1,179.7 757.6,180.3 755.1,180.8 752.6,181.4 750.0,181.9 747.5,182.5 745.0,182.9 742.4,183.3 739.9,183.8 737.4,184.2 734.8,184.6 732.3,185.0 729.8,185.3 727.3,185.7 724.9,186.0Z"/>
<path fill="#b51214" d="M798.4,166.3 801.8,163.7 805.4,161.2 808.7,158.6 811.4,156.0 811.3,158.7 811.1,161.4 813.2,160.3 814.9,159.3 816.3,158.4 817.5,157.6 818.7,156.8 819.9,156.2 821.2,155.7 822.7,155.3 824.3,154.9 826.0,154.6 827.8,154.3 829.8,154.1 831.9,153.8 834.2,153.4 836.5,153.0 839.0,152.6 841.6,152.1 844.2,151.6 846.9,151.0 849.6,150.3 852.4,149.6 855.2,148.8 857.9,148.0 860.4,148.6 862.8,149.1 866.0,150.8 869.2,152.5 872.2,154.1 871.9,157.1 871.5,160.2 871.0,163.6 873.3,165.6 875.5,167.7 877.4,169.8 879.1,172.1 877.8,175.1 876.5,178.2 875.1,181.3 873.6,183.2 872.1,185.0 870.0,187.3 867.9,189.3 865.5,190.4 862.9,191.3 860.3,192.0 857.7,192.7 855.1,193.2 852.4,193.7 849.7,194.2 847.0,194.6 844.3,195.0 841.6,195.3 838.9,195.7 836.2,196.1 833.5,196.5 830.8,196.9 828.1,197.4 825.4,197.8 822.7,198.3 820.0,198.9 817.4,199.4 815.0,200.0 812.6,200.6 810.3,201.2 808.0,202.0 805.8,202.9 803.7,204.0 803.4,201.6 803.3,199.3 803.2,197.0 803.1,194.5 802.9,191.9 802.4,188.6 801.7,185.1 800.9,181.4 800.1,177.7 799.4,173.9 798.8,170.1Z"/>
<path fill="#b51214" d="M872.2,154.1 869.2,152.5 866.0,150.8 862.8,149.1 860.4,148.6 857.9,148.0 855.2,148.8 852.4,149.6 849.6,150.3 846.9,151.0 844.2,151.6 841.6,152.1 839.0,152.6 836.5,153.0 834.2,153.4 831.9,153.8 829.8,154.1 827.8,154.3 826.0,154.6 824.3,154.9 822.7,155.3 821.2,155.7 819.9,156.2 818.7,156.8 817.5,157.6 816.3,158.4 814.9,159.3 813.2,160.3 811.1,161.4 811.3,158.7 811.4,156.0 812.2,152.7 812.2,149.5 811.8,146.5 811.4,143.7 811.4,141.1 811.2,139.5 811.3,138.0 812.2,137.2 813.0,136.3 814.0,135.6 815.1,135.0 816.3,134.5 817.6,134.1 819.2,134.0 820.9,134.0 822.7,134.1 824.7,134.1 827.0,134.2 829.8,132.9 833.0,131.4 836.2,129.9 839.3,128.1 840.1,125.3 840.8,122.3 841.2,119.3 842.3,116.1 842.8,113.1 843.1,110.1 844.1,107.8 845.2,105.6 846.3,103.5 847.4,101.3 848.7,99.2 850.2,96.9 852.6,96.3 855.3,95.6 858.0,94.9 860.8,94.2 863.6,93.5 866.3,92.7 868.9,92.0 869.5,95.0 870.0,97.8 870.6,100.5 871.2,103.1 871.9,105.6 872.5,108.1 873.6,110.0 874.7,111.9 875.8,113.7 876.6,116.0 877.4,118.4 878.4,120.8 879.4,123.3 880.4,126.0 881.0,129.3 881.6,132.7 882.2,136.0 882.7,139.4 883.7,142.7 884.5,146.0 885.3,149.1 886.2,152.1 887.3,154.9 885.9,155.8 886.2,156.9 886.5,158.0 886.1,158.6 885.7,159.4 884.8,157.7 883.8,156.1 881.2,155.5 878.4,154.9 875.4,154.5Z"/>
<path fill="#b51214" d="M886.3,160.8 888.1,160.3 889.7,160.0 891.5,159.7 893.4,159.3 895.5,158.8 897.1,157.5 898.8,156.1 900.6,154.7 902.4,153.1 904.2,151.6 906.1,150.0 904.1,150.9 902.2,151.9 900.2,152.8 898.3,153.7 896.2,154.3 894.2,155.0 892.1,155.6 890.2,156.2 888.3,156.7 887.3,157.4 886.5,158.0 885.7,158.7Z"/>
<path fill="#b51214" d="M872.2,154.1 875.4,154.5 878.4,154.9 881.2,155.5 883.8,156.1 884.8,157.7 885.7,159.4 885.0,161.3 884.1,163.5 885.6,163.3 887.0,163.2 887.4,166.3 887.6,169.6 887.1,173.5 886.4,177.4 885.6,181.3 884.0,185.1 882.4,189.0 880.8,192.9 879.5,197.0 877.4,194.4 875.5,192.2 873.6,190.3 871.5,188.4 872.1,185.0 873.6,183.2 875.1,181.3 876.5,178.2 877.8,175.1 879.1,172.1 877.4,169.8 875.5,167.7 873.3,165.6 871.0,163.6 871.5,160.2 871.9,157.1Z"/>
<path fill="#b51214" d="M867.9,189.3 870.0,187.3 872.1,185.0 871.1,189.7 872.8,191.3 874.4,193.0 875.5,195.5 876.7,198.4 878.3,201.7 879.5,205.4 880.7,209.0 878.8,209.6 877.0,210.1 875.1,210.6 873.2,211.0 872.2,207.9 871.2,204.6 870.4,201.4 869.7,198.3 869.1,195.3 868.6,192.4Z"/>
<path fill="#b51214" d="M817.4,199.4 820.0,198.9 822.7,198.3 825.4,197.8 828.1,197.4 830.8,196.9 833.5,196.5 836.2,196.1 838.9,195.7 841.6,195.3 844.3,195.0 847.0,194.6 849.7,194.2 852.4,193.7 855.1,193.2 857.7,192.7 860.3,192.0 862.9,191.3 865.5,190.4 867.9,189.3 868.6,192.4 869.1,195.3 869.7,198.3 870.4,201.4 871.2,204.6 872.2,207.9 873.2,211.0 875.1,210.6 877.0,210.1 878.8,209.6 880.7,209.0 880.7,211.9 880.6,214.4 880.5,216.8 878.3,217.6 876.0,218.4 873.7,219.2 871.1,217.0 868.5,214.7 867.3,212.7 866.1,210.8 864.9,208.8 865.2,206.1 865.4,203.4 865.7,200.6 865.2,197.7 864.7,194.8 863.9,198.0 863.2,201.2 862.5,204.2 863.0,206.7 863.4,209.1 863.8,211.5 864.3,213.8 866.1,216.6 867.9,219.3 865.1,218.3 862.3,217.2 859.4,216.1 856.5,215.0 854.4,213.7 852.3,212.4 853.5,210.3 854.7,208.2 852.1,206.5 849.6,204.8 847.0,203.1 845.3,202.5 843.5,201.9 840.4,200.6 837.2,199.2 834.1,197.9 831.8,198.4 829.5,198.9 827.2,199.5 825.2,201.4 823.2,203.4 821.3,205.4 819.4,207.5 818.6,204.8 817.9,202.1Z"/>
<path fill="#ffffff" d="M882.7,139.4 884.9,138.6 887.0,137.8 889.1,137.0 891.3,136.3 893.5,135.7 895.8,135.1 898.1,134.7 900.4,134.2 902.8,133.8 903.7,136.9 904.6,139.8 905.3,142.6 906.1,145.3 903.9,146.2 901.8,147.0 899.7,147.8 897.5,148.6 895.4,149.4 893.2,150.2 891.2,151.8 889.3,153.2 887.5,154.6 885.9,155.8 887.3,154.9 886.2,152.1 885.3,149.1 884.5,146.0 883.7,142.7Z"/>
<path fill="#ffffff" d="M913.3,140.1 911.6,137.7 909.7,135.2 907.8,132.5 906.1,133.0 904.4,133.4 902.8,133.8 903.7,136.9 904.6,139.8 905.3,142.6 906.1,145.3 908.1,144.4 910.0,143.4 911.7,141.8Z"/>
<path fill="#b51214" d="M880.4,126.0 882.3,125.1 884.1,124.2 885.9,123.3 887.7,122.6 889.6,121.9 892.0,121.4 894.4,121.1 896.9,120.9 899.4,120.7 901.9,120.4 904.3,120.1 906.1,118.1 907.8,116.1 910.4,117.6 913.1,119.2 912.2,121.3 911.3,123.5 910.3,125.6 913.7,128.5 916.8,131.2 918.7,133.5 920.7,132.3 922.6,131.1 924.6,129.9 924.4,126.8 925.2,129.5 925.9,132.1 924.1,133.5 922.3,134.9 920.4,136.3 918.5,137.6 916.8,138.5 915.1,139.3 913.3,140.1 911.6,137.7 909.7,135.2 907.8,132.5 906.1,133.0 904.4,133.4 902.8,133.8 900.4,134.2 898.1,134.7 895.8,135.1 893.5,135.7 891.3,136.3 889.1,137.0 887.0,137.8 884.9,138.6 882.7,139.4 882.2,136.0 881.6,132.7 881.0,129.3Z"/>
<path fill="#b51214" d="M868.9,92.0 871.1,91.3 873.1,90.6 875.1,89.9 877.1,89.2 879.0,88.5 880.9,87.8 882.8,87.2 884.6,86.5 886.5,85.9 888.4,85.2 887.9,88.6 887.4,91.9 886.9,94.9 886.3,97.8 886.1,100.4 886.0,102.8 885.9,105.3 885.7,107.7 885.6,110.1 886.3,112.3 887.1,114.5 887.8,116.8 888.7,119.2 889.6,121.9 887.7,122.6 885.9,123.3 884.1,124.2 882.3,125.1 880.4,126.0 879.4,123.3 878.4,120.8 877.4,118.4 876.6,116.0 875.8,113.7 874.7,111.9 873.6,110.0 872.5,108.1 871.9,105.6 871.2,103.1 870.6,100.5 870.0,97.8 869.5,95.0Z"/>
<path fill="#ffffff" d="M888.4,85.2 889.4,82.8 890.4,80.2 891.4,77.4 892.5,81.3 893.6,84.8 894.7,87.9 895.7,90.8 896.8,93.6 897.9,96.2 899.1,98.9 900.3,101.5 902.2,104.0 904.3,106.7 906.6,109.6 908.9,112.6 908.3,114.3 907.8,116.1 906.1,118.1 904.3,120.1 901.9,120.4 899.4,120.7 896.9,120.9 894.4,121.1 892.0,121.4 889.6,121.9 888.7,119.2 887.8,116.8 887.1,114.5 886.3,112.3 885.6,110.1 885.7,107.7 885.9,105.3 886.0,102.8 886.1,100.4 886.3,97.8 886.9,94.9 887.4,91.9 887.9,88.6Z"/>
<path fill="#b51214" d="M891.4,77.4 892.7,75.3 894.0,73.1 894.7,67.6 895.4,61.8 896.2,56.0 897.0,50.4 897.2,46.1 897.4,42.0 897.8,38.3 898.4,35.2 901.3,33.3 904.5,32.6 907.6,32.3 910.2,31.9 911.6,33.1 912.8,34.2 913.8,35.3 914.7,36.5 915.6,37.5 916.5,39.4 917.5,41.1 918.9,42.8 920.0,44.9 921.5,47.0 923.3,49.2 925.1,51.4 926.9,53.7 928.4,56.0 930.9,57.4 933.1,58.3 934.6,59.5 936.0,60.7 937.5,62.0 939.1,63.5 937.9,65.8 936.7,68.4 935.5,71.2 934.0,73.2 932.6,75.2 931.1,77.2 929.6,79.3 927.7,81.5 925.8,83.7 923.9,85.9 921.9,87.9 920.0,90.4 918.0,92.7 916.1,95.0 914.1,97.2 912.8,98.5 911.5,99.8 910.3,101.1 909.7,104.9 909.3,108.7 908.9,112.6 906.6,109.6 904.3,106.7 902.2,104.0 900.3,101.5 899.1,98.9 897.9,96.2 896.8,93.6 895.7,90.8 894.7,87.9 893.6,84.8 892.5,81.3Z"/></g>
<g><path clip-path="url(#land)" fill="#b51214" d="M320.0,54.6 324.4,54.3 325.6,56.9 324.8,59.4 327.8,62.8 329.6,65.4 329.3,67.6 332.6,69.8 336.3,70.6 334.8,73.1 333.0,75.7 329.3,74.3 326.3,73.5 325.2,70.6 322.2,72.4 319.6,74.3 316.7,74.6 316.3,69.4 315.9,66.5 316.7,61.3 319.6,60.9 319.6,58.0Z"/><path clip-path="url(#c4)" fill="#e19a17" d="M310.0,110.8 320.0,109.7 330.8,113.3 334.2,109.2 340.0,104.0 350.0,98.0 356.0,98.0 358.3,111.7 357.5,120.0 366.7,121.7 376.7,125.0 378.3,130.0 373.3,134.2 370.0,139.2 374.2,145.0 390.0,147.0 398.3,140.8 420.0,138.0 420.0,195.0 300.0,195.0 313.3,163.3 312.5,158.3 310.0,152.5 308.3,145.0 312.5,138.3 314.2,128.3 311.7,120.0Z"/><path clip-path="url(#land)" fill="#fdd21f" d="M326.7,219.2 329.2,217.5 335.0,218.3 342.5,220.8 350.0,223.3 355.0,228.3 359.2,231.7 367.5,232.5 370.0,235.0 369.2,238.5 380.0,237.5 390.0,245.0 396.2,247.5 405.0,250.0 408.8,261.2 401.2,267.5 390.0,267.5 383.9,268.3 384.4,274.4 382.2,276.7 383.3,282.2 377.8,283.3 375.6,288.3 372.8,291.7 376.7,297.8 371.1,302.2 365.6,298.9 363.3,303.3 356.7,304.4 348.3,305.5 343.0,307.0 333.0,309.5 323.0,309.0 326.7,315.0 330.0,320.0 329.0,334.0 300.0,334.0 292.0,305.0 296.0,300.0 301.7,301.7 307.0,300.0 308.9,295.4 311.7,291.2 319.1,289.8 320.0,280.6 317.2,273.1 313.5,264.8 316.3,257.4 319.2,253.3 314.2,243.3 310.8,237.5 312.5,234.2 317.5,231.7 325.0,228.3Z"/><path clip-path="url(#land)" fill="#e19a17" d="M323.3,309.2 333.3,310.8 345.0,306.7 348.3,308.3 355.0,309.2 349.2,317.5 345.0,321.7 330.0,320.0 326.7,315.0Z"/><path clip-path="url(#land)" fill="#a9bc15" d="M329.0,322.0 331.0,319.0 345.0,320.5 352.5,320.0 360.0,322.5 363.3,326.7 361.7,335.0 362.5,348.0 350.0,352.0 335.0,340.0 328.0,336.0Z"/><path clip-path="url(#c1)" fill="#a9bc15" d="M412.5,315.0 418.3,310.8 426.7,309.2 435.0,309.0 435.0,325.0 425.8,325.0 416.7,325.0 413.3,320.8Z"/><path clip-path="url(#c1)" fill="#a9bc15" d="M405.8,358.3 410.8,356.7 420.0,355.8 430.0,356.0 430.0,375.0 403.0,372.0 405.0,365.0Z"/><path clip-path="url(#c5)" fill="#e19a17" d="M500.0,156.7 506.1,156.7 511.0,155.3 515.8,153.9 522.8,152.5 529.0,153.9 531.1,159.4 528.3,165.0 531.8,170.6 530.4,175.4 531.0,180.0 500.0,180.0Z"/><path clip-path="url(#c3)" fill="#e19a17" d="M500.0,205.3 504.0,205.3 513.0,201.8 521.4,196.2 527.6,195.6 532.5,198.3 535.3,205.3 534.6,210.8 535.0,215.0 500.0,215.0Z"/><path clip-path="url(#land)" fill="#b51214" d="M560.7,72.0 576.6,72.0 578.2,80.4 577.9,84.3 577.3,87.5 578.9,92.1 577.9,96.0 574.7,97.3 570.8,98.6 566.2,99.9 562.3,96.0 561.4,90.8 563.0,86.9 560.7,83.0Z"/><path clip-path="url(#c6)" fill="#b51214" d="M510.4,362.4 511.8,356.8 516.7,356.1 522.2,355.4 527.8,353.3 531.9,350.6 534.7,351.9 536.1,363.1 533.3,368.6 528.5,371.4 526.4,376.9 519.4,379.0 522.9,381.1 525.0,383.9 519.4,386.7 516.7,390.8 515.3,395.0 516.7,400.6 507.0,420.0 478.0,392.0 481.9,382.5 486.8,372.1 488.9,369.3 493.0,369.3 496.5,371.4 497.2,364.4 508.3,363.0Z"/><path clip-path="url(#land)" fill="#b51214" d="M573.8,351.8 588.3,351.1 589.0,353.9 584.9,355.3 588.3,358.1 596.7,357.4 604.3,362.9 605.0,371.9 599.4,376.8 594.6,376.8 591.1,371.9 584.9,368.5 578.6,364.3 571.7,365.7 568.2,360.8 572.4,356.7Z"/><path clip-path="url(#land)" fill="#b51214" d="M617.5,346.2 623.0,349.0 623.8,353.9 621.7,356.7 623.0,360.8 627.9,364.3 626.5,366.4 621.7,367.1 618.2,362.9 614.0,360.1 611.2,356.7 613.3,351.1Z"/><path clip-path="url(#c6)" fill="#b51214" d="M635.6,383.0 640.4,381.7 643.9,385.1 644.6,391.4 641.1,396.2 638.3,396.9 636.2,392.8 634.9,387.2Z"/><path clip-path="url(#land)" fill="#b51214" d="M568.2,393.5 575.1,392.8 578.6,394.9 579.3,402.5 577.2,408.1 571.7,408.8 564.0,405.3 561.2,401.1 562.0,397.0Z"/><path clip-path="url(#c0)" fill="#b51214" d="M628.0,304.2 641.7,305.0 642.1,310.0 640.4,315.0 642.1,320.8 641.2,324.2 636.7,324.6 628.0,321.7Z"/><path clip-path="url(#c2)" fill="#b51214" d="M660.0,213.0 666.1,213.2 670.3,215.3 677.9,213.2 686.9,212.5 693.9,216.0 702.2,218.0 710.6,217.4 720.0,218.0 730.0,300.0 650.0,300.0Z"/><path clip-path="url(#c2)" fill="#a9bc15" d="M678.6,237.5 684.2,233.3 685.6,229.9 691.8,229.2 695.3,231.2 692.5,234.0 689.0,236.8 690.4,245.8 693.2,254.9 692.5,258.0 670.0,260.0 670.0,237.0Z"/><path clip-path="url(#c7)" fill="#a9bc15" d="M844.4,203.9 847.2,202.2 851.7,205.0 853.3,206.1 851.7,210.6 849.4,212.8 845.6,212.2 843.9,208.3Z"/><path clip-path="url(#c8)" fill="#a9bc15" d="M818.3,238.9 822.8,237.8 826.7,241.7 827.8,246.7 825.6,251.7 820.6,253.3 815.6,251.1 814.4,245.6 816.1,241.7Z"/></g>
<path fill="none" stroke="#000" stroke-opacity="0.72" stroke-width="1" stroke-linejoin="round" d="M303.8,40.7 304.3,43.0 304.7,45.3 304.3,47.8 304.0,50.4 303.6,52.9 303.4,56.3 303.3,59.8 301.9,62.5 300.5,65.2 299.3,67.5 298.0,69.8 296.0,70.6 294.0,71.4 295.7,69.2 297.4,67.1 298.8,63.9 300.1,60.7 300.1,57.9 300.1,55.1 298.2,54.6 296.3,54.1 294.5,53.6 292.6,53.1 290.6,52.1 288.6,51.1 286.7,50.1 285.0,48.8 283.3,47.5 281.6,46.2 279.9,45.0 279.3,48.1 278.7,51.3 279.0,54.5 279.3,57.6 279.6,60.8 279.9,64.0 279.4,67.4 278.9,70.8 278.3,73.2 277.6,75.7 277.0,78.2 276.4,80.6 277.2,81.7 279.1,82.6 281.1,83.4 283.0,84.3 284.7,85.3 286.4,86.4 288.0,87.4 287.8,90.0 287.6,92.6 287.4,95.2 289.0,96.2 290.5,97.3 292.1,98.3 294.2,98.6 296.4,98.8 298.5,99.1 300.7,99.4 302.8,99.6 305.0,99.9 307.0,100.2 309.0,100.5 311.1,100.8 313.1,101.1 315.3,100.8 317.6,100.6 319.8,100.4 322.0,100.2 324.2,99.9 326.1,100.0 327.9,100.1 329.8,100.2 331.6,100.2 333.8,100.7 335.9,101.2 338.0,101.7 340.2,102.2 342.3,102.7 344.5,103.2 346.6,103.7 348.8,104.1 351.0,104.6 353.1,105.1 355.3,105.5 355.3,103.1 355.4,100.6 355.4,98.2 356.1,94.8 356.9,91.5 357.6,88.1 358.3,84.8 359.0,81.5 359.8,78.1 360.5,74.8 361.2,71.5 362.0,68.2 362.7,64.9 363.4,61.6 364.2,58.3 364.9,55.0 362.7,54.5 360.6,54.0 358.4,53.6 356.3,53.1 354.1,52.6 352.0,52.2 349.8,51.7 347.7,51.2 345.6,50.7 343.5,50.3 341.4,49.8 339.2,49.3 337.1,48.8 335.0,48.4 332.9,47.9 330.8,47.4 328.7,46.9 326.7,46.4 324.6,45.9 322.5,45.4 320.4,44.9 318.3,44.4 316.2,43.9 314.2,43.4 312.1,42.8 310.0,42.3 308.0,41.8 305.9,41.3Z M277.2,81.7 276.2,84.8 275.3,87.8 274.3,90.9 273.4,93.9 272.2,96.8 271.1,99.6 270.0,102.5 268.8,105.4 267.7,108.2 266.7,110.8 265.6,113.3 264.6,115.8 263.6,118.4 262.6,120.9 260.7,123.9 258.8,126.9 256.9,129.6 254.9,132.3 252.9,135.1 252.7,138.2 252.4,141.3 252.2,144.4 252.6,147.2 253.0,150.0 255.3,150.7 257.6,151.4 259.8,152.0 262.1,152.7 264.4,153.4 266.7,154.0 269.0,154.7 271.3,155.3 273.6,156.0 275.9,156.6 278.2,157.3 280.5,157.9 282.8,158.6 285.2,159.2 287.5,159.8 289.8,160.4 292.1,161.1 294.5,161.7 296.8,162.3 299.1,162.9 301.5,163.5 303.8,164.1 306.2,164.7 308.6,165.3 311.1,165.9 313.5,166.5 315.9,167.1 318.4,167.7 320.8,168.3 323.3,168.9 325.7,169.5 328.1,170.0 330.6,170.6 333.0,171.2 335.5,171.7 337.9,172.3 340.4,172.8 341.0,169.4 341.7,166.1 342.3,162.7 343.0,159.3 343.6,156.0 344.3,152.6 344.9,149.2 345.6,145.8 346.3,142.4 348.0,140.2 347.0,136.9 346.0,133.6 346.6,131.9 347.3,130.3 349.5,127.5 351.7,124.8 353.9,122.0 355.2,119.6 356.5,117.3 357.8,114.9 357.0,111.8 356.1,108.7 355.3,105.5 353.1,105.1 351.0,104.6 348.8,104.1 346.6,103.7 344.5,103.2 342.3,102.7 340.2,102.2 338.0,101.7 335.9,101.2 333.8,100.7 331.6,100.2 329.8,100.2 327.9,100.1 326.1,100.0 324.2,99.9 322.0,100.2 319.8,100.4 317.6,100.6 315.3,100.8 313.1,101.1 311.1,100.8 309.0,100.5 307.0,100.2 305.0,99.9 302.8,99.6 300.7,99.4 298.5,99.1 296.4,98.8 294.2,98.6 292.1,98.3 290.5,97.3 289.0,96.2 287.4,95.2 287.6,92.6 287.8,90.0 288.0,87.4 286.4,86.4 284.7,85.3 283.0,84.3 281.1,83.4 279.1,82.6Z M309.5,330.0 309.1,327.1 308.6,324.2 307.6,320.8 306.5,317.3 305.5,313.9 303.5,311.5 301.6,309.0 299.7,306.5 297.7,305.7 295.7,304.8 295.4,302.7 295.1,300.6 292.8,299.6 290.5,298.6 288.2,297.5 285.9,296.4 283.9,294.5 281.9,292.6 279.9,290.7 277.3,289.8 274.7,289.0 272.1,288.1 269.5,287.2 269.3,284.6 269.0,281.9 268.7,279.2 268.6,276.5 268.5,273.9 268.4,271.2 268.3,268.6 266.6,266.0 264.9,263.3 263.2,260.7 261.5,258.1 260.7,255.3 260.0,252.4 259.3,249.6 258.5,246.8 258.6,243.7 258.6,240.7 257.2,237.1 255.7,233.4 254.3,229.8 254.9,227.4 255.6,224.9 253.7,223.2 251.8,221.5 250.0,219.8 248.9,216.3 247.9,212.9 246.9,209.4 245.9,206.0 245.0,202.5 245.5,199.5 246.1,196.5 246.6,193.4 247.2,190.4 247.7,187.4 246.6,184.2 245.5,181.1 244.4,177.9 243.3,174.8 245.4,172.1 247.5,169.4 249.6,166.7 250.2,163.4 250.9,160.0 251.6,156.7 252.3,153.3 253.0,150.0 255.3,150.7 257.6,151.4 259.8,152.0 262.1,152.7 264.4,153.4 266.7,154.0 269.0,154.7 271.3,155.3 273.6,156.0 275.9,156.6 278.2,157.3 280.5,157.9 282.8,158.6 285.2,159.2 287.5,159.8 289.8,160.4 292.1,161.1 294.5,161.7 296.8,162.3 299.1,162.9 301.5,163.5 303.8,164.1 303.0,167.4 302.3,170.7 301.5,174.1 300.7,177.4 300.0,180.7 299.2,184.0 298.5,187.3 297.7,190.6 297.0,193.9 296.2,197.2 295.5,200.5 294.7,203.8 294.0,207.1 293.2,210.4 292.5,213.8 294.5,216.9 296.6,220.0 298.7,223.1 300.8,226.2 302.9,229.2 305.0,232.3 307.2,235.4 309.3,238.5 311.5,241.6 313.7,244.6 315.9,247.7 318.0,250.7 320.2,253.8 322.4,256.8 324.6,259.8 326.8,262.8 329.1,265.8 331.3,268.8 333.5,271.7 335.6,274.7 337.8,277.6 340.0,280.5 342.2,283.4 344.4,286.3 346.6,289.2 348.8,292.1 351.0,295.0 352.2,298.2 353.4,301.5 354.7,304.7 355.9,308.0 353.7,311.1 351.4,314.2 349.2,317.2 348.6,320.2 348.0,323.2 347.5,326.2 346.9,329.1 345.3,331.3 343.6,333.4 340.9,333.2 338.3,332.9 335.7,332.7 333.1,332.4 330.4,332.2 327.8,331.9 325.2,331.7 322.6,331.4 320.0,331.1 317.4,330.9 314.7,330.6 312.1,330.3Z M303.8,164.1 306.2,164.7 308.6,165.3 311.1,165.9 313.5,166.5 315.9,167.1 318.4,167.7 320.8,168.3 323.3,168.9 325.7,169.5 328.1,170.0 330.6,170.6 333.0,171.2 335.5,171.7 337.9,172.3 340.4,172.8 342.9,173.3 345.3,173.9 347.8,174.4 350.3,174.9 352.7,175.4 355.2,175.9 357.7,176.4 360.2,176.9 362.6,177.4 365.1,177.8 367.6,178.3 370.1,178.7 372.5,179.2 375.0,179.6 377.5,180.0 377.0,183.4 376.5,186.7 376.0,190.1 375.6,193.5 375.1,196.8 374.6,200.2 374.2,203.6 373.8,207.0 373.3,210.4 372.9,213.8 372.5,217.2 372.0,220.6 371.6,224.0 371.2,227.4 370.8,230.8 370.3,234.2 369.9,237.6 369.5,241.0 369.0,244.4 368.6,247.8 368.1,251.2 367.6,254.5 367.1,257.9 366.6,261.2 366.0,264.5 365.4,267.7 364.7,270.9 364.0,274.1 363.3,277.3 360.8,277.6 358.2,277.9 355.7,278.1 353.2,278.4 352.6,280.6 352.0,282.8 351.5,285.0 351.3,287.5 351.2,290.0 351.1,292.5 351.0,295.0 348.8,292.1 346.6,289.2 344.4,286.3 342.2,283.4 340.0,280.5 337.8,277.6 335.6,274.7 333.5,271.7 331.3,268.8 329.1,265.8 326.8,262.8 324.6,259.8 322.4,256.8 320.2,253.8 318.0,250.7 315.9,247.7 313.7,244.6 311.5,241.6 309.3,238.5 307.2,235.4 305.0,232.3 302.9,229.2 300.8,226.2 298.7,223.1 296.6,220.0 294.5,216.9 292.5,213.8 293.2,210.4 294.0,207.1 294.7,203.8 295.5,200.5 296.2,197.2 297.0,193.9 297.7,190.6 298.5,187.3 299.2,184.0 300.0,180.7 300.7,177.4 301.5,174.1 302.3,170.7 303.0,167.4Z M364.9,55.0 367.1,55.5 369.3,56.0 371.5,56.5 373.8,57.0 376.0,57.5 375.4,60.3 374.8,63.1 374.1,65.9 373.5,68.7 372.9,71.6 372.3,74.4 372.9,77.9 373.6,81.4 374.2,84.9 375.6,86.1 376.9,87.2 378.3,88.3 379.8,91.8 381.3,95.3 382.8,98.8 384.4,100.0 386.0,101.1 385.1,103.6 384.2,106.0 383.2,108.5 382.3,110.9 382.6,113.6 383.0,116.3 383.3,119.0 385.3,119.1 387.3,119.1 389.3,119.2 390.1,122.6 390.9,126.0 391.7,129.4 392.5,132.8 393.9,135.4 395.4,137.9 396.8,140.5 398.0,141.1 399.1,141.7 401.6,141.6 404.1,141.6 406.3,141.6 408.6,141.5 410.8,141.5 413.0,141.5 415.3,141.5 417.0,142.1 418.8,142.8 420.6,143.4 420.1,146.6 419.7,149.9 419.3,153.1 418.8,156.3 418.4,159.6 418.0,162.8 417.5,166.0 417.1,169.2 416.7,172.5 416.3,175.7 415.9,178.9 415.4,182.1 415.0,185.3 412.5,184.9 410.0,184.6 407.5,184.2 405.0,183.9 402.5,183.5 400.0,183.2 397.5,182.9 395.0,182.5 392.5,182.2 390.0,181.8 387.5,181.5 385.0,181.1 382.5,180.8 380.0,180.4 377.5,180.0 375.0,179.6 372.5,179.2 370.1,178.7 367.6,178.3 365.1,177.8 362.6,177.4 360.2,176.9 357.7,176.4 355.2,175.9 352.7,175.4 350.3,174.9 347.8,174.4 345.3,173.9 342.9,173.3 340.4,172.8 341.0,169.4 341.7,166.1 342.3,162.7 343.0,159.3 343.6,156.0 344.3,152.6 344.9,149.2 345.6,145.8 346.3,142.4 348.0,140.2 347.0,136.9 346.0,133.6 346.6,131.9 347.3,130.3 349.5,127.5 351.7,124.8 353.9,122.0 355.2,119.6 356.5,117.3 357.8,114.9 357.0,111.8 356.1,108.7 355.3,105.5 355.3,103.1 355.4,100.6 355.4,98.2 356.1,94.8 356.9,91.5 357.6,88.1 358.3,84.8 359.0,81.5 359.8,78.1 360.5,74.8 361.2,71.5 362.0,68.2 362.7,64.9 363.4,61.6 364.2,58.3Z M376.0,57.5 378.2,58.0 380.4,58.4 382.7,58.9 384.9,59.3 387.1,59.8 389.3,60.2 391.5,60.7 393.8,61.1 396.0,61.5 398.2,61.9 400.4,62.3 402.6,62.7 404.9,63.1 407.1,63.5 409.3,63.8 411.5,64.2 413.7,64.6 416.0,64.9 418.2,65.3 420.4,65.6 422.6,66.0 424.9,66.3 427.1,66.7 429.3,67.0 431.5,67.3 433.8,67.6 436.0,67.9 438.2,68.2 440.4,68.5 442.7,68.8 444.9,69.1 447.1,69.4 449.3,69.7 451.6,69.9 453.8,70.2 456.0,70.4 458.3,70.7 460.5,70.9 462.7,71.2 464.9,71.4 467.2,71.6 469.4,71.9 471.6,72.1 473.9,72.3 476.1,72.5 478.3,72.7 480.5,72.9 482.8,73.1 485.0,73.3 487.2,73.5 489.5,73.7 491.7,73.8 493.9,74.0 496.1,74.2 498.4,74.3 500.6,74.5 502.8,74.6 505.0,74.7 507.3,74.9 509.5,75.0 509.3,78.2 509.1,81.3 508.9,84.5 508.7,87.7 508.6,90.9 508.4,94.0 508.2,97.2 508.1,100.4 507.9,103.6 507.8,106.8 507.7,109.9 507.5,113.1 507.4,116.3 507.3,119.6 507.1,122.8 507.0,126.0 506.9,129.2 506.7,132.4 506.6,135.6 506.5,138.8 506.4,142.1 504.0,141.9 501.6,141.8 499.2,141.7 496.8,141.6 494.4,141.4 492.0,141.3 489.6,141.1 487.2,141.0 484.8,140.8 482.4,140.7 480.0,140.5 477.6,140.3 475.1,140.2 472.7,140.0 470.3,139.8 467.9,139.6 465.5,139.4 463.0,139.2 460.6,138.9 458.2,138.7 455.7,138.5 453.3,138.3 450.9,138.0 448.5,137.8 446.0,137.5 443.6,137.2 441.2,137.0 438.8,136.7 436.3,136.4 433.9,136.1 431.5,135.8 429.1,135.5 426.6,135.2 424.2,134.9 421.8,134.6 421.4,137.5 421.0,140.5 420.6,143.4 418.8,142.8 417.0,142.1 415.3,141.5 413.0,141.5 410.8,141.5 408.6,141.5 406.3,141.6 404.1,141.6 401.6,141.6 399.1,141.7 398.0,141.1 396.8,140.5 395.4,137.9 393.9,135.4 392.5,132.8 391.7,129.4 390.9,126.0 390.1,122.6 389.3,119.2 387.3,119.1 385.3,119.1 383.3,119.0 383.0,116.3 382.6,113.6 382.3,110.9 383.2,108.5 384.2,106.0 385.1,103.6 386.0,101.1 384.4,100.0 382.8,98.8 381.3,95.3 379.8,91.8 378.3,88.3 376.9,87.2 375.6,86.1 374.2,84.9 373.6,81.4 372.9,77.9 372.3,74.4 372.9,71.6 373.5,68.7 374.1,65.9 374.8,63.1 375.4,60.3Z M420.6,143.4 421.0,140.5 421.4,137.5 421.8,134.6 424.2,134.9 426.6,135.2 429.1,135.5 431.5,135.8 433.9,136.1 436.3,136.4 438.8,136.7 441.2,137.0 443.6,137.2 446.0,137.5 448.5,137.8 450.9,138.0 453.3,138.3 455.7,138.5 458.2,138.7 460.6,138.9 463.0,139.2 465.5,139.4 467.9,139.6 470.3,139.8 472.7,140.0 475.1,140.2 477.6,140.3 480.0,140.5 482.4,140.7 484.8,140.8 487.2,141.0 489.6,141.1 492.0,141.3 494.4,141.4 496.8,141.6 499.2,141.7 501.6,141.8 504.0,141.9 506.4,142.1 506.2,145.5 506.1,148.9 506.0,152.4 505.8,155.8 505.7,159.2 505.6,162.7 505.4,166.1 505.3,169.5 505.2,172.9 505.0,176.2 504.8,179.6 504.6,182.9 504.4,186.2 504.2,189.5 504.0,192.9 503.8,196.2 503.6,199.5 503.4,202.8 503.2,206.1 503.0,209.5 500.5,209.4 497.9,209.3 495.4,209.2 492.9,209.1 490.3,209.0 487.8,208.9 485.2,208.8 482.6,208.7 480.1,208.6 477.5,208.5 474.9,208.4 472.3,208.3 469.8,208.2 467.2,208.1 464.6,208.0 462.0,207.8 459.4,207.7 456.9,207.5 454.3,207.4 451.7,207.2 449.1,207.0 446.5,206.8 443.9,206.5 441.3,206.3 438.8,206.0 436.2,205.6 433.6,205.3 431.0,204.9 428.4,204.5 425.8,204.1 423.3,203.7 420.7,203.2 418.1,202.8 415.6,202.4 413.0,202.0 413.4,198.6 413.8,195.3 414.2,192.0 414.6,188.6 415.0,185.3 415.4,182.1 415.9,178.9 416.3,175.7 416.7,172.5 417.1,169.2 417.5,166.0 418.0,162.8 418.4,159.6 418.8,156.3 419.3,153.1 419.7,149.9 420.1,146.6Z M377.5,180.0 380.0,180.4 382.5,180.8 385.0,181.1 387.5,181.5 390.0,181.8 392.5,182.2 395.0,182.5 397.5,182.9 400.0,183.2 402.5,183.5 405.0,183.9 407.5,184.2 410.0,184.6 412.5,184.9 415.0,185.3 414.6,188.6 414.2,192.0 413.8,195.3 413.4,198.6 413.0,202.0 415.6,202.4 418.1,202.8 420.7,203.2 423.3,203.7 425.8,204.1 428.4,204.5 431.0,204.9 433.6,205.3 436.2,205.6 438.8,206.0 438.4,209.4 438.1,212.7 437.7,216.1 437.4,219.4 437.1,222.8 436.8,226.1 436.4,229.5 436.1,232.8 435.8,236.2 435.5,239.5 435.1,242.9 434.8,246.3 434.5,249.6 434.1,253.0 433.8,256.3 433.4,259.7 433.1,263.0 432.7,266.3 432.4,269.7 432.0,273.0 429.3,272.8 426.7,272.5 424.0,272.3 421.4,272.0 418.7,271.7 416.1,271.4 413.5,271.2 410.8,270.9 408.2,270.6 405.5,270.2 402.9,269.9 400.3,269.6 397.6,269.2 395.0,268.9 392.4,268.5 389.8,268.2 387.1,267.8 384.5,267.4 381.9,267.0 379.2,266.6 376.6,266.2 374.0,265.8 371.3,265.4 368.7,265.0 366.0,264.5 366.6,261.2 367.1,257.9 367.6,254.5 368.1,251.2 368.6,247.8 369.0,244.4 369.5,241.0 369.9,237.6 370.3,234.2 370.8,230.8 371.2,227.4 371.6,224.0 372.0,220.6 372.5,217.2 372.9,213.8 373.3,210.4 373.8,207.0 374.2,203.6 374.6,200.2 375.1,196.8 375.6,193.5 376.0,190.1 376.5,186.7 377.0,183.4Z M438.8,206.0 441.3,206.3 443.9,206.5 446.5,206.8 449.1,207.0 451.7,207.2 454.3,207.4 456.9,207.5 459.4,207.7 462.0,207.8 464.6,208.0 467.2,208.1 469.8,208.2 472.3,208.3 474.9,208.4 477.5,208.5 480.1,208.6 482.6,208.7 485.2,208.8 487.8,208.9 490.3,209.0 492.9,209.1 495.4,209.2 497.9,209.3 500.5,209.4 503.0,209.5 505.5,209.7 508.0,209.9 510.5,210.1 513.0,210.3 515.5,210.5 518.0,210.6 520.5,210.8 523.0,211.0 525.5,211.1 528.0,211.3 527.9,214.8 527.8,218.3 527.7,221.8 527.6,225.3 527.5,228.7 527.4,232.1 527.3,235.5 527.2,238.8 527.1,242.1 527.0,245.4 526.9,248.6 526.8,251.9 526.7,255.1 526.6,258.4 526.5,261.6 526.4,264.9 526.3,268.2 526.2,271.4 526.1,274.7 526.0,278.0 523.4,277.9 520.8,277.8 518.2,277.7 515.7,277.6 513.1,277.5 510.5,277.4 507.8,277.2 505.2,277.1 502.6,277.0 500.0,276.9 497.3,276.8 494.7,276.7 492.1,276.5 489.5,276.4 486.9,276.3 484.2,276.2 481.6,276.0 479.0,275.9 476.4,275.8 473.8,275.6 471.1,275.5 468.5,275.4 465.9,275.2 463.3,275.1 460.7,274.9 458.1,274.8 455.4,274.6 452.8,274.5 450.2,274.3 447.6,274.1 445.0,274.0 442.4,273.8 439.8,273.6 437.2,273.4 434.6,273.2 432.0,273.0 432.4,269.7 432.7,266.3 433.1,263.0 433.4,259.7 433.8,256.3 434.1,253.0 434.5,249.6 434.8,246.3 435.1,242.9 435.5,239.5 435.8,236.2 436.1,232.8 436.4,229.5 436.8,226.1 437.1,222.8 437.4,219.4 437.7,216.1 438.1,212.7 438.4,209.4Z M366.0,264.5 368.7,265.0 371.3,265.4 374.0,265.8 376.6,266.2 379.2,266.6 381.9,267.0 384.5,267.4 387.1,267.8 389.8,268.2 392.4,268.5 395.0,268.9 397.6,269.2 400.3,269.6 402.9,269.9 405.5,270.2 408.2,270.6 410.8,270.9 413.5,271.2 416.1,271.4 418.7,271.7 421.4,272.0 424.0,272.3 426.7,272.5 429.3,272.8 432.0,273.0 431.6,276.2 431.3,279.5 430.9,282.7 430.6,285.9 430.2,289.1 429.8,292.4 429.5,295.6 429.1,298.8 428.7,302.1 428.4,305.3 428.0,308.5 427.6,311.8 427.3,315.0 426.9,318.3 426.6,321.6 426.2,324.9 425.9,328.2 425.5,331.5 425.2,334.8 424.8,338.2 424.5,341.5 424.2,344.9 423.9,348.3 423.6,351.7 423.2,355.1 422.9,358.5 422.6,361.9 422.3,365.3 422.0,368.7 419.3,368.6 416.7,368.5 414.0,368.3 411.4,368.0 408.7,367.8 406.1,367.5 403.4,367.3 400.7,367.0 398.1,366.6 395.4,366.3 392.7,366.0 390.0,364.5 387.3,363.1 384.5,361.7 381.8,360.2 379.1,358.7 376.4,357.2 373.7,355.7 371.0,354.2 368.3,352.7 365.6,351.2 362.9,349.6 360.2,348.1 357.6,346.5 354.9,345.0 352.2,343.4 349.6,341.8 347.0,340.3 344.3,338.7 341.7,337.1 342.6,335.3 343.6,333.4 345.3,331.3 346.9,329.1 347.5,326.2 348.0,323.2 348.6,320.2 349.2,317.2 351.4,314.2 353.7,311.1 355.9,308.0 354.7,304.7 353.4,301.5 352.2,298.2 351.0,295.0 351.1,292.5 351.2,290.0 351.3,287.5 351.5,285.0 352.0,282.8 352.6,280.6 353.2,278.4 355.7,278.1 358.2,277.9 360.8,277.6 363.3,277.3 364.0,274.1 364.7,270.9 365.4,267.7Z M432.0,273.0 434.6,273.2 437.2,273.4 439.8,273.6 442.4,273.8 445.0,274.0 447.6,274.1 450.2,274.3 452.8,274.5 455.4,274.6 458.1,274.8 460.7,274.9 463.3,275.1 465.9,275.2 468.5,275.4 471.1,275.5 473.8,275.6 476.4,275.8 479.0,275.9 481.6,276.0 484.2,276.2 486.9,276.3 489.5,276.4 492.1,276.5 494.7,276.7 497.3,276.8 500.0,276.9 502.6,277.0 505.2,277.1 507.8,277.2 510.5,277.4 513.1,277.5 513.0,280.2 512.9,283.0 512.8,285.8 512.7,289.1 512.6,292.4 512.4,295.7 512.3,299.0 512.2,302.3 512.1,305.6 512.0,309.0 511.9,312.3 511.8,315.6 511.7,318.9 511.6,322.3 511.5,325.6 511.5,329.0 511.4,332.3 511.3,335.7 511.2,339.0 511.1,342.4 511.0,345.7 510.9,349.1 510.8,352.4 510.7,355.8 510.6,359.2 510.5,362.5 507.6,362.2 504.6,361.9 501.7,361.6 498.8,361.2 495.8,360.9 492.9,360.5 489.9,360.2 487.0,359.8 484.0,359.5 481.1,359.1 478.1,358.8 475.2,358.4 472.3,358.1 469.3,357.8 466.4,357.6 463.5,357.3 460.6,357.2 457.7,357.0 458.2,358.9 458.8,360.8 456.1,360.7 453.4,360.7 450.7,360.7 448.0,360.7 445.3,360.8 442.7,360.8 440.0,360.9 437.4,360.9 434.7,361.0 434.5,363.6 434.3,366.2 434.0,368.7 431.6,368.8 429.2,368.8 426.8,368.8 424.4,368.8 422.0,368.7 422.3,365.3 422.6,361.9 422.9,358.5 423.2,355.1 423.6,351.7 423.9,348.3 424.2,344.9 424.5,341.5 424.8,338.2 425.2,334.8 425.5,331.5 425.9,328.2 426.2,324.9 426.6,321.6 426.9,318.3 427.3,315.0 427.6,311.8 428.0,308.5 428.4,305.3 428.7,302.1 429.1,298.8 429.5,295.6 429.8,292.4 430.2,289.1 430.6,285.9 430.9,282.7 431.3,279.5 431.6,276.2Z M458.8,360.8 458.2,358.9 457.7,357.0 460.6,357.2 463.5,357.3 466.4,357.6 469.3,357.8 472.3,358.1 475.2,358.4 478.1,358.8 481.1,359.1 484.0,359.5 487.0,359.8 489.9,360.2 492.9,360.5 495.8,360.9 498.8,361.2 501.7,361.6 504.6,361.9 507.6,362.2 510.5,362.5 510.6,359.2 510.7,355.8 510.8,352.4 510.9,349.1 511.0,345.7 511.1,342.4 511.2,339.0 511.3,335.7 511.4,332.3 511.5,329.0 511.5,325.6 511.6,322.3 511.7,318.9 511.8,315.6 511.9,312.3 512.0,309.0 512.1,305.6 512.2,302.3 512.3,299.0 512.4,295.7 512.6,292.4 512.7,289.1 512.8,285.8 515.5,285.9 518.2,286.1 520.9,286.2 523.7,286.3 526.4,286.4 529.1,286.6 531.8,286.7 534.6,286.9 537.3,287.0 540.0,287.2 542.7,287.3 545.5,287.4 548.2,287.5 550.9,287.7 553.6,287.8 553.7,291.1 553.7,294.4 553.7,297.7 553.8,301.0 553.8,304.3 553.8,307.7 553.9,311.0 553.9,314.3 554.0,317.6 554.0,320.9 556.8,321.7 559.7,322.5 562.5,323.2 565.3,324.0 567.4,325.1 569.5,326.1 571.7,327.2 573.8,328.3 576.1,329.3 578.4,330.4 580.8,331.4 583.1,332.4 585.7,333.0 588.4,333.6 591.1,334.2 593.8,334.7 595.9,334.2 598.0,333.7 600.1,333.2 602.2,332.7 605.0,332.5 607.8,332.4 610.6,332.2 613.5,332.0 616.3,331.2 619.0,330.4 621.8,329.6 624.5,330.7 627.1,331.7 629.8,332.7 632.5,333.8 634.7,334.1 636.9,334.4 639.1,334.8 639.4,337.7 639.7,340.7 640.0,343.7 640.2,346.6 640.5,349.5 640.7,352.4 640.9,355.3 641.0,358.2 641.2,361.1 643.2,364.4 645.1,367.6 646.2,370.1 647.2,372.6 648.2,375.1 649.3,377.5 648.9,380.6 648.4,383.6 648.0,386.6 647.5,389.6 647.1,392.1 646.7,394.7 646.3,397.3 645.8,399.8 643.3,401.2 640.8,402.6 638.3,403.9 635.8,405.3 633.3,406.6 630.4,409.1 627.5,411.6 624.5,414.1 621.6,416.6 619.0,418.1 616.3,419.6 613.6,421.1 611.0,422.5 608.3,424.0 605.3,426.4 602.4,428.7 599.4,431.0 597.7,433.9 595.9,436.7 594.2,439.6 594.0,442.5 593.9,445.4 593.7,448.3 593.5,451.2 594.3,454.0 595.1,456.7 595.9,459.5 596.7,462.3 597.5,465.0 594.8,465.6 592.1,466.2 589.1,465.4 586.0,464.7 582.9,463.9 579.8,463.1 576.7,461.7 573.7,460.3 570.6,458.9 567.5,457.5 566.5,454.6 565.5,451.7 564.5,448.8 563.6,445.8 562.6,442.9 561.6,440.0 558.6,437.1 555.6,434.1 552.6,431.2 549.6,428.2 548.5,425.3 547.4,422.3 546.4,419.4 545.3,416.4 543.8,413.7 542.4,411.1 540.9,408.4 538.0,406.1 535.1,403.7 532.1,401.4 529.4,401.2 526.8,400.9 524.1,400.7 521.4,400.4 518.7,400.2 516.4,401.7 514.1,403.3 512.5,405.8 510.8,408.4 509.2,411.0 507.6,413.5 505.1,412.3 502.6,411.2 500.2,410.0 497.8,408.2 495.5,406.5 493.1,404.8 490.8,403.1 488.4,401.3 486.7,397.7 485.0,394.1 483.3,390.5 481.6,386.8 479.1,383.6 476.7,380.3 474.2,377.0 471.8,373.7 469.1,371.0 466.5,368.4 463.9,365.8 461.3,363.3Z M513.1,277.5 515.7,277.6 518.2,277.7 520.8,277.8 523.4,277.9 526.0,278.0 528.6,278.1 531.3,278.3 533.9,278.4 536.6,278.6 539.2,278.7 541.9,278.8 544.5,278.9 547.1,279.0 549.8,279.1 552.4,279.2 555.1,279.3 557.7,279.3 560.3,279.4 563.0,279.4 565.6,279.5 568.2,279.5 570.8,279.5 573.5,279.5 576.1,279.4 578.7,279.4 581.3,279.3 583.9,279.3 586.5,279.2 589.1,279.1 591.7,279.0 594.3,278.9 596.9,278.8 599.6,278.7 602.2,278.6 604.8,278.5 607.4,278.4 610.1,278.3 612.7,278.2 615.4,278.1 618.0,278.0 620.7,277.8 623.3,277.7 626.0,277.4 626.3,280.7 626.7,283.8 627.0,286.8 627.7,290.0 628.4,293.2 629.1,296.3 629.8,299.3 630.5,302.3 631.1,305.3 631.3,308.5 631.5,311.7 631.6,314.8 631.7,317.9 631.9,321.1 632.0,324.2 632.2,327.4 632.3,330.6 632.5,333.8 629.8,332.7 627.1,331.7 624.5,330.7 621.8,329.6 619.0,330.4 616.3,331.2 613.5,332.0 610.6,332.2 607.8,332.4 605.0,332.5 602.2,332.7 600.1,333.2 598.0,333.7 595.9,334.2 593.8,334.7 591.1,334.2 588.4,333.6 585.7,333.0 583.1,332.4 580.8,331.4 578.4,330.4 576.1,329.3 573.8,328.3 571.7,327.2 569.5,326.1 567.4,325.1 565.3,324.0 562.5,323.2 559.7,322.5 556.8,321.7 554.0,320.9 554.0,317.6 553.9,314.3 553.9,311.0 553.8,307.7 553.8,304.3 553.8,301.0 553.7,297.7 553.7,294.4 553.7,291.1 553.6,287.8 550.9,287.7 548.2,287.5 545.5,287.4 542.7,287.3 540.0,287.2 537.3,287.0 534.6,286.9 531.8,286.7 529.1,286.6 526.4,286.4 523.7,286.3 520.9,286.2 518.2,286.1 515.5,285.9 512.8,285.8 512.9,283.0 513.0,280.2Z M526.0,278.0 526.1,274.7 526.2,271.4 526.3,268.2 526.4,264.9 526.5,261.6 526.6,258.4 526.7,255.1 526.8,251.9 526.9,248.6 527.0,245.4 527.1,242.1 527.2,238.8 527.3,235.5 527.4,232.1 527.5,228.7 530.1,228.8 532.6,228.9 535.2,229.0 537.7,229.0 540.3,229.0 542.9,229.0 545.5,229.0 548.1,229.0 550.7,229.0 553.3,228.9 555.9,228.9 558.5,228.8 561.1,228.8 563.7,228.7 566.3,228.6 568.9,228.5 571.5,228.5 574.2,228.3 576.8,228.2 579.4,228.1 582.1,228.0 584.7,227.8 587.3,227.6 589.9,227.5 592.5,227.3 595.1,227.0 597.7,226.7 600.3,226.4 602.8,226.1 605.3,225.6 607.7,225.1 610.1,224.5 612.5,223.8 614.8,223.1 616.5,223.9 618.2,224.8 617.1,226.3 616.0,227.9 617.5,229.3 619.2,230.8 621.1,232.6 621.1,236.1 621.4,239.9 621.7,243.9 622.2,248.0 622.7,252.2 623.2,256.5 623.8,260.8 624.3,265.0 624.9,269.3 625.5,273.4 626.0,277.4 623.3,277.7 620.7,277.8 618.0,278.0 615.4,278.1 612.7,278.2 610.1,278.3 607.4,278.4 604.8,278.5 602.2,278.6 599.6,278.7 596.9,278.8 594.3,278.9 591.7,279.0 589.1,279.1 586.5,279.2 583.9,279.3 581.3,279.3 578.7,279.4 576.1,279.4 573.5,279.5 570.8,279.5 568.2,279.5 565.6,279.5 563.0,279.4 560.3,279.4 557.7,279.3 555.1,279.3 552.4,279.2 549.8,279.1 547.1,279.0 544.5,278.9 541.9,278.8 539.2,278.7 536.6,278.6 533.9,278.4 531.3,278.3 528.6,278.1Z M505.0,176.2 504.8,179.6 504.6,182.9 504.4,186.2 504.2,189.5 504.0,192.9 503.8,196.2 503.6,199.5 503.4,202.8 503.2,206.1 503.0,209.5 505.5,209.7 508.0,209.9 510.5,210.1 513.0,210.3 515.5,210.5 518.0,210.6 520.5,210.8 523.0,211.0 525.5,211.1 528.0,211.3 527.9,214.8 527.8,218.3 527.7,221.8 527.6,225.3 527.5,228.7 530.1,228.8 532.6,228.9 535.2,229.0 537.7,229.0 540.3,229.0 542.9,229.0 545.5,229.0 548.1,229.0 550.7,229.0 553.3,228.9 555.9,228.9 558.5,228.8 561.1,228.8 563.7,228.7 566.3,228.6 568.9,228.5 571.5,228.5 574.2,228.3 576.8,228.2 579.4,228.1 582.1,228.0 584.7,227.8 587.3,227.6 589.9,227.5 592.5,227.3 595.1,227.0 597.7,226.7 600.3,226.4 602.8,226.1 605.3,225.6 607.7,225.1 610.1,224.5 612.5,223.8 614.8,223.1 613.5,221.2 612.1,219.2 610.4,216.9 610.7,216.5 610.3,214.1 609.8,211.5 609.2,208.9 608.6,206.1 607.0,202.4 605.3,198.7 603.6,194.9 601.9,191.2 600.4,188.2 598.9,185.3 597.6,182.6 595.2,181.4 592.8,180.2 590.6,179.1 588.3,178.8 586.0,178.6 583.7,178.4 581.4,178.1 579.1,177.8 576.8,177.5 574.5,177.2 572.2,176.8 569.8,176.9 567.4,177.0 565.0,177.1 562.6,177.1 560.1,177.2 557.7,177.2 555.3,177.3 552.9,177.3 550.5,177.3 548.1,177.3 545.7,177.3 543.3,177.3 540.9,177.3 538.5,177.3 536.1,177.2 533.7,177.2 531.4,177.1 529.0,177.1 526.6,177.0 524.2,177.0 521.8,176.9 519.4,176.8 517.0,176.7 514.6,176.6 512.2,176.5 509.8,176.5 507.4,176.4Z M507.0,126.0 509.3,126.1 511.6,126.2 513.9,126.4 516.2,126.5 518.5,126.6 520.8,126.7 523.1,126.8 525.3,126.9 527.6,127.0 529.9,127.1 532.2,127.2 534.5,127.3 536.8,127.3 539.0,127.4 541.3,127.5 543.6,127.5 545.9,127.6 548.2,127.6 550.4,127.6 552.7,127.7 555.0,127.7 557.3,127.7 559.6,127.7 561.9,127.7 564.2,127.7 566.4,127.7 568.7,127.7 571.0,127.7 573.3,127.6 575.6,127.6 577.9,127.5 580.2,127.5 582.5,127.4 584.8,127.3 587.1,127.3 589.4,127.2 591.7,127.1 594.0,127.0 594.2,130.3 594.5,133.6 594.8,136.9 595.1,140.3 595.4,143.6 595.6,146.9 595.9,150.1 596.2,153.4 596.5,156.6 596.8,159.7 597.0,162.8 597.3,165.8 597.5,168.7 596.8,171.0 596.2,173.3 595.5,175.5 596.1,177.8 596.8,180.1 597.6,182.6 595.2,181.4 592.8,180.2 590.6,179.1 588.3,178.8 586.0,178.6 583.7,178.4 581.4,178.1 579.1,177.8 576.8,177.5 574.5,177.2 572.2,176.8 569.8,176.9 567.4,177.0 565.0,177.1 562.6,177.1 560.1,177.2 557.7,177.2 555.3,177.3 552.9,177.3 550.5,177.3 548.1,177.3 545.7,177.3 543.3,177.3 540.9,177.3 538.5,177.3 536.1,177.2 533.7,177.2 531.4,177.1 529.0,177.1 526.6,177.0 524.2,177.0 521.8,176.9 519.4,176.8 517.0,176.7 514.6,176.6 512.2,176.5 509.8,176.5 507.4,176.4 505.0,176.2 505.2,172.9 505.3,169.5 505.4,166.1 505.6,162.7 505.7,159.2 505.8,155.8 506.0,152.4 506.1,148.9 506.2,145.5 506.4,142.1 506.5,138.8 506.6,135.6 506.7,132.4 506.9,129.2Z M509.5,75.0 511.7,75.1 513.9,75.2 516.0,75.3 518.2,75.4 520.4,75.5 522.6,75.6 524.8,75.7 526.9,75.8 529.1,75.8 531.3,75.9 533.5,76.0 535.7,76.0 537.9,76.1 540.0,76.1 542.2,76.1 544.4,76.2 546.6,76.2 548.8,76.2 551.0,76.2 553.1,76.3 555.3,76.3 557.5,76.3 559.7,76.3 561.9,76.3 564.1,76.2 566.3,76.2 568.5,76.2 570.6,76.2 572.8,76.1 575.0,76.1 577.2,76.0 579.4,76.0 581.6,75.9 583.8,75.8 586.0,75.7 586.3,79.1 586.6,82.4 587.0,85.7 587.3,89.0 588.0,91.5 588.7,94.0 589.4,96.5 590.1,99.0 590.3,102.1 590.4,105.3 590.6,108.5 590.7,111.7 590.9,114.9 591.6,117.9 592.4,120.9 593.2,124.0 594.0,127.0 591.7,127.1 589.4,127.2 587.1,127.3 584.8,127.3 582.5,127.4 580.2,127.5 577.9,127.5 575.6,127.6 573.3,127.6 571.0,127.7 568.7,127.7 566.4,127.7 564.2,127.7 561.9,127.7 559.6,127.7 557.3,127.7 555.0,127.7 552.7,127.7 550.4,127.6 548.2,127.6 545.9,127.6 543.6,127.5 541.3,127.5 539.0,127.4 536.8,127.3 534.5,127.3 532.2,127.2 529.9,127.1 527.6,127.0 525.3,126.9 523.1,126.8 520.8,126.7 518.5,126.6 516.2,126.5 513.9,126.4 511.6,126.2 509.3,126.1 507.0,126.0 507.1,122.8 507.3,119.6 507.4,116.3 507.5,113.1 507.7,109.9 507.8,106.8 507.9,103.6 508.1,100.4 508.2,97.2 508.4,94.0 508.6,90.9 508.7,87.7 508.9,84.5 509.1,81.3 509.3,78.2Z M586.0,75.7 588.1,75.7 590.3,75.6 592.4,75.4 594.5,75.3 596.7,75.2 598.8,75.1 600.9,75.0 603.1,74.8 605.2,74.7 607.4,74.5 609.5,74.4 609.5,71.2 609.5,68.0 611.5,68.1 613.5,68.2 613.9,70.8 614.4,73.4 614.9,76.1 615.3,78.7 617.3,79.2 619.2,79.7 621.1,80.3 623.1,80.8 625.0,81.3 627.3,80.7 629.6,80.1 631.9,79.4 634.2,78.8 636.1,80.2 638.1,81.6 640.0,83.0 641.9,84.3 643.9,84.8 645.9,85.3 647.9,85.7 649.9,86.2 652.0,86.7 654.1,86.2 656.3,85.7 658.5,85.2 660.7,84.7 662.8,84.7 665.0,84.6 667.1,84.6 669.2,84.5 671.3,84.5 673.4,84.4 675.6,84.3 673.3,86.1 671.0,87.8 668.7,89.5 666.3,91.2 664.0,92.8 661.8,95.0 659.5,97.2 657.2,99.4 654.9,101.6 652.7,103.8 650.4,105.8 648.1,107.7 645.9,109.7 643.7,111.5 643.9,114.7 644.1,117.9 644.3,121.2 642.7,124.5 641.1,127.7 639.6,131.0 639.7,133.8 639.8,136.6 639.9,139.4 640.1,142.1 640.3,144.9 642.4,146.4 644.6,147.9 646.8,149.4 649.4,151.2 652.1,153.1 654.1,154.5 656.1,156.0 658.1,157.5 660.2,158.9 661.1,161.3 662.0,163.7 659.7,164.0 657.4,164.2 655.0,164.4 652.7,164.6 650.3,164.8 648.0,165.0 645.6,165.2 643.2,165.4 640.8,165.5 638.5,165.7 636.1,165.9 633.6,166.1 631.2,166.2 628.8,166.4 626.4,166.6 624.0,166.7 621.6,166.9 619.1,167.1 616.7,167.2 614.3,167.4 611.9,167.6 609.5,167.8 607.0,168.0 604.6,168.1 602.3,168.3 599.9,168.5 597.5,168.7 597.3,165.8 597.0,162.8 596.8,159.7 596.5,156.6 596.2,153.4 595.9,150.1 595.6,146.9 595.4,143.6 595.1,140.3 594.8,136.9 594.5,133.6 594.2,130.3 594.0,127.0 593.2,124.0 592.4,120.9 591.6,117.9 590.9,114.9 590.7,111.7 590.6,108.5 590.4,105.3 590.3,102.1 590.1,99.0 589.4,96.5 588.7,94.0 588.0,91.5 587.3,89.0 587.0,85.7 586.6,82.4 586.3,79.1Z M597.5,168.7 599.9,168.5 602.3,168.3 604.6,168.1 607.0,168.0 609.5,167.8 611.9,167.6 614.3,167.4 616.7,167.2 619.1,167.1 621.6,166.9 624.0,166.7 626.4,166.6 628.8,166.4 631.2,166.2 633.6,166.1 636.1,165.9 638.5,165.7 640.8,165.5 643.2,165.4 645.6,165.2 648.0,165.0 650.3,164.8 652.7,164.6 655.0,164.4 657.4,164.2 659.7,164.0 662.0,163.7 662.9,166.9 663.8,170.0 664.7,173.2 665.6,176.3 667.9,177.1 670.2,177.9 672.5,178.8 674.8,180.8 677.1,183.0 679.5,185.1 679.1,188.6 678.7,192.1 677.0,193.2 675.3,194.3 673.5,195.4 671.7,196.5 671.1,199.0 670.4,201.4 669.8,203.9 668.9,206.4 668.0,208.9 667.0,211.3 666.0,213.8 663.9,211.8 661.7,209.9 659.1,209.8 656.5,209.8 653.9,209.8 651.3,209.8 648.6,209.8 646.1,209.9 643.5,210.0 640.9,210.2 638.4,210.4 635.9,210.7 633.4,211.0 631.0,211.4 628.6,211.9 626.3,212.4 624.0,213.0 621.7,213.6 619.5,214.3 617.2,215.0 615.0,215.7 612.7,216.3 610.4,216.9 610.7,216.5 610.3,214.1 609.8,211.5 609.2,208.9 608.6,206.1 607.0,202.4 605.3,198.7 603.6,194.9 601.9,191.2 600.4,188.2 598.9,185.3 597.6,182.6 596.8,180.1 596.1,177.8 595.5,175.5 596.2,173.3 596.8,171.0Z M610.4,216.9 612.7,216.3 615.0,215.7 617.2,215.0 619.5,214.3 621.7,213.6 624.0,213.0 626.3,212.4 628.6,211.9 631.0,211.4 633.4,211.0 635.9,210.7 638.4,210.4 640.9,210.2 643.5,210.0 646.1,209.9 648.6,209.8 651.3,209.8 653.9,209.8 656.5,209.8 659.1,209.8 661.7,209.9 663.9,211.8 666.0,213.8 666.1,216.6 666.2,219.5 666.2,222.3 668.5,224.8 670.7,227.3 672.9,229.8 675.2,232.4 677.8,234.8 680.4,237.3 683.0,239.7 682.5,242.2 682.0,244.8 681.5,247.3 684.0,250.2 686.5,253.0 689.1,255.8 691.7,258.4 694.3,261.0 696.5,263.3 698.7,265.7 701.0,268.0 699.9,270.7 698.8,273.4 697.7,276.3 697.1,279.2 696.5,282.1 695.9,285.0 693.6,285.3 691.3,285.6 689.0,285.8 686.7,286.1 687.3,283.1 687.9,280.1 688.4,277.2 685.7,277.5 682.9,277.8 680.2,278.2 677.5,278.5 674.7,278.9 672.0,279.2 669.3,279.6 666.6,280.0 663.9,280.4 661.2,280.8 658.5,281.3 655.9,281.7 653.2,282.2 650.5,282.6 647.9,283.1 645.3,283.6 642.6,284.1 640.0,284.6 637.4,285.1 634.8,285.6 632.2,286.1 629.6,286.5 627.0,286.8 626.7,283.8 626.3,280.7 626.0,277.4 625.5,273.4 624.9,269.3 624.3,265.0 623.8,260.8 623.2,256.5 622.7,252.2 622.2,248.0 621.7,243.9 621.4,239.9 621.1,236.1 621.1,232.6 619.2,230.8 617.5,229.3 616.0,227.9 617.1,226.3 618.2,224.8 616.5,223.9 614.8,223.1 613.5,221.2 612.1,219.2Z M627.0,286.8 629.6,286.5 632.2,286.1 634.8,285.6 637.4,285.1 640.0,284.6 642.6,284.1 645.3,283.6 647.9,283.1 650.5,282.6 653.2,282.2 655.9,281.7 658.5,281.3 661.2,280.8 663.9,280.4 666.6,280.0 669.3,279.6 672.0,279.2 674.7,278.9 677.5,278.5 680.2,278.2 682.9,277.8 685.7,277.5 688.4,277.2 687.9,280.1 687.3,283.1 686.7,286.1 689.0,285.8 691.3,285.6 693.6,285.3 695.9,285.0 695.3,288.6 694.6,292.2 694.1,295.2 693.6,298.3 693.1,301.3 691.2,303.4 689.1,307.2 687.1,311.0 686.0,314.1 684.9,317.1 683.8,320.2 682.7,323.2 682.6,326.5 682.5,329.9 682.3,333.3 682.2,336.6 682.0,340.0 679.2,340.3 676.4,340.6 673.6,340.8 670.8,341.1 668.0,341.4 665.2,341.7 662.4,341.9 659.6,342.2 656.8,342.4 654.0,342.6 651.2,342.9 648.4,343.1 645.6,343.3 642.8,343.5 640.0,343.7 639.7,340.7 639.4,337.7 639.1,334.8 636.9,334.4 634.7,334.1 632.5,333.8 632.3,330.6 632.2,327.4 632.0,324.2 631.9,321.1 631.7,317.9 631.6,314.8 631.5,311.7 631.3,308.5 631.1,305.3 630.5,302.3 629.8,299.3 629.1,296.3 628.4,293.2 627.7,290.0Z M640.0,343.7 642.8,343.5 645.6,343.3 648.4,343.1 651.2,342.9 654.0,342.6 656.8,342.4 659.6,342.2 662.4,341.9 665.2,341.7 668.0,341.4 670.8,341.1 673.6,340.8 676.4,340.6 679.2,340.3 682.0,340.0 682.1,342.9 682.2,345.8 682.3,348.7 683.3,351.5 684.2,354.3 685.2,357.1 683.3,360.3 681.5,363.6 679.6,366.8 677.7,369.9 677.5,372.5 677.2,375.1 680.1,374.9 682.9,374.6 685.7,374.3 688.5,374.0 691.4,373.7 694.2,373.5 697.0,373.2 699.8,372.9 702.6,372.6 705.5,372.3 705.9,374.9 706.4,377.6 706.8,380.2 707.2,382.9 707.7,385.5 710.6,386.8 713.5,388.1 712.6,391.0 711.7,393.9 710.8,396.7 712.7,398.4 714.7,400.0 716.6,401.7 714.7,403.0 712.9,404.4 711.0,405.7 708.1,404.7 705.2,403.7 702.3,402.7 699.8,403.7 697.3,404.6 694.8,405.5 692.2,406.4 689.3,405.3 686.3,404.3 683.4,403.2 680.4,402.7 677.5,402.1 674.5,401.6 671.6,401.0 668.6,400.5 665.8,400.4 662.9,400.3 660.1,400.3 657.2,400.2 654.4,400.1 651.5,400.0 648.7,399.9 645.8,399.8 646.3,397.3 646.7,394.7 647.1,392.1 647.5,389.6 648.0,386.6 648.4,383.6 648.9,380.6 649.3,377.5 648.2,375.1 647.2,372.6 646.2,370.1 645.1,367.6 643.2,364.4 641.2,361.1 641.0,358.2 640.9,355.3 640.7,352.4 640.5,349.5 640.2,346.6Z M691.2,303.4 693.9,303.0 696.6,302.7 699.3,302.3 702.1,302.0 704.8,301.7 707.6,301.4 710.3,301.1 713.1,300.8 715.8,300.5 718.6,300.2 721.4,299.9 721.7,303.3 721.9,306.6 722.2,310.0 722.4,313.5 722.6,316.9 722.8,320.3 723.0,323.8 723.1,327.2 723.2,330.6 723.3,334.1 723.4,337.5 723.5,341.0 723.5,344.4 723.5,347.8 723.5,351.2 723.5,354.6 723.8,357.8 724.0,361.1 724.3,364.3 724.5,367.4 724.6,370.6 724.8,373.8 724.9,376.9 725.0,380.0 722.1,380.9 719.2,381.9 716.3,382.8 713.5,383.7 710.6,384.6 707.7,385.5 707.2,382.9 706.8,380.2 706.4,377.6 705.9,374.9 705.5,372.3 702.6,372.6 699.8,372.9 697.0,373.2 694.2,373.5 691.4,373.7 688.5,374.0 685.7,374.3 682.9,374.6 680.1,374.9 677.2,375.1 677.5,372.5 677.7,369.9 679.6,366.8 681.5,363.6 683.3,360.3 685.2,357.1 684.2,354.3 683.3,351.5 682.3,348.7 682.2,345.8 682.1,342.9 682.0,340.0 682.2,336.6 682.3,333.3 682.5,329.9 682.6,326.5 682.7,323.2 683.8,320.2 684.9,317.1 686.0,314.1 687.1,311.0 689.1,307.2Z M721.4,299.9 724.4,299.6 727.3,299.2 730.3,298.9 733.3,298.5 736.3,298.1 739.2,297.7 742.2,297.3 745.2,296.9 748.1,296.4 751.1,295.9 754.0,295.4 756.9,294.8 759.8,294.2 760.9,297.4 761.9,300.5 762.8,303.7 763.8,307.0 764.8,310.2 765.7,313.5 766.6,316.7 767.5,320.0 768.3,323.3 769.1,326.7 770.0,330.0 771.0,333.1 772.1,336.2 773.1,339.3 773.0,342.5 772.9,345.7 772.7,348.9 772.6,352.1 772.8,354.7 773.0,357.4 773.2,359.9 773.3,362.5 770.4,363.0 767.5,363.5 764.7,363.9 761.8,364.4 759.0,364.8 756.2,365.2 753.5,365.7 750.7,366.1 747.9,366.6 745.1,367.0 742.3,367.4 739.5,367.9 736.7,368.3 737.0,371.2 737.3,374.0 737.6,376.9 737.8,379.7 735.5,380.3 733.1,381.0 730.7,381.6 728.8,381.1 726.9,380.5 725.0,380.0 724.9,376.9 724.8,373.8 724.6,370.6 724.5,367.4 724.3,364.3 724.0,361.1 723.8,357.8 723.5,354.6 723.5,351.2 723.5,347.8 723.5,344.4 723.5,341.0 723.4,337.5 723.3,334.1 723.2,330.6 723.1,327.2 723.0,323.8 722.8,320.3 722.6,316.9 722.4,313.5 722.2,310.0 721.9,306.6 721.7,303.3Z M759.8,294.2 762.5,293.7 765.2,293.1 767.8,292.5 770.4,291.9 773.0,291.2 775.6,290.6 778.1,289.9 780.5,289.3 782.8,288.6 785.2,288.0 787.5,287.3 789.7,286.6 792.0,286.0 794.2,285.3 796.6,287.2 799.1,289.1 801.5,290.9 803.7,293.7 805.9,296.5 808.1,299.3 809.7,302.0 811.3,304.7 812.9,307.4 814.6,310.0 816.5,312.0 818.4,313.9 820.3,315.8 822.3,317.8 825.2,320.1 828.1,322.5 831.0,325.1 830.5,328.4 830.0,331.9 829.4,335.5 828.6,339.5 827.8,343.6 826.9,347.7 826.0,351.8 823.3,355.0 820.5,358.2 817.7,361.4 816.5,359.8 815.2,358.3 812.4,359.0 809.5,359.8 806.7,360.6 803.8,361.4 801.0,362.2 798.1,362.9 795.2,363.7 792.3,364.3 789.4,364.9 786.5,365.4 783.6,365.9 780.8,366.3 777.9,366.6 775.1,367.0 774.2,364.7 773.3,362.5 773.2,359.9 773.0,357.4 772.8,354.7 772.6,352.1 772.7,348.9 772.9,345.7 773.0,342.5 773.1,339.3 772.1,336.2 771.0,333.1 770.0,330.0 769.1,326.7 768.3,323.3 767.5,320.0 766.6,316.7 765.7,313.5 764.8,310.2 763.8,307.0 762.8,303.7 761.9,300.5 760.9,297.4Z M773.3,362.5 774.2,364.7 775.1,367.0 777.9,366.6 780.8,366.3 783.6,365.9 786.5,365.4 789.4,364.9 792.3,364.3 795.2,363.7 798.1,362.9 801.0,362.2 803.8,361.4 806.7,360.6 809.5,359.8 812.4,359.0 815.2,358.3 816.5,359.8 817.7,361.4 820.5,358.2 823.3,355.0 826.0,351.8 826.7,354.8 827.4,357.8 828.2,360.8 828.9,363.8 829.6,366.7 831.1,369.7 832.5,372.7 834.0,375.7 835.5,378.7 837.4,381.8 839.4,384.9 841.4,388.0 843.3,391.1 844.5,394.1 845.8,397.0 847.0,399.9 848.3,402.8 849.5,405.7 851.2,408.6 852.9,411.5 854.6,414.4 856.3,417.3 856.7,420.5 857.2,423.6 857.6,426.7 858.1,429.8 858.6,432.8 858.3,435.6 858.0,438.2 857.7,440.8 857.5,443.4 857.2,446.0 854.2,446.5 851.3,447.0 848.3,447.5 846.9,445.1 845.5,442.6 844.1,440.2 842.7,437.7 839.2,436.5 835.7,435.3 832.1,434.1 829.6,431.1 827.0,428.1 824.4,425.1 822.4,422.7 820.5,420.3 818.5,417.9 816.6,415.5 814.6,413.1 813.3,410.3 812.0,407.6 810.8,404.8 809.5,402.0 809.3,399.3 809.1,396.7 809.0,394.0 808.8,391.3 808.7,388.5 805.9,386.6 803.1,384.7 800.3,382.8 797.6,381.0 794.3,379.0 791.1,377.0 788.0,374.9 785.8,376.4 783.6,377.7 781.4,379.0 778.1,380.6 774.9,382.2 771.8,383.8 769.8,383.8 767.9,383.9 766.0,384.0 763.4,381.8 760.8,379.5 758.3,377.3 755.8,375.0 753.2,375.7 750.7,376.3 748.1,377.0 745.6,377.7 743.0,378.3 740.4,379.0 737.8,379.7 737.6,376.9 737.3,374.0 737.0,371.2 736.7,368.3 739.5,367.9 742.3,367.4 745.1,367.0 747.9,366.6 750.7,366.1 753.5,365.7 756.2,365.2 759.0,364.8 761.8,364.4 764.7,363.9 767.5,363.5 770.4,363.0Z M831.0,325.1 828.1,322.5 825.2,320.1 822.3,317.8 820.3,315.8 818.4,313.9 816.5,312.0 814.6,310.0 812.9,307.4 811.3,304.7 809.7,302.0 808.1,299.3 805.9,296.5 803.7,293.7 801.5,290.9 799.1,289.1 796.6,287.2 794.2,285.3 796.3,283.8 798.3,282.3 800.3,280.9 802.3,279.4 804.6,278.9 806.9,278.4 809.2,277.9 811.5,277.5 813.8,277.0 816.0,276.6 818.3,276.3 820.2,276.8 821.5,279.1 822.8,281.5 824.9,281.1 826.9,280.8 828.9,280.5 831.0,280.2 833.0,279.9 835.1,279.6 837.9,282.0 840.8,284.4 843.7,286.7 846.7,289.1 849.9,291.4 853.3,293.6 851.8,296.5 850.5,299.2 849.2,301.9 847.9,304.5 846.2,306.6 844.6,308.6 842.9,310.7 841.2,312.7 839.2,315.0 837.2,317.3 835.1,319.8 833.1,322.3Z M794.2,285.3 792.0,286.0 789.7,286.6 787.5,287.3 785.2,288.0 782.8,288.6 780.5,289.3 778.1,289.9 778.1,288.2 778.1,286.5 779.7,283.5 781.3,280.5 783.5,279.6 785.6,278.6 787.8,277.7 790.0,274.7 792.1,271.7 794.2,268.6 795.9,267.4 797.6,266.2 799.2,265.0 800.9,263.8 802.9,261.4 804.8,259.0 806.7,256.7 806.3,253.4 808.5,252.9 810.7,252.4 812.9,252.0 815.1,251.5 817.3,251.1 819.5,250.7 821.8,250.4 824.1,250.0 826.3,249.6 828.7,249.3 831.0,248.9 833.3,248.5 835.7,248.1 838.1,247.8 840.5,247.4 843.0,247.0 845.4,246.6 847.9,246.2 850.3,245.7 852.8,245.3 855.3,244.9 857.8,244.4 860.3,244.0 862.8,243.6 865.4,243.1 867.9,242.7 870.4,242.3 872.8,241.9 875.2,241.5 877.6,241.1 878.9,244.3 880.2,247.6 881.6,251.0 883.1,254.4 883.3,258.0 883.5,261.5 883.7,264.9 881.3,267.4 878.9,269.8 876.6,272.1 874.4,274.4 872.5,276.7 870.7,277.6 869.0,278.6 867.3,279.6 865.7,280.6 864.0,281.6 863.6,284.9 863.2,288.2 862.6,291.6 859.6,292.3 856.4,293.0 853.3,293.6 849.9,291.4 846.7,289.1 843.7,286.7 840.8,284.4 837.9,282.0 835.1,279.6 833.0,279.9 831.0,280.2 828.9,280.5 826.9,280.8 824.9,281.1 822.8,281.5 821.5,279.1 820.2,276.8 818.3,276.3 816.0,276.6 813.8,277.0 811.5,277.5 809.2,277.9 806.9,278.4 804.6,278.9 802.3,279.4 800.3,280.9 798.3,282.3 796.3,283.8Z M691.2,303.4 693.1,301.3 693.6,298.3 694.1,295.2 694.6,292.2 695.3,288.6 695.9,285.0 696.5,282.1 697.1,279.2 697.7,276.3 700.3,276.1 702.9,275.9 705.5,275.8 708.1,275.6 710.8,275.5 713.4,275.4 716.0,275.3 718.7,275.2 718.4,272.4 721.4,272.3 724.4,272.2 727.4,272.0 730.3,271.8 733.3,271.5 736.3,271.2 739.3,270.8 742.3,270.4 745.3,269.9 748.3,269.4 751.2,268.9 754.2,268.3 757.2,267.6 760.1,267.0 763.0,266.3 765.9,265.6 768.7,264.8 771.6,264.1 774.4,263.3 777.1,262.6 779.8,261.8 782.5,261.0 785.0,260.1 787.5,259.2 790.0,258.3 792.4,257.4 794.7,256.6 797.1,255.9 799.4,255.2 801.7,254.5 804.0,253.9 806.3,253.4 806.7,256.7 804.8,259.0 802.9,261.4 800.9,263.8 799.2,265.0 797.6,266.2 795.9,267.4 794.2,268.6 792.1,271.7 790.0,274.7 787.8,277.7 785.6,278.6 783.5,279.6 781.3,280.5 779.7,283.5 778.1,286.5 778.1,288.2 778.1,289.9 775.6,290.6 773.0,291.2 770.4,291.9 767.8,292.5 765.2,293.1 762.5,293.7 759.8,294.2 756.9,294.8 754.0,295.4 751.1,295.9 748.1,296.4 745.2,296.9 742.2,297.3 739.2,297.7 736.3,298.1 733.3,298.5 730.3,298.9 727.3,299.2 724.4,299.6 721.4,299.9 718.6,300.2 715.8,300.5 713.1,300.8 710.3,301.1 707.6,301.4 704.8,301.7 702.1,302.0 699.3,302.3 696.6,302.7 693.9,303.0Z M806.3,253.4 804.0,253.9 801.7,254.5 799.4,255.2 797.1,255.9 794.7,256.6 792.4,257.4 790.0,258.3 787.5,259.2 785.0,260.1 782.5,261.0 784.4,258.6 786.3,256.2 788.2,253.7 790.0,251.3 791.7,248.9 793.5,246.6 794.9,244.4 796.2,242.2 797.6,240.1 798.9,238.1 801.2,240.6 803.5,243.1 805.4,242.3 807.2,241.5 809.1,240.7 811.0,240.0 812.7,238.8 814.5,237.7 816.3,236.6 818.1,235.5 819.0,232.1 820.0,228.7 820.9,225.3 821.9,221.8 823.3,220.7 824.8,219.6 826.3,218.5 827.9,216.2 829.4,213.9 831.1,211.6 832.8,209.3 833.3,206.8 833.8,204.3 834.3,201.7 836.6,201.8 838.9,201.8 841.2,201.9 843.5,201.9 845.3,202.5 847.0,203.1 849.6,204.8 852.1,206.5 854.7,208.2 853.5,210.3 852.3,212.4 854.4,213.7 856.5,215.0 859.4,216.1 862.3,217.2 865.1,218.3 867.9,219.3 868.8,221.6 869.7,223.8 870.6,226.1 871.2,228.8 871.9,231.6 872.4,234.8 874.3,234.9 876.1,235.1 876.9,238.1 877.6,241.1 875.2,241.5 872.8,241.9 870.4,242.3 867.9,242.7 865.4,243.1 862.8,243.6 860.3,244.0 857.8,244.4 855.3,244.9 852.8,245.3 850.3,245.7 847.9,246.2 845.4,246.6 843.0,247.0 840.5,247.4 838.1,247.8 835.7,248.1 833.3,248.5 831.0,248.9 828.7,249.3 826.3,249.6 824.1,250.0 821.8,250.4 819.5,250.7 817.3,251.1 815.1,251.5 812.9,252.0 810.7,252.4 808.5,252.9Z M880.5,216.8 878.3,217.6 876.0,218.4 873.7,219.2 874.0,221.5 874.2,223.8 874.5,226.1 874.7,228.5 874.8,231.2 876.1,228.1 877.3,225.3 878.4,222.5 879.5,219.7Z M843.5,201.9 841.2,201.9 838.9,201.8 836.6,201.8 834.3,201.7 833.8,204.3 833.3,206.8 832.8,209.3 831.1,211.6 829.4,213.9 827.9,216.2 826.3,218.5 824.8,219.6 823.3,220.7 821.9,221.8 820.9,225.3 820.0,228.7 819.0,232.1 818.1,235.5 816.3,236.6 814.5,237.7 812.7,238.8 811.0,240.0 809.1,240.7 807.2,241.5 805.4,242.3 803.5,243.1 801.2,240.6 798.9,238.1 796.7,237.2 794.4,236.4 792.6,234.2 790.7,232.1 788.7,230.1 789.6,228.0 790.3,226.1 791.1,224.3 791.8,222.5 792.6,220.7 793.3,218.9 794.3,217.4 795.4,215.7 797.1,214.0 798.7,212.0 800.4,209.5 800.6,205.4 801.3,201.7 801.4,199.5 801.6,197.4 801.8,195.2 802.0,192.9 802.9,191.9 803.1,194.5 803.2,197.0 803.3,199.3 803.4,201.6 803.7,204.0 805.8,202.9 808.0,202.0 810.3,201.2 812.6,200.6 815.0,200.0 817.4,199.4 817.9,202.1 818.6,204.8 819.4,207.5 821.3,205.4 823.2,203.4 825.2,201.4 827.2,199.5 829.5,198.9 831.8,198.4 834.1,197.9 837.2,199.2 840.4,200.6Z M697.7,276.3 698.8,273.4 699.9,270.7 701.0,268.0 703.5,267.6 706.1,267.2 708.6,266.9 711.2,266.5 713.1,263.7 715.1,261.0 715.0,259.0 714.9,257.1 716.9,256.4 718.9,255.7 720.9,254.9 723.9,254.8 726.9,254.7 729.9,254.5 732.2,253.4 734.6,252.2 737.0,251.0 739.4,249.7 741.9,248.3 744.3,246.8 746.8,245.2 747.9,242.6 748.9,239.9 750.0,237.1 752.2,234.2 754.3,231.2 756.4,228.3 758.6,227.5 760.7,226.7 763.8,227.3 766.9,227.9 769.9,228.5 773.0,229.0 775.2,228.0 777.3,227.0 779.3,226.1 781.4,225.3 783.8,226.8 786.3,228.4 788.7,230.1 790.7,232.1 792.6,234.2 794.4,236.4 796.7,237.2 798.9,238.1 797.6,240.1 796.2,242.2 794.9,244.4 793.5,246.6 791.7,248.9 790.0,251.3 788.2,253.7 786.3,256.2 784.4,258.6 782.5,261.0 779.8,261.8 777.1,262.6 774.4,263.3 771.6,264.1 768.7,264.8 765.9,265.6 763.0,266.3 760.1,267.0 757.2,267.6 754.2,268.3 751.2,268.9 748.3,269.4 745.3,269.9 742.3,270.4 739.3,270.8 736.3,271.2 733.3,271.5 730.3,271.8 727.4,272.0 724.4,272.2 721.4,272.3 718.4,272.4 718.7,275.2 716.0,275.3 713.4,275.4 710.8,275.5 708.1,275.6 705.5,275.8 702.9,275.9 700.3,276.1Z M747.5,182.5 750.0,181.9 752.6,181.4 755.1,180.8 757.6,180.3 760.1,179.7 762.6,179.2 765.0,178.8 767.4,179.8 769.7,180.8 772.0,181.9 774.3,182.9 776.5,182.5 778.7,181.9 780.8,181.4 783.0,180.8 785.2,180.2 787.1,178.1 789.1,175.9 791.2,173.6 793.3,171.3 795.7,168.8 798.4,166.3 798.8,170.1 799.4,173.9 800.1,177.7 800.9,181.4 801.7,185.1 802.4,188.6 802.9,191.9 802.0,192.9 801.8,195.2 801.6,197.4 801.4,199.5 801.3,201.7 800.6,205.4 800.4,209.5 798.7,212.0 797.1,214.0 795.4,215.7 794.3,217.4 793.3,218.9 792.6,220.7 791.8,222.5 791.1,224.3 790.3,226.1 789.6,228.0 788.7,230.1 786.3,228.4 783.8,226.8 781.4,225.3 779.3,226.1 777.3,227.0 775.2,228.0 773.0,229.0 769.9,228.5 766.9,227.9 763.8,227.3 760.7,226.7 758.6,227.5 756.4,228.3 755.7,225.5 755.1,222.6 754.4,219.7 753.8,216.7 753.1,213.5 752.5,210.3 751.9,207.0 751.3,203.6 750.7,200.2 750.1,196.7 749.5,193.1 748.8,189.6 748.2,186.0Z M747.5,182.5 745.0,182.9 742.4,183.3 739.9,183.8 737.4,184.2 734.8,184.6 732.3,185.0 729.8,185.3 727.3,185.7 724.9,186.0 722.4,186.3 721.0,187.4 719.6,188.6 718.1,189.8 715.9,189.3 713.6,188.8 714.5,192.6 715.1,196.6 715.6,200.6 716.0,204.7 716.3,208.8 716.6,212.9 716.8,216.9 717.0,221.0 717.3,224.9 717.5,228.8 717.7,232.4 718.0,235.9 717.3,239.1 716.6,242.0 716.0,244.8 715.4,247.5 714.7,250.1 714.8,252.4 714.8,254.7 714.9,257.1 716.9,256.4 718.9,255.7 720.9,254.9 723.9,254.8 726.9,254.7 729.9,254.5 732.2,253.4 734.6,252.2 737.0,251.0 739.4,249.7 741.9,248.3 744.3,246.8 746.8,245.2 747.9,242.6 748.9,239.9 750.0,237.1 752.2,234.2 754.3,231.2 756.4,228.3 755.7,225.5 755.1,222.6 754.4,219.7 753.8,216.7 753.1,213.5 752.5,210.3 751.9,207.0 751.3,203.6 750.7,200.2 750.1,196.7 749.5,193.1 748.8,189.6 748.2,186.0Z M714.9,257.1 714.8,254.7 714.8,252.4 714.7,250.1 715.4,247.5 716.0,244.8 716.6,242.0 717.3,239.1 718.0,235.9 717.7,232.4 717.5,228.8 717.3,224.9 717.0,221.0 716.8,216.9 716.6,212.9 716.3,208.8 716.0,204.7 715.6,200.6 715.1,196.6 714.5,192.6 713.6,188.8 711.9,186.1 710.2,183.2 708.4,180.5 706.7,177.7 705.1,175.0 702.8,175.3 700.6,175.7 698.4,176.0 696.2,176.3 694.0,176.6 691.9,176.9 689.8,177.1 687.6,177.4 685.5,177.6 683.4,177.8 681.2,178.0 679.1,178.2 676.9,178.4 674.7,178.6 672.5,178.8 674.8,180.8 677.1,183.0 679.5,185.1 679.1,188.6 678.7,192.1 677.0,193.2 675.3,194.3 673.5,195.4 671.7,196.5 671.1,199.0 670.4,201.4 669.8,203.9 668.9,206.4 668.0,208.9 667.0,211.3 666.0,213.8 666.1,216.6 666.2,219.5 666.2,222.3 668.5,224.8 670.7,227.3 672.9,229.8 675.2,232.4 677.8,234.8 680.4,237.3 683.0,239.7 682.5,242.2 682.0,244.8 681.5,247.3 684.0,250.2 686.5,253.0 689.1,255.8 691.7,258.4 694.3,261.0 696.5,263.3 698.7,265.7 701.0,268.0 703.5,267.6 706.1,267.2 708.6,266.9 711.2,266.5 713.1,263.7 715.1,261.0 715.0,259.0Z M705.1,175.0 703.9,171.8 702.8,168.6 701.8,165.4 702.0,162.5 702.3,159.6 702.5,156.7 702.8,153.8 703.1,150.3 703.3,146.8 703.6,143.3 704.7,140.5 705.7,137.7 706.7,134.8 707.8,131.8 708.8,128.8 709.9,125.8 707.7,128.5 705.6,131.2 703.4,133.8 701.5,135.9 699.6,138.0 697.6,140.0 698.3,137.6 698.9,135.2 699.5,132.8 700.7,131.3 701.8,129.8 700.4,127.2 698.9,124.5 697.4,121.8 696.0,119.2 694.6,116.5 692.1,116.4 689.6,116.3 687.1,116.2 684.7,116.1 682.2,116.0 680.1,115.6 678.0,115.3 675.9,114.9 673.9,114.6 671.8,114.2 669.7,113.8 667.8,112.1 665.9,110.4 663.5,108.8 661.1,107.2 658.7,105.6 656.6,106.3 654.4,107.0 652.3,107.7 650.2,108.4 648.0,109.1 645.9,109.7 643.7,111.5 643.9,114.7 644.1,117.9 644.3,121.2 642.7,124.5 641.1,127.7 639.6,131.0 639.7,133.8 639.8,136.6 639.9,139.4 640.1,142.1 640.3,144.9 642.4,146.4 644.6,147.9 646.8,149.4 649.4,151.2 652.1,153.1 654.1,154.5 656.1,156.0 658.1,157.5 660.2,158.9 661.1,161.3 662.0,163.7 662.9,166.9 663.8,170.0 664.7,173.2 665.6,176.3 667.9,177.1 670.2,177.9 672.5,178.8 674.7,178.6 676.9,178.4 679.1,178.2 681.2,178.0 683.4,177.8 685.5,177.6 687.6,177.4 689.8,177.1 691.9,176.9 694.0,176.6 696.2,176.3 698.4,176.0 700.6,175.7 702.8,175.3Z M665.9,110.4 668.0,109.1 670.2,107.8 672.3,106.5 674.5,105.2 676.6,103.9 678.7,102.0 680.8,100.1 683.0,98.2 685.1,96.3 687.2,94.4 689.3,92.5 691.3,91.9 693.3,91.2 695.3,90.6 696.3,93.7 697.2,96.8 698.2,99.9 699.1,103.0 700.1,106.1 702.4,105.8 704.7,105.6 707.0,105.3 709.3,105.0 711.6,104.8 713.9,104.5 716.2,103.4 718.5,102.4 720.8,101.3 723.1,100.2 725.4,99.2 727.7,98.1 730.0,97.0 732.3,95.9 734.1,97.0 736.0,98.1 737.8,99.2 740.2,101.1 742.6,102.9 745.0,104.8 743.2,106.0 741.4,107.2 739.6,108.4 737.8,109.6 735.4,109.7 733.1,109.8 730.7,109.9 728.4,110.0 726.0,110.0 723.5,110.8 721.0,111.6 718.4,112.4 715.9,113.2 713.4,114.0 711.1,117.2 708.8,120.4 706.5,123.5 704.1,126.7 701.8,129.8 700.4,127.2 698.9,124.5 697.4,121.8 696.0,119.2 694.6,116.5 692.1,116.4 689.6,116.3 687.1,116.2 684.7,116.1 682.2,116.0 680.1,115.6 678.0,115.3 675.9,114.9 673.9,114.6 671.8,114.2 669.7,113.8 667.8,112.1Z M722.4,186.3 723.4,182.7 724.4,179.2 724.9,176.0 725.5,172.7 726.1,169.5 724.3,166.1 722.6,162.8 721.0,159.5 719.5,156.2 718.0,152.9 718.6,149.9 719.3,147.0 719.9,144.1 720.6,141.1 720.8,138.3 721.0,135.4 721.2,132.6 721.4,129.8 723.9,127.6 726.3,125.5 728.7,123.3 730.8,121.8 732.9,120.3 734.9,118.8 736.1,115.3 737.4,111.8 740.0,112.5 742.5,113.2 745.1,114.0 747.7,114.7 750.2,117.1 752.7,119.5 755.3,121.8 757.8,124.2 758.4,127.0 759.1,129.8 759.7,132.6 758.2,135.9 756.6,139.2 755.1,142.5 753.6,145.9 755.3,143.8 757.0,141.8 758.7,139.7 760.9,138.8 763.0,137.8 765.1,136.9 767.0,139.1 768.8,141.4 770.7,143.7 771.6,146.2 772.6,148.7 773.5,151.2 774.4,153.7 774.1,157.4 773.8,161.1 771.6,163.4 769.5,165.6 767.4,167.8 766.5,171.4 765.7,175.1 765.0,178.8 762.6,179.2 760.1,179.7 757.6,180.3 755.1,180.8 752.6,181.4 750.0,181.9 747.5,182.5 745.0,182.9 742.4,183.3 739.9,183.8 737.4,184.2 734.8,184.6 732.3,185.0 729.8,185.3 727.3,185.7 724.9,186.0Z M798.4,166.3 801.8,163.7 805.4,161.2 808.7,158.6 811.4,156.0 811.3,158.7 811.1,161.4 813.2,160.3 814.9,159.3 816.3,158.4 817.5,157.6 818.7,156.8 819.9,156.2 821.2,155.7 822.7,155.3 824.3,154.9 826.0,154.6 827.8,154.3 829.8,154.1 831.9,153.8 834.2,153.4 836.5,153.0 839.0,152.6 841.6,152.1 844.2,151.6 846.9,151.0 849.6,150.3 852.4,149.6 855.2,148.8 857.9,148.0 860.4,148.6 862.8,149.1 866.0,150.8 869.2,152.5 872.2,154.1 871.9,157.1 871.5,160.2 871.0,163.6 873.3,165.6 875.5,167.7 877.4,169.8 879.1,172.1 877.8,175.1 876.5,178.2 875.1,181.3 873.6,183.2 872.1,185.0 870.0,187.3 867.9,189.3 865.5,190.4 862.9,191.3 860.3,192.0 857.7,192.7 855.1,193.2 852.4,193.7 849.7,194.2 847.0,194.6 844.3,195.0 841.6,195.3 838.9,195.7 836.2,196.1 833.5,196.5 830.8,196.9 828.1,197.4 825.4,197.8 822.7,198.3 820.0,198.9 817.4,199.4 815.0,200.0 812.6,200.6 810.3,201.2 808.0,202.0 805.8,202.9 803.7,204.0 803.4,201.6 803.3,199.3 803.2,197.0 803.1,194.5 802.9,191.9 802.4,188.6 801.7,185.1 800.9,181.4 800.1,177.7 799.4,173.9 798.8,170.1Z M872.2,154.1 869.2,152.5 866.0,150.8 862.8,149.1 860.4,148.6 857.9,148.0 855.2,148.8 852.4,149.6 849.6,150.3 846.9,151.0 844.2,151.6 841.6,152.1 839.0,152.6 836.5,153.0 834.2,153.4 831.9,153.8 829.8,154.1 827.8,154.3 826.0,154.6 824.3,154.9 822.7,155.3 821.2,155.7 819.9,156.2 818.7,156.8 817.5,157.6 816.3,158.4 814.9,159.3 813.2,160.3 811.1,161.4 811.3,158.7 811.4,156.0 812.2,152.7 812.2,149.5 811.8,146.5 811.4,143.7 811.4,141.1 811.2,139.5 811.3,138.0 812.2,137.2 813.0,136.3 814.0,135.6 815.1,135.0 816.3,134.5 817.6,134.1 819.2,134.0 820.9,134.0 822.7,134.1 824.7,134.1 827.0,134.2 829.8,132.9 833.0,131.4 836.2,129.9 839.3,128.1 840.1,125.3 840.8,122.3 841.2,119.3 842.3,116.1 842.8,113.1 843.1,110.1 844.1,107.8 845.2,105.6 846.3,103.5 847.4,101.3 848.7,99.2 850.2,96.9 852.6,96.3 855.3,95.6 858.0,94.9 860.8,94.2 863.6,93.5 866.3,92.7 868.9,92.0 869.5,95.0 870.0,97.8 870.6,100.5 871.2,103.1 871.9,105.6 872.5,108.1 873.6,110.0 874.7,111.9 875.8,113.7 876.6,116.0 877.4,118.4 878.4,120.8 879.4,123.3 880.4,126.0 881.0,129.3 881.6,132.7 882.2,136.0 882.7,139.4 883.7,142.7 884.5,146.0 885.3,149.1 886.2,152.1 887.3,154.9 885.9,155.8 886.2,156.9 886.5,158.0 886.1,158.6 885.7,159.4 884.8,157.7 883.8,156.1 881.2,155.5 878.4,154.9 875.4,154.5Z M886.3,160.8 888.1,160.3 889.7,160.0 891.5,159.7 893.4,159.3 895.5,158.8 897.1,157.5 898.8,156.1 900.6,154.7 902.4,153.1 904.2,151.6 906.1,150.0 904.1,150.9 902.2,151.9 900.2,152.8 898.3,153.7 896.2,154.3 894.2,155.0 892.1,155.6 890.2,156.2 888.3,156.7 887.3,157.4 886.5,158.0 885.7,158.7Z M872.2,154.1 875.4,154.5 878.4,154.9 881.2,155.5 883.8,156.1 884.8,157.7 885.7,159.4 885.0,161.3 884.1,163.5 885.6,163.3 887.0,163.2 887.4,166.3 887.6,169.6 887.1,173.5 886.4,177.4 885.6,181.3 884.0,185.1 882.4,189.0 880.8,192.9 879.5,197.0 877.4,194.4 875.5,192.2 873.6,190.3 871.5,188.4 872.1,185.0 873.6,183.2 875.1,181.3 876.5,178.2 877.8,175.1 879.1,172.1 877.4,169.8 875.5,167.7 873.3,165.6 871.0,163.6 871.5,160.2 871.9,157.1Z M867.9,189.3 870.0,187.3 872.1,185.0 871.1,189.7 872.8,191.3 874.4,193.0 875.5,195.5 876.7,198.4 878.3,201.7 879.5,205.4 880.7,209.0 878.8,209.6 877.0,210.1 875.1,210.6 873.2,211.0 872.2,207.9 871.2,204.6 870.4,201.4 869.7,198.3 869.1,195.3 868.6,192.4Z M817.4,199.4 820.0,198.9 822.7,198.3 825.4,197.8 828.1,197.4 830.8,196.9 833.5,196.5 836.2,196.1 838.9,195.7 841.6,195.3 844.3,195.0 847.0,194.6 849.7,194.2 852.4,193.7 855.1,193.2 857.7,192.7 860.3,192.0 862.9,191.3 865.5,190.4 867.9,189.3 868.6,192.4 869.1,195.3 869.7,198.3 870.4,201.4 871.2,204.6 872.2,207.9 873.2,211.0 875.1,210.6 877.0,210.1 878.8,209.6 880.7,209.0 880.7,211.9 880.6,214.4 880.5,216.8 878.3,217.6 876.0,218.4 873.7,219.2 871.1,217.0 868.5,214.7 867.3,212.7 866.1,210.8 864.9,208.8 865.2,206.1 865.4,203.4 865.7,200.6 865.2,197.7 864.7,194.8 863.9,198.0 863.2,201.2 862.5,204.2 863.0,206.7 863.4,209.1 863.8,211.5 864.3,213.8 866.1,216.6 867.9,219.3 865.1,218.3 862.3,217.2 859.4,216.1 856.5,215.0 854.4,213.7 852.3,212.4 853.5,210.3 854.7,208.2 852.1,206.5 849.6,204.8 847.0,203.1 845.3,202.5 843.5,201.9 840.4,200.6 837.2,199.2 834.1,197.9 831.8,198.4 829.5,198.9 827.2,199.5 825.2,201.4 823.2,203.4 821.3,205.4 819.4,207.5 818.6,204.8 817.9,202.1Z M882.7,139.4 884.9,138.6 887.0,137.8 889.1,137.0 891.3,136.3 893.5,135.7 895.8,135.1 898.1,134.7 900.4,134.2 902.8,133.8 903.7,136.9 904.6,139.8 905.3,142.6 906.1,145.3 903.9,146.2 901.8,147.0 899.7,147.8 897.5,148.6 895.4,149.4 893.2,150.2 891.2,151.8 889.3,153.2 887.5,154.6 885.9,155.8 887.3,154.9 886.2,152.1 885.3,149.1 884.5,146.0 883.7,142.7Z M913.3,140.1 911.6,137.7 909.7,135.2 907.8,132.5 906.1,133.0 904.4,133.4 902.8,133.8 903.7,136.9 904.6,139.8 905.3,142.6 906.1,145.3 908.1,144.4 910.0,143.4 911.7,141.8Z M880.4,126.0 882.3,125.1 884.1,124.2 885.9,123.3 887.7,122.6 889.6,121.9 892.0,121.4 894.4,121.1 896.9,120.9 899.4,120.7 901.9,120.4 904.3,120.1 906.1,118.1 907.8,116.1 910.4,117.6 913.1,119.2 912.2,121.3 911.3,123.5 910.3,125.6 913.7,128.5 916.8,131.2 918.7,133.5 920.7,132.3 922.6,131.1 924.6,129.9 924.4,126.8 925.2,129.5 925.9,132.1 924.1,133.5 922.3,134.9 920.4,136.3 918.5,137.6 916.8,138.5 915.1,139.3 913.3,140.1 911.6,137.7 909.7,135.2 907.8,132.5 906.1,133.0 904.4,133.4 902.8,133.8 900.4,134.2 898.1,134.7 895.8,135.1 893.5,135.7 891.3,136.3 889.1,137.0 887.0,137.8 884.9,138.6 882.7,139.4 882.2,136.0 881.6,132.7 881.0,129.3Z M868.9,92.0 871.1,91.3 873.1,90.6 875.1,89.9 877.1,89.2 879.0,88.5 880.9,87.8 882.8,87.2 884.6,86.5 886.5,85.9 888.4,85.2 887.9,88.6 887.4,91.9 886.9,94.9 886.3,97.8 886.1,100.4 886.0,102.8 885.9,105.3 885.7,107.7 885.6,110.1 886.3,112.3 887.1,114.5 887.8,116.8 888.7,119.2 889.6,121.9 887.7,122.6 885.9,123.3 884.1,124.2 882.3,125.1 880.4,126.0 879.4,123.3 878.4,120.8 877.4,118.4 876.6,116.0 875.8,113.7 874.7,111.9 873.6,110.0 872.5,108.1 871.9,105.6 871.2,103.1 870.6,100.5 870.0,97.8 869.5,95.0Z M888.4,85.2 889.4,82.8 890.4,80.2 891.4,77.4 892.5,81.3 893.6,84.8 894.7,87.9 895.7,90.8 896.8,93.6 897.9,96.2 899.1,98.9 900.3,101.5 902.2,104.0 904.3,106.7 906.6,109.6 908.9,112.6 908.3,114.3 907.8,116.1 906.1,118.1 904.3,120.1 901.9,120.4 899.4,120.7 896.9,120.9 894.4,121.1 892.0,121.4 889.6,121.9 888.7,119.2 887.8,116.8 887.1,114.5 886.3,112.3 885.6,110.1 885.7,107.7 885.9,105.3 886.0,102.8 886.1,100.4 886.3,97.8 886.9,94.9 887.4,91.9 887.9,88.6Z M891.4,77.4 892.7,75.3 894.0,73.1 894.7,67.6 895.4,61.8 896.2,56.0 897.0,50.4 897.2,46.1 897.4,42.0 897.8,38.3 898.4,35.2 901.3,33.3 904.5,32.6 907.6,32.3 910.2,31.9 911.6,33.1 912.8,34.2 913.8,35.3 914.7,36.5 915.6,37.5 916.5,39.4 917.5,41.1 918.9,42.8 920.0,44.9 921.5,47.0 923.3,49.2 925.1,51.4 926.9,53.7 928.4,56.0 930.9,57.4 933.1,58.3 934.6,59.5 936.0,60.7 937.5,62.0 939.1,63.5 937.9,65.8 936.7,68.4 935.5,71.2 934.0,73.2 932.6,75.2 931.1,77.2 929.6,79.3 927.7,81.5 925.8,83.7 923.9,85.9 921.9,87.9 920.0,90.4 918.0,92.7 916.1,95.0 914.1,97.2 912.8,98.5 911.5,99.8 910.3,101.1 909.7,104.9 909.3,108.7 908.9,112.6 906.6,109.6 904.3,106.7 902.2,104.0 900.3,101.5 899.1,98.9 897.9,96.2 896.8,93.6 895.7,90.8 894.7,87.9 893.6,84.8 892.5,81.3Z"/>
<path fill="#fff" stroke="#000" stroke-opacity="0.72" stroke-width="0.9" d="M697,385.8 L700,383.6 L705,383.4 L707.6,385.4 L705.2,388 L699.2,388.4Z"/>
<text x="324.5" y="87.20" class="lbl" fill="#151515" stroke="#151515" stroke-width="0.25">WA</text>
<text x="302.5" y="136.70" class="lbl" fill="#151515" stroke="#151515" stroke-width="0.25">OR</text>
<text x="446.5" y="105.80" class="lbl" fill="#151515" stroke="#151515" stroke-width="0.25">MT</text>
<text x="380" y="162.95" class="lbl" fill="#151515" stroke="#151515" stroke-width="0.25">ID</text>
<text x="543.75" y="101.70" class="lbl" fill="#151515" stroke="#151515" stroke-width="0.25">ND</text>
<text x="618.75" y="122.20" class="lbl" fill="#fff" stroke="#fff" stroke-width="0.25">MN</text>
<text x="547" y="156.20" class="lbl" fill="#151515" stroke="#151515" stroke-width="0.25">SD</text>
<text x="677.5" y="150.95" class="lbl" fill="#151515" stroke="#151515" stroke-width="0.25">WI</text>
<text x="910" y="77.20" class="lbl" fill="#fff" stroke="#fff" stroke-width="0.25">ME</text>
<text x="855" y="134.95" class="lbl" fill="#fff" stroke="#fff" stroke-width="0.25">NY</text>
<text x="744.25" y="163.70" class="lbl" fill="#151515" stroke="#151515" stroke-width="0.25">MI</text>
<text x="336.25" y="216.70" class="lbl" fill="#151515" stroke="#151515" stroke-width="0.25">NV</text>
<text x="405" y="231.70" class="lbl" fill="#151515" stroke="#151515" stroke-width="0.25">UT</text>
<text x="287.5" y="257.45" class="lbl" fill="#151515" stroke="#151515" stroke-width="0.25">CA</text>
<text x="460.75" y="183.45" class="lbl" fill="#151515" stroke="#151515" stroke-width="0.25">WY</text>
<text x="472.5" y="244.20" class="lbl" fill="#151515" stroke="#151515" stroke-width="0.25">CO</text>
<text x="385.75" y="316.20" class="lbl" fill="#151515" stroke="#151515" stroke-width="0.25">AZ</text>
<text x="469.5" y="322.95" class="lbl" fill="#151515" stroke="#151515" stroke-width="0.25">NM</text>
<text x="590.5" y="311.20" class="lbl" fill="#151515" stroke="#151515" stroke-width="0.25">OK</text>
<text x="660" y="315.45" class="lbl" fill="#151515" stroke="#151515" stroke-width="0.25">AR</text>
<text x="556.25" y="377.95" class="lbl" fill="#151515" stroke="#151515" stroke-width="0.25">TX</text>
<text x="665.5" y="383.70" class="lbl" fill="#fff" stroke="#fff" stroke-width="0.25">LA</text>
<text x="558.5" y="207.95" class="lbl" fill="#151515" stroke="#151515" stroke-width="0.25">NE</text>
<text x="570" y="260.70" class="lbl" fill="#151515" stroke="#151515" stroke-width="0.25">KS</text>
<text x="622.5" y="195.45" class="lbl" fill="#151515" stroke="#151515" stroke-width="0.25">IA</text>
<text x="660.5" y="256.70" class="lbl" fill="#151515" stroke="#151515" stroke-width="0.25">MO</text>
<text x="689.5" y="225.45" class="lbl" fill="#fff" stroke="#fff" stroke-width="0.25">IL</text>
<text x="730.5" y="220.95" class="lbl" fill="#fff" stroke="#fff" stroke-width="0.25">IN</text>
<text x="778.75" y="210.45" class="lbl" fill="#151515" stroke="#151515" stroke-width="0.25">OH</text>
<text x="824.5" y="187.45" class="lbl" fill="#fff" stroke="#fff" stroke-width="0.25">PA</text>
<text x="807.5" y="231.70" class="lbl" fill="#fff" stroke="#fff" stroke-width="0.25">WV</text>
<text x="842" y="239.95" class="lbl" fill="#fff" stroke="#fff" stroke-width="0.25">VA</text>
<text x="757" y="253.45" class="lbl" fill="#fff" stroke="#fff" stroke-width="0.25">KY</text>
<text x="838.25" y="269.95" class="lbl" fill="#fff" stroke="#fff" stroke-width="0.25">NC</text>
<text x="738" y="286.20" class="lbl" fill="#fff" stroke="#fff" stroke-width="0.25">TN</text>
<text x="828.75" y="308.45" class="lbl" fill="#fff" stroke="#fff" stroke-width="0.25">SC</text>
<text x="793" y="333.45" class="lbl" fill="#fff" stroke="#fff" stroke-width="0.25">GA</text>
<text x="704.5" y="349.95" class="lbl" fill="#fff" stroke="#fff" stroke-width="0.25">MS</text>
<text x="737.75" y="343.45" class="lbl" fill="#fff" stroke="#fff" stroke-width="0.25">AL</text>
<text x="835" y="413.45" class="lbl" fill="#fff" stroke="#fff" stroke-width="0.25">FL</text>
</svg>
<svg style="position:absolute;left:0;top:0" width="240" height="540" viewBox="0 0 240 540">
<defs>
<linearGradient id="swoosh" x1="0" x2="1"><stop offset="0" stop-color="#fff"/><stop offset="1" stop-color="#555"/></linearGradient>
</defs>
<!-- logo -->
<path d="M46.5,76.8 Q46.5,70 49,68.5 L75.8,65.6 L86.3,55.5 L101.5,54.3 Q103.5,54.5 103.5,57 L103.8,63" fill="none" stroke="#5a5a5a" stroke-width="1.6" stroke-linejoin="round"/>
<path d="M133,66.2 L152,66.8 L153,70" fill="none" stroke="#5a5a5a" stroke-width="1.6"/>
<path d="M70,74.5 Q90,72 93,70.5 L103,65.5 Q110,64 125,64.5 L137,72 L162,73.8 Q168,74.5 168,78 L167.5,80" fill="none" stroke="#2eaa3c" stroke-width="1.7" stroke-linejoin="round"/>
<text x="51" y="86" font-family="Liberation Sans" font-weight="bold" font-style="italic" font-size="10.6" fill="#3a3a3a" stroke="#3a3a3a" stroke-width="0.45" textLength="108" lengthAdjust="spacingAndGlyphs">OEM USED AUTO</text>
<rect x="80" y="88" width="57" height="3" fill="url(#swoosh)"/>
<text x="137.5" y="91.8" font-family="Liberation Sans" font-weight="bold" font-style="italic" font-size="5.6" fill="#2eaa3c" textLength="27" lengthAdjust="spacingAndGlyphs">PARTS</text>
<!-- truck -->
<g fill="none" stroke="#58a51b" stroke-width="5.4" stroke-linecap="round" stroke-linejoin="round">
<path d="M90.8,149.7 L130.6,149.7 Q134.6,149.7 134.6,153.7 L134.6,192"/>
<path d="M79,165 L102,165"/>
<path d="M93.6,178.9 L105.4,178.9"/>
<path d="M134.6,159.4 L152,159.4 L158.9,173.3 Q163,175 163,179 L163,189.5 Q163,193.5 159,193.5"/>
<path d="M134.6,174 L160.3,174"/>
<path d="M111,193.5 L138,193.5"/>
<circle cx="100.6" cy="199.7" r="8.6"/>
<circle cx="148.5" cy="199.7" r="8.6"/>
</g>
<!-- clock -->
<g stroke="#58a51b" stroke-width="4.4" stroke-linecap="round">
<path d="M82.2,332.4 L104,332.4"/><path d="M73.3,350.4 L100,350.4"/><path d="M64.6,369.4 L104,369.4"/>
</g>
<circle cx="143.8" cy="350.5" r="40.2" fill="#fbfbfb" stroke="#58a51b" stroke-width="11.2"/>
<path d="M142,316 A34.5,34.5 0 0 0 142,385 Z" fill="#e3e3e6"/>
<g fill="#4a5462">
<rect x="142.2" y="320.4" width="4.1" height="4.6"/>
<rect x="142.2" y="376.4" width="4.1" height="4.6"/>
<rect x="169.8" y="348.3" width="4.6" height="4.1"/>
<rect x="114.2" y="348.3" width="4.6" height="4.1"/>
<rect x="122.4" y="329.1" width="4" height="4" transform="rotate(45 124.4 331.1)"/>
<rect x="162" y="329.1" width="4" height="4" transform="rotate(45 164 331.1)"/>
<rect x="122.4" y="368" width="4" height="4" transform="rotate(45 124.4 370)"/>
<rect x="162" y="368" width="4" height="4" transform="rotate(45 164 370)"/>
</g>
<path d="M143.7,332.4 L143.7,354.6 L134,369.4" fill="none" stroke="#4a5462" stroke-width="3.3" stroke-linejoin="round"/>
</svg>
<svg style="position:absolute;left:0;top:0" width="960" height="540" viewBox="0 0 960 540">
<g font-family="Liberation Sans" font-size="17" fill="#1c1c1c" stroke="#1c1c1c" stroke-width="0.2">
<text x="35" y="246.5" textLength="182" lengthAdjust="spacingAndGlyphs">Fast Delivery Across</text>
<text x="81.3" y="274" textLength="89" lengthAdjust="spacingAndGlyphs">the nation</text>
<text x="29.4" y="429.1" textLength="193" lengthAdjust="spacingAndGlyphs">Same Day Processing</text>
<text x="27.9" y="457.5" textLength="196" lengthAdjust="spacingAndGlyphs">Order Before 7am PST</text>
</g>
<g fill="#5f5f5f" font-family="Liberation Sans" font-size="16">
<text x="437.6" y="509.2" textLength="42">1 Day</text>
<text x="554.7" y="509.2" textLength="51.5">2 Days</text>
<text x="681.7" y="509.2" textLength="52">3 Days</text>
<text x="808.2" y="509.2" textLength="52.5">4 Days</text>
</g>
<rect x="406.6" y="498.9" width="22" height="3.3" fill="#f3cf36"/><rect x="406.6" y="502.2" width="22" height="5" fill="#fcf3d2"/>
<rect x="524" y="498.9" width="22" height="3.3" fill="#e29a2c"/><rect x="524" y="502.2" width="22" height="5" fill="#f8e4ca"/>
<rect x="651" y="498.9" width="22" height="3.3" fill="#a1bb26"/><rect x="651" y="502.2" width="22" height="5" fill="#e8eecb"/>
<rect x="778.5" y="498.9" width="22" height="3.3" fill="#b71c1c"/><rect x="778.5" y="502.2" width="22" height="5" fill="#f2cccc"/>
</svg>

</body></html>
